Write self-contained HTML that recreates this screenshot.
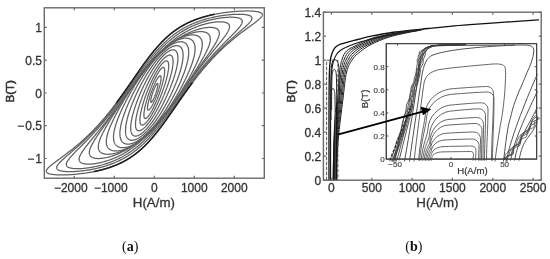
<!DOCTYPE html>
<html><head><meta charset="utf-8"><style>html,body{margin:0;padding:0;background:#fff;}svg{display:block;filter:blur(0.3px);}</style></head>
<body>
<svg width="550" height="259" viewBox="0 0 550 259">
<rect width="550" height="259" fill="#fff"/>
<g fill="none" stroke="#606060" stroke-width="1.25">
<path d="M246.92,10.98 246.06,10.98 245.17,10.99 244.27,11.00 243.35,11.03 242.42,11.06 241.47,11.09 240.51,11.13 239.53,11.18 238.54,11.24 237.54,11.30 236.53,11.37 235.51,11.45 234.47,11.53 233.43,11.62 232.38,11.71 231.32,11.82 230.26,11.93 229.18,12.04 228.10,12.17 227.02,12.30 225.93,12.44 224.83,12.58 223.73,12.74 222.63,12.90 221.52,13.07 220.41,13.25 219.30,13.43 218.19,13.62 217.07,13.83 215.96,14.04 214.85,14.25 213.73,14.48 212.62,14.72 211.51,14.96 210.39,15.21 209.29,15.48 208.18,15.75 207.08,16.03 205.97,16.32 204.88,16.62 203.78,16.93 202.69,17.25 201.60,17.58 200.52,17.92 199.44,18.28 198.37,18.64 197.30,19.01 196.23,19.40 195.17,19.79 194.12,20.20 193.07,20.62 192.03,21.06 190.99,21.50 189.96,21.96 188.93,22.43 187.91,22.91 186.90,23.41 185.89,23.92 184.88,24.44 183.88,24.98 182.89,25.53 181.90,26.09 180.92,26.67 179.95,27.26 178.98,27.87 178.01,28.50 177.05,29.14 176.10,29.79 175.15,30.46 174.20,31.15 173.26,31.85 172.33,32.57 171.39,33.30 170.47,34.05 169.54,34.82 168.63,35.60 167.71,36.41 166.80,37.22 165.89,38.06 164.98,38.91 164.08,39.78 163.18,40.67 162.28,41.57 161.39,42.50 160.49,43.43 159.60,44.39 158.71,45.37 157.82,46.36 156.93,47.37 156.05,48.39 155.16,49.44 154.27,50.50 153.39,51.58 152.50,52.67 151.61,53.78 150.72,54.91 149.83,56.05 148.94,57.21 148.05,58.39 147.16,59.58 146.26,60.79 145.36,62.01 144.46,63.24 143.56,64.49 142.65,65.75 141.75,67.03 140.83,68.31 139.92,69.61 139.00,70.92 138.08,72.24 137.15,73.58 136.22,74.92 135.28,76.27 134.34,77.63 133.39,79.00 132.44,80.37 131.49,81.75 130.53,83.14 129.56,84.53 128.59,85.93 127.62,87.33 126.64,88.73 125.65,90.14 124.65,91.54 123.66,92.95 122.65,94.36 121.64,95.76 120.63,97.17 119.61,98.57 118.58,99.97 117.55,101.37 116.51,102.76 115.46,104.15 114.41,105.53 113.36,106.90 112.30,108.27 111.24,109.63 110.17,110.98 109.09,112.32 108.01,113.66 106.93,114.98 105.84,116.29 104.75,117.59 103.66,118.87 102.56,120.15 101.46,121.41 100.35,122.66 99.25,123.89 98.14,125.11 97.03,126.32 95.91,127.51 94.80,128.69 93.69,129.85 92.57,130.99 91.46,132.12 90.34,133.23 89.23,134.32 88.12,135.40 87.01,136.46 85.91,137.51 84.80,138.53 83.70,139.54 82.61,140.53 81.52,141.51 80.43,142.47 79.35,143.40 78.28,144.33 77.21,145.23 76.15,146.12 75.10,146.99 74.06,147.84 73.03,148.68 72.01,149.49 71.00,150.30 70.00,151.08 69.01,151.85 68.03,152.60 67.07,153.33 66.13,154.05 65.19,154.75 64.28,155.44 63.38,156.11 62.49,156.76 61.62,157.40 60.77,158.03 59.94,158.64 59.13,159.23 58.34,159.81 57.57,160.37 56.82,160.92 56.09,161.46 55.38,161.98 54.70,162.49 54.04,162.99 53.40,163.47 52.79,163.94 52.21,164.40 51.64,164.84 51.11,165.28 50.60,165.70 50.12,166.11 49.66,166.50 49.23,166.89 48.83,167.26 48.46,167.62 48.12,167.98 47.80,168.32 47.52,168.65 47.26,168.97 47.04,169.28 46.84,169.58 46.68,169.87 46.54,170.15 46.43,170.42 46.36,170.69 46.31,170.94 46.30,171.18 46.32,171.42 46.36,171.65 46.44,171.86 46.55,172.07 46.69,172.28 46.85,172.47 47.05,172.65 47.28,172.83 47.54,173.00 47.82,173.16 48.14,173.32 48.48,173.46 48.86,173.60 49.26,173.73 49.69,173.86 50.15,173.97 50.63,174.08 51.14,174.19 51.68,174.28 52.24,174.37 52.83,174.45 53.44,174.53 54.08,174.60 54.74,174.66 55.43,174.72 56.14,174.77 56.87,174.81 57.62,174.84 58.39,174.87 59.18,174.90 59.99,174.91 60.83,174.92 61.68,174.93 62.54,174.92 63.43,174.91 64.33,174.90 65.25,174.87 66.18,174.84 67.13,174.81 68.09,174.77 69.07,174.72 70.06,174.66 71.06,174.60 72.07,174.53 73.09,174.45 74.13,174.37 75.17,174.28 76.22,174.19 77.28,174.08 78.34,173.97 79.42,173.86 80.50,173.73 81.58,173.60 82.67,173.46 83.77,173.32 84.87,173.16 85.97,173.00 87.08,172.83 88.19,172.65 89.30,172.47 90.41,172.28 91.53,172.07 92.64,171.86 93.75,171.65 94.87,171.42 95.98,171.18 97.09,170.94 98.21,170.69 99.31,170.42 100.42,170.15 101.52,169.87 102.63,169.58 103.72,169.28 104.82,168.97 105.91,168.65 107.00,168.32 108.08,167.98 109.16,167.62 110.23,167.26 111.30,166.89 112.37,166.50 113.43,166.11 114.48,165.70 115.53,165.28 116.57,164.84 117.61,164.40 118.64,163.94 119.67,163.47 120.69,162.99 121.70,162.49 122.71,161.98 123.72,161.46 124.72,160.92 125.71,160.37 126.70,159.81 127.68,159.23 128.65,158.64 129.62,158.03 130.59,157.40 131.55,156.76 132.50,156.11 133.45,155.44 134.40,154.75 135.34,154.05 136.27,153.33 137.21,152.60 138.13,151.85 139.06,151.08 139.97,150.30 140.89,149.49 141.80,148.68 142.71,147.84 143.62,146.99 144.52,146.12 145.42,145.23 146.32,144.33 147.21,143.40 148.11,142.47 149.00,141.51 149.89,140.53 150.78,139.54 151.67,138.53 152.55,137.51 153.44,136.46 154.33,135.40 155.21,134.32 156.10,133.23 156.99,132.12 157.88,130.99 158.77,129.85 159.66,128.69 160.55,127.51 161.44,126.32 162.34,125.11 163.24,123.89 164.14,122.66 165.04,121.41 165.95,120.15 166.85,118.87 167.77,117.59 168.68,116.29 169.60,114.98 170.52,113.66 171.45,112.32 172.38,110.98 173.32,109.63 174.26,108.27 175.21,106.90 176.16,105.53 177.11,104.15 178.07,102.76 179.04,101.37 180.01,99.97 180.98,98.57 181.96,97.17 182.95,95.76 183.95,94.36 184.94,92.95 185.95,91.54 186.96,90.14 187.97,88.73 188.99,87.33 190.02,85.93 191.05,84.53 192.09,83.14 193.14,81.75 194.19,80.37 195.24,79.00 196.30,77.63 197.36,76.27 198.43,74.92 199.51,73.58 200.59,72.24 201.67,70.92 202.76,69.61 203.85,68.31 204.94,67.03 206.04,65.75 207.14,64.49 208.25,63.24 209.35,62.01 210.46,60.79 211.57,59.58 212.69,58.39 213.80,57.21 214.91,56.05 216.03,54.91 217.14,53.78 218.26,52.67 219.37,51.58 220.48,50.50 221.59,49.44 222.69,48.39 223.80,47.37 224.90,46.36 225.99,45.37 227.08,44.39 228.17,43.43 229.25,42.50 230.32,41.57 231.39,40.67 232.45,39.78 233.50,38.91 234.54,38.06 235.57,37.22 236.59,36.41 237.60,35.60 238.60,34.82 239.59,34.05 240.57,33.30 241.53,32.57 242.47,31.85 243.41,31.15 244.32,30.46 245.22,29.79 246.11,29.14 246.98,28.50 247.83,27.87 248.66,27.26 249.47,26.67 250.26,26.09 251.03,25.53 251.78,24.98 252.51,24.44 253.22,23.92 253.90,23.41 254.56,22.91 255.20,22.43 255.81,21.96 256.39,21.50 256.96,21.06 257.49,20.62 258.00,20.20 258.48,19.79 258.94,19.40 259.37,19.01 259.77,18.64 260.14,18.28 260.48,17.92 260.80,17.58 261.08,17.25 261.34,16.93 261.56,16.62 261.76,16.32 261.92,16.03 262.06,15.75 262.17,15.48 262.24,15.21 262.29,14.96 262.30,14.72 262.28,14.48 262.24,14.25 262.16,14.04 262.05,13.83 261.91,13.62 261.75,13.43 261.55,13.25 261.32,13.07 261.06,12.90 260.78,12.74 260.46,12.58 260.12,12.44 259.74,12.30 259.34,12.17 258.91,12.04 258.45,11.93 257.97,11.82 257.46,11.71 256.92,11.62 256.36,11.53 255.77,11.45 255.16,11.37 254.52,11.30 253.86,11.24 253.17,11.18 252.46,11.13 251.73,11.09 250.98,11.06 250.21,11.03 249.42,11.00 248.61,10.99 247.77,10.98Z"/>
<path d="M238.86,14.25 238.12,14.26 237.36,14.27 236.59,14.29 235.81,14.31 235.01,14.34 234.19,14.38 233.37,14.43 232.53,14.48 231.68,14.54 230.81,14.60 229.94,14.68 229.06,14.76 228.16,14.85 227.26,14.94 226.35,15.05 225.43,15.16 224.50,15.28 223.57,15.40 222.62,15.53 221.68,15.67 220.72,15.82 219.76,15.98 218.80,16.14 217.83,16.32 216.85,16.50 215.87,16.68 214.89,16.88 213.91,17.09 212.92,17.30 211.93,17.52 210.94,17.75 209.95,17.99 208.96,18.24 207.96,18.50 206.97,18.76 205.98,19.04 204.98,19.33 203.99,19.62 202.99,19.92 202.00,20.24 201.01,20.56 200.02,20.90 199.03,21.24 198.05,21.60 197.07,21.96 196.08,22.34 195.11,22.72 194.13,23.12 193.16,23.53 192.19,23.95 191.22,24.38 190.25,24.83 189.29,25.28 188.33,25.75 187.38,26.23 186.43,26.72 185.48,27.22 184.54,27.74 183.60,28.27 182.66,28.81 181.73,29.37 180.80,29.94 179.87,30.52 178.95,31.11 178.03,31.72 177.12,32.34 176.21,32.98 175.30,33.63 174.39,34.30 173.49,34.98 172.59,35.67 171.70,36.38 170.80,37.10 169.91,37.84 169.03,38.59 168.14,39.36 167.26,40.14 166.38,40.93 165.50,41.75 164.63,42.57 163.76,43.42 162.88,44.27 162.01,45.14 161.15,46.03 160.28,46.93 159.41,47.85 158.55,48.78 157.68,49.73 156.82,50.69 155.96,51.67 155.10,52.66 154.23,53.66 153.37,54.68 152.51,55.72 151.65,56.76 150.78,57.82 149.92,58.90 149.05,59.98 148.19,61.09 147.32,62.20 146.45,63.32 145.58,64.46 144.71,65.61 143.84,66.77 142.96,67.94 142.08,69.12 141.20,70.31 140.32,71.52 139.44,72.73 138.55,73.95 137.66,75.18 136.77,76.41 135.87,77.65 134.97,78.90 134.07,80.16 133.16,81.42 132.25,82.69 131.34,83.96 130.43,85.24 129.51,86.52 128.58,87.80 127.66,89.09 126.73,90.37 125.79,91.66 124.86,92.95 123.92,94.24 122.97,95.53 122.02,96.81 121.07,98.10 120.12,99.38 119.16,100.66 118.20,101.94 117.23,103.21 116.27,104.48 115.29,105.74 114.32,107.00 113.34,108.25 112.37,109.49 111.38,110.72 110.40,111.95 109.41,113.17 108.43,114.38 107.44,115.59 106.45,116.78 105.45,117.96 104.46,119.13 103.47,120.29 102.47,121.44 101.48,122.58 100.48,123.70 99.49,124.81 98.50,125.92 97.50,127.00 96.51,128.08 95.53,129.14 94.54,130.18 93.56,131.22 92.58,132.24 91.60,133.24 90.63,134.23 89.66,135.21 88.69,136.17 87.73,137.12 86.78,138.05 85.83,138.97 84.89,139.87 83.96,140.76 83.03,141.63 82.11,142.48 81.20,143.33 80.30,144.15 79.41,144.97 78.53,145.76 77.65,146.54 76.79,147.31 75.94,148.06 75.11,148.80 74.28,149.52 73.47,150.23 72.67,150.92 71.89,151.60 71.12,152.27 70.36,152.92 69.63,153.56 68.90,154.18 68.20,154.79 67.51,155.38 66.83,155.96 66.18,156.53 65.54,157.09 64.93,157.63 64.33,158.16 63.75,158.68 63.20,159.18 62.66,159.67 62.14,160.15 61.65,160.62 61.18,161.07 60.72,161.52 60.30,161.95 59.89,162.37 59.51,162.78 59.15,163.18 58.81,163.56 58.50,163.94 58.21,164.30 57.95,164.66 57.71,165.00 57.50,165.34 57.31,165.66 57.15,165.98 57.01,166.28 56.90,166.57 56.81,166.86 56.75,167.14 56.71,167.40 56.70,167.66 56.71,167.91 56.76,168.15 56.82,168.38 56.91,168.60 57.03,168.81 57.17,169.02 57.34,169.22 57.53,169.40 57.75,169.58 57.99,169.76 58.26,169.92 58.55,170.08 58.86,170.23 59.20,170.37 59.57,170.50 59.95,170.62 60.36,170.74 60.79,170.85 61.25,170.96 61.72,171.05 62.22,171.14 62.74,171.22 63.28,171.30 63.84,171.36 64.42,171.42 65.02,171.47 65.64,171.52 66.28,171.56 66.94,171.59 67.61,171.61 68.30,171.63 69.01,171.64 69.74,171.65 70.48,171.64 71.24,171.63 72.01,171.61 72.79,171.59 73.59,171.56 74.41,171.52 75.23,171.47 76.07,171.42 76.92,171.36 77.79,171.30 78.66,171.22 79.54,171.14 80.44,171.05 81.34,170.96 82.25,170.85 83.17,170.74 84.10,170.62 85.03,170.50 85.98,170.37 86.92,170.23 87.88,170.08 88.84,169.92 89.80,169.76 90.77,169.58 91.75,169.40 92.73,169.22 93.71,169.02 94.69,168.81 95.68,168.60 96.67,168.38 97.66,168.15 98.65,167.91 99.64,167.66 100.64,167.40 101.63,167.14 102.62,166.86 103.62,166.57 104.61,166.28 105.61,165.98 106.60,165.66 107.59,165.34 108.58,165.00 109.57,164.66 110.55,164.30 111.53,163.94 112.52,163.56 113.49,163.18 114.47,162.78 115.44,162.37 116.41,161.95 117.38,161.52 118.35,161.07 119.31,160.62 120.27,160.15 121.22,159.67 122.17,159.18 123.12,158.68 124.06,158.16 125.00,157.63 125.94,157.09 126.87,156.53 127.80,155.96 128.73,155.38 129.65,154.79 130.57,154.18 131.48,153.56 132.39,152.92 133.30,152.27 134.21,151.60 135.11,150.92 136.01,150.23 136.90,149.52 137.80,148.80 138.69,148.06 139.57,147.31 140.46,146.54 141.34,145.76 142.22,144.97 143.10,144.15 143.97,143.33 144.84,142.48 145.72,141.63 146.59,140.76 147.45,139.87 148.32,138.97 149.19,138.05 150.05,137.12 150.92,136.17 151.78,135.21 152.64,134.23 153.50,133.24 154.37,132.24 155.23,131.22 156.09,130.18 156.95,129.14 157.82,128.08 158.68,127.00 159.55,125.92 160.41,124.81 161.28,123.70 162.15,122.58 163.02,121.44 163.89,120.29 164.76,119.13 165.64,117.96 166.52,116.78 167.40,115.59 168.28,114.38 169.16,113.17 170.05,111.95 170.94,110.72 171.83,109.49 172.73,108.25 173.63,107.00 174.53,105.74 175.44,104.48 176.35,103.21 177.26,101.94 178.17,100.66 179.09,99.38 180.02,98.10 180.94,96.81 181.87,95.53 182.81,94.24 183.74,92.95 184.68,91.66 185.63,90.37 186.58,89.09 187.53,87.80 188.48,86.52 189.44,85.24 190.40,83.96 191.37,82.69 192.33,81.42 193.31,80.16 194.28,78.90 195.26,77.65 196.23,76.41 197.22,75.18 198.20,73.95 199.19,72.73 200.17,71.52 201.16,70.31 202.15,69.12 203.15,67.94 204.14,66.77 205.13,65.61 206.13,64.46 207.12,63.32 208.12,62.20 209.11,61.09 210.10,59.98 211.10,58.90 212.09,57.82 213.07,56.76 214.06,55.72 215.04,54.68 216.02,53.66 217.00,52.66 217.97,51.67 218.94,50.69 219.91,49.73 220.87,48.78 221.82,47.85 222.77,46.93 223.71,46.03 224.64,45.14 225.57,44.27 226.49,43.42 227.40,42.57 228.30,41.75 229.19,40.93 230.07,40.14 230.95,39.36 231.81,38.59 232.66,37.84 233.49,37.10 234.32,36.38 235.13,35.67 235.93,34.98 236.71,34.30 237.48,33.63 238.24,32.98 238.97,32.34 239.70,31.72 240.40,31.11 241.09,30.52 241.77,29.94 242.42,29.37 243.06,28.81 243.67,28.27 244.27,27.74 244.85,27.22 245.40,26.72 245.94,26.23 246.46,25.75 246.95,25.28 247.42,24.83 247.88,24.38 248.30,23.95 248.71,23.53 249.09,23.12 249.45,22.72 249.79,22.34 250.10,21.96 250.39,21.60 250.65,21.24 250.89,20.90 251.10,20.56 251.29,20.24 251.45,19.92 251.59,19.62 251.70,19.33 251.79,19.04 251.85,18.76 251.89,18.50 251.90,18.24 251.89,17.99 251.84,17.75 251.78,17.52 251.69,17.30 251.57,17.09 251.43,16.88 251.26,16.68 251.07,16.50 250.85,16.32 250.61,16.14 250.34,15.98 250.05,15.82 249.74,15.67 249.40,15.53 249.03,15.40 248.65,15.28 248.24,15.16 247.81,15.05 247.35,14.94 246.88,14.85 246.38,14.76 245.86,14.68 245.32,14.60 244.76,14.54 244.18,14.48 243.58,14.43 242.96,14.38 242.32,14.34 241.66,14.31 240.99,14.29 240.30,14.27 239.59,14.26Z"/>
<path d="M231.11,17.21 230.47,17.21 229.82,17.22 229.16,17.24 228.48,17.26 227.80,17.30 227.09,17.34 226.38,17.39 225.66,17.44 224.92,17.51 224.18,17.58 223.42,17.66 222.65,17.74 221.88,17.84 221.10,17.94 220.30,18.05 219.50,18.16 218.69,18.29 217.88,18.42 217.05,18.56 216.23,18.71 215.39,18.87 214.55,19.03 213.70,19.20 212.85,19.39 211.99,19.58 211.13,19.77 210.26,19.98 209.39,20.19 208.52,20.42 207.64,20.65 206.76,20.89 205.88,21.14 205.00,21.40 204.11,21.67 203.22,21.95 202.33,22.23 201.44,22.53 200.55,22.84 199.66,23.15 198.76,23.48 197.87,23.81 196.97,24.16 196.08,24.51 195.19,24.88 194.29,25.25 193.40,25.64 192.51,26.04 191.62,26.44 190.73,26.86 189.84,27.29 188.95,27.73 188.07,28.18 187.18,28.64 186.30,29.12 185.42,29.60 184.54,30.10 183.66,30.61 182.79,31.13 181.91,31.66 181.04,32.20 180.17,32.76 179.30,33.33 178.44,33.91 177.57,34.50 176.71,35.11 175.85,35.73 174.99,36.36 174.14,37.00 173.28,37.66 172.43,38.33 171.58,39.01 170.73,39.71 169.89,40.42 169.04,41.14 168.20,41.87 167.36,42.62 166.52,43.38 165.68,44.16 164.85,44.95 164.01,45.75 163.18,46.56 162.34,47.39 161.51,48.23 160.68,49.08 159.85,49.95 159.02,50.83 158.19,51.72 157.36,52.63 156.53,53.54 155.71,54.47 154.88,55.42 154.05,56.37 153.22,57.34 152.40,58.31 151.57,59.30 150.74,60.31 149.91,61.32 149.08,62.34 148.25,63.38 147.42,64.42 146.59,65.48 145.76,66.54 144.92,67.62 144.09,68.70 143.25,69.79 142.41,70.89 141.57,72.00 140.73,73.12 139.89,74.25 139.05,75.38 138.20,76.52 137.35,77.67 136.51,78.82 135.65,79.98 134.80,81.14 133.95,82.31 133.09,83.48 132.23,84.65 131.37,85.83 130.51,87.01 129.64,88.20 128.77,89.39 127.91,90.57 127.03,91.76 126.16,92.95 125.29,94.14 124.41,95.33 123.53,96.51 122.65,97.70 121.77,98.89 120.88,100.07 120.00,101.25 119.11,102.42 118.22,103.59 117.33,104.76 116.44,105.92 115.55,107.08 114.66,108.23 113.77,109.38 112.87,110.52 111.98,111.65 111.09,112.78 110.19,113.90 109.30,115.01 108.41,116.11 107.51,117.20 106.62,118.28 105.73,119.36 104.84,120.42 103.96,121.48 103.07,122.52 102.19,123.56 101.31,124.58 100.43,125.59 99.55,126.60 98.68,127.59 97.81,128.56 96.95,129.53 96.09,130.48 95.24,131.43 94.39,132.36 93.54,133.27 92.71,134.18 91.87,135.07 91.05,135.95 90.23,136.82 89.42,137.67 88.61,138.51 87.82,139.34 87.03,140.15 86.25,140.95 85.48,141.74 84.72,142.52 83.97,143.28 83.23,144.03 82.50,144.76 81.79,145.48 81.08,146.19 80.39,146.89 79.71,147.57 79.04,148.24 78.38,148.90 77.74,149.54 77.11,150.17 76.50,150.79 75.90,151.40 75.32,151.99 74.75,152.57 74.19,153.14 73.66,153.70 73.14,154.24 72.63,154.77 72.15,155.29 71.68,155.80 71.23,156.30 70.80,156.78 70.38,157.26 69.99,157.72 69.61,158.17 69.25,158.61 68.91,159.04 68.60,159.46 68.30,159.86 68.02,160.26 67.76,160.65 67.52,161.02 67.31,161.39 67.11,161.74 66.94,162.09 66.78,162.42 66.65,162.75 66.54,163.06 66.45,163.37 66.38,163.67 66.33,163.95 66.31,164.23 66.30,164.50 66.32,164.76 66.36,165.01 66.42,165.25 66.50,165.48 66.60,165.71 66.73,165.92 66.87,166.13 67.04,166.32 67.23,166.51 67.44,166.70 67.66,166.87 67.91,167.03 68.18,167.19 68.48,167.34 68.79,167.48 69.12,167.61 69.47,167.74 69.83,167.85 70.22,167.96 70.63,168.06 71.05,168.16 71.50,168.24 71.96,168.32 72.44,168.39 72.94,168.46 73.45,168.51 73.98,168.56 74.53,168.60 75.09,168.64 75.67,168.66 76.26,168.68 76.87,168.69 77.49,168.69 78.13,168.69 78.78,168.68 79.44,168.66 80.12,168.64 80.80,168.60 81.51,168.56 82.22,168.51 82.94,168.46 83.68,168.39 84.42,168.32 85.18,168.24 85.95,168.16 86.72,168.06 87.50,167.96 88.30,167.85 89.10,167.74 89.91,167.61 90.72,167.48 91.55,167.34 92.37,167.19 93.21,167.03 94.05,166.87 94.90,166.70 95.75,166.51 96.61,166.32 97.47,166.13 98.34,165.92 99.21,165.71 100.08,165.48 100.96,165.25 101.84,165.01 102.72,164.76 103.60,164.50 104.49,164.23 105.38,163.95 106.27,163.67 107.16,163.37 108.05,163.06 108.94,162.75 109.84,162.42 110.73,162.09 111.63,161.74 112.52,161.39 113.41,161.02 114.31,160.65 115.20,160.26 116.09,159.86 116.98,159.46 117.87,159.04 118.76,158.61 119.65,158.17 120.53,157.72 121.42,157.26 122.30,156.78 123.18,156.30 124.06,155.80 124.94,155.29 125.81,154.77 126.69,154.24 127.56,153.70 128.43,153.14 129.30,152.57 130.16,151.99 131.03,151.40 131.89,150.79 132.75,150.17 133.61,149.54 134.46,148.90 135.32,148.24 136.17,147.57 137.02,146.89 137.87,146.19 138.71,145.48 139.56,144.76 140.40,144.03 141.24,143.28 142.08,142.52 142.92,141.74 143.75,140.95 144.59,140.15 145.42,139.34 146.26,138.51 147.09,137.67 147.92,136.82 148.75,135.95 149.58,135.07 150.41,134.18 151.24,133.27 152.07,132.36 152.89,131.43 153.72,130.48 154.55,129.53 155.38,128.56 156.20,127.59 157.03,126.60 157.86,125.59 158.69,124.58 159.52,123.56 160.35,122.52 161.18,121.48 162.01,120.42 162.84,119.36 163.68,118.28 164.51,117.20 165.35,116.11 166.19,115.01 167.03,113.90 167.87,112.78 168.71,111.65 169.55,110.52 170.40,109.38 171.25,108.23 172.09,107.08 172.95,105.92 173.80,104.76 174.65,103.59 175.51,102.42 176.37,101.25 177.23,100.07 178.09,98.89 178.96,97.70 179.83,96.51 180.69,95.33 181.57,94.14 182.44,92.95 183.31,91.76 184.19,90.57 185.07,89.39 185.95,88.20 186.83,87.01 187.72,85.83 188.60,84.65 189.49,83.48 190.38,82.31 191.27,81.14 192.16,79.98 193.05,78.82 193.94,77.67 194.83,76.52 195.73,75.38 196.62,74.25 197.51,73.12 198.41,72.00 199.30,70.89 200.19,69.79 201.09,68.70 201.98,67.62 202.87,66.54 203.76,65.48 204.64,64.42 205.53,63.38 206.41,62.34 207.29,61.32 208.17,60.31 209.05,59.30 209.92,58.31 210.79,57.34 211.65,56.37 212.51,55.42 213.36,54.47 214.21,53.54 215.06,52.63 215.89,51.72 216.73,50.83 217.55,49.95 218.37,49.08 219.18,48.23 219.99,47.39 220.78,46.56 221.57,45.75 222.35,44.95 223.12,44.16 223.88,43.38 224.63,42.62 225.37,41.87 226.10,41.14 226.81,40.42 227.52,39.71 228.21,39.01 228.89,38.33 229.56,37.66 230.22,37.00 230.86,36.36 231.49,35.73 232.10,35.11 232.70,34.50 233.28,33.91 233.85,33.33 234.41,32.76 234.94,32.20 235.46,31.66 235.97,31.13 236.45,30.61 236.92,30.10 237.37,29.60 237.80,29.12 238.22,28.64 238.61,28.18 238.99,27.73 239.35,27.29 239.69,26.86 240.00,26.44 240.30,26.04 240.58,25.64 240.84,25.25 241.08,24.88 241.29,24.51 241.49,24.16 241.66,23.81 241.82,23.48 241.95,23.15 242.06,22.84 242.15,22.53 242.22,22.23 242.27,21.95 242.29,21.67 242.30,21.40 242.28,21.14 242.24,20.89 242.18,20.65 242.10,20.42 242.00,20.19 241.87,19.98 241.73,19.77 241.56,19.58 241.37,19.39 241.16,19.20 240.94,19.03 240.69,18.87 240.42,18.71 240.12,18.56 239.81,18.42 239.48,18.29 239.13,18.16 238.77,18.05 238.38,17.94 237.97,17.84 237.55,17.74 237.10,17.66 236.64,17.58 236.16,17.51 235.66,17.44 235.15,17.39 234.62,17.34 234.07,17.30 233.51,17.26 232.93,17.24 232.34,17.22 231.73,17.21Z"/>
<path d="M219.98,21.80 219.46,21.80 218.93,21.81 218.38,21.83 217.83,21.86 217.26,21.89 216.69,21.94 216.10,21.99 215.50,22.05 214.90,22.11 214.29,22.19 213.66,22.27 213.03,22.36 212.40,22.46 211.75,22.57 211.09,22.69 210.43,22.81 209.76,22.94 209.09,23.08 208.41,23.23 207.72,23.38 207.02,23.55 206.32,23.72 205.62,23.90 204.91,24.09 204.19,24.29 203.47,24.50 202.75,24.71 202.02,24.94 201.28,25.17 200.55,25.41 199.81,25.66 199.06,25.92 198.31,26.19 197.56,26.47 196.81,26.75 196.06,27.05 195.30,27.36 194.54,27.67 193.77,27.99 193.01,28.33 192.24,28.67 191.48,29.02 190.71,29.38 189.94,29.76 189.17,30.14 188.39,30.53 187.62,30.93 186.85,31.34 186.07,31.76 185.30,32.20 184.52,32.64 183.75,33.09 182.97,33.55 182.20,34.02 181.42,34.51 180.65,35.00 179.87,35.51 179.10,36.02 178.32,36.55 177.55,37.08 176.77,37.63 176.00,38.19 175.22,38.76 174.45,39.34 173.68,39.93 172.91,40.53 172.14,41.15 171.36,41.77 170.59,42.41 169.82,43.05 169.06,43.71 168.29,44.38 167.52,45.06 166.75,45.75 165.98,46.45 165.22,47.16 164.45,47.89 163.69,48.62 162.92,49.37 162.16,50.12 161.39,50.89 160.63,51.67 159.86,52.45 159.10,53.25 158.34,54.06 157.58,54.88 156.81,55.71 156.05,56.55 155.29,57.40 154.53,58.26 153.76,59.13 153.00,60.01 152.24,60.90 151.48,61.80 150.71,62.71 149.95,63.62 149.19,64.55 148.42,65.48 147.66,66.42 146.90,67.37 146.13,68.33 145.37,69.30 144.60,70.27 143.84,71.25 143.07,72.24 142.30,73.23 141.54,74.23 140.77,75.24 140.00,76.25 139.23,77.26 138.46,78.29 137.69,79.31 136.92,80.34 136.15,81.38 135.38,82.42 134.61,83.46 133.83,84.51 133.06,85.56 132.29,86.61 131.51,87.66 130.74,88.72 129.96,89.77 129.19,90.83 128.41,91.89 127.64,92.95 126.86,94.01 126.09,95.07 125.31,96.13 124.53,97.18 123.76,98.24 122.98,99.29 122.21,100.34 121.44,101.39 120.66,102.44 119.89,103.48 119.12,104.52 118.35,105.56 117.58,106.59 116.81,107.61 116.04,108.64 115.28,109.65 114.51,110.66 113.75,111.67 112.99,112.67 112.24,113.66 111.48,114.65 110.73,115.63 109.98,116.60 109.23,117.57 108.49,118.53 107.75,119.48 107.02,120.42 106.28,121.35 105.56,122.28 104.83,123.19 104.11,124.10 103.40,125.00 102.69,125.89 101.99,126.77 101.29,127.64 100.60,128.50 99.91,129.35 99.23,130.19 98.56,131.02 97.90,131.84 97.24,132.65 96.59,133.45 95.94,134.23 95.31,135.01 94.68,135.78 94.06,136.53 93.45,137.28 92.85,138.01 92.26,138.74 91.68,139.45 91.11,140.15 90.55,140.84 89.99,141.52 89.45,142.19 88.93,142.85 88.41,143.49 87.90,144.13 87.41,144.75 86.92,145.37 86.45,145.97 86.00,146.56 85.55,147.14 85.12,147.71 84.70,148.27 84.30,148.82 83.91,149.35 83.53,149.88 83.17,150.39 82.82,150.90 82.48,151.39 82.16,151.88 81.86,152.35 81.57,152.81 81.30,153.26 81.04,153.70 80.80,154.14 80.57,154.56 80.36,154.97 80.16,155.37 79.98,155.76 79.82,156.14 79.68,156.52 79.55,156.88 79.43,157.23 79.33,157.57 79.25,157.91 79.19,158.23 79.14,158.54 79.11,158.85 79.10,159.15 79.10,159.43 79.12,159.71 79.16,159.98 79.22,160.24 79.29,160.49 79.37,160.73 79.48,160.96 79.60,161.19 79.73,161.40 79.89,161.61 80.06,161.81 80.24,162.00 80.44,162.18 80.66,162.35 80.89,162.52 81.14,162.67 81.41,162.82 81.69,162.96 81.98,163.09 82.29,163.21 82.62,163.33 82.96,163.44 83.31,163.54 83.68,163.63 84.06,163.71 84.46,163.79 84.87,163.85 85.30,163.91 85.73,163.96 86.18,164.01 86.64,164.04 87.12,164.07 87.61,164.09 88.11,164.10 88.62,164.10 89.14,164.10 89.67,164.09 90.22,164.07 90.77,164.04 91.34,164.01 91.91,163.96 92.50,163.91 93.10,163.85 93.70,163.79 94.31,163.71 94.94,163.63 95.57,163.54 96.20,163.44 96.85,163.33 97.51,163.21 98.17,163.09 98.84,162.96 99.51,162.82 100.19,162.67 100.88,162.52 101.58,162.35 102.28,162.18 102.98,162.00 103.69,161.81 104.41,161.61 105.13,161.40 105.85,161.19 106.58,160.96 107.32,160.73 108.05,160.49 108.79,160.24 109.54,159.98 110.29,159.71 111.04,159.43 111.79,159.15 112.54,158.85 113.30,158.54 114.06,158.23 114.83,157.91 115.59,157.57 116.36,157.23 117.12,156.88 117.89,156.52 118.66,156.14 119.43,155.76 120.21,155.37 120.98,154.97 121.75,154.56 122.53,154.14 123.30,153.70 124.08,153.26 124.85,152.81 125.63,152.35 126.40,151.88 127.18,151.39 127.95,150.90 128.73,150.39 129.50,149.88 130.28,149.35 131.05,148.82 131.83,148.27 132.60,147.71 133.38,147.14 134.15,146.56 134.92,145.97 135.69,145.37 136.46,144.75 137.24,144.13 138.01,143.49 138.78,142.85 139.54,142.19 140.31,141.52 141.08,140.84 141.85,140.15 142.62,139.45 143.38,138.74 144.15,138.01 144.91,137.28 145.68,136.53 146.44,135.78 147.21,135.01 147.97,134.23 148.74,133.45 149.50,132.65 150.26,131.84 151.02,131.02 151.79,130.19 152.55,129.35 153.31,128.50 154.07,127.64 154.84,126.77 155.60,125.89 156.36,125.00 157.12,124.10 157.89,123.19 158.65,122.28 159.41,121.35 160.18,120.42 160.94,119.48 161.70,118.53 162.47,117.57 163.23,116.60 164.00,115.63 164.76,114.65 165.53,113.66 166.30,112.67 167.06,111.67 167.83,110.66 168.60,109.65 169.37,108.64 170.14,107.61 170.91,106.59 171.68,105.56 172.45,104.52 173.22,103.48 173.99,102.44 174.77,101.39 175.54,100.34 176.31,99.29 177.09,98.24 177.86,97.18 178.64,96.13 179.41,95.07 180.19,94.01 180.96,92.95 181.74,91.89 182.51,90.83 183.29,89.77 184.07,88.72 184.84,87.66 185.62,86.61 186.39,85.56 187.16,84.51 187.94,83.46 188.71,82.42 189.48,81.38 190.25,80.34 191.02,79.31 191.79,78.29 192.56,77.26 193.32,76.25 194.09,75.24 194.85,74.23 195.61,73.23 196.36,72.24 197.12,71.25 197.87,70.27 198.62,69.30 199.37,68.33 200.11,67.37 200.85,66.42 201.58,65.48 202.32,64.55 203.04,63.62 203.77,62.71 204.49,61.80 205.20,60.90 205.91,60.01 206.61,59.13 207.31,58.26 208.00,57.40 208.69,56.55 209.37,55.71 210.04,54.88 210.70,54.06 211.36,53.25 212.01,52.45 212.66,51.67 213.29,50.89 213.92,50.12 214.54,49.37 215.15,48.62 215.75,47.89 216.34,47.16 216.92,46.45 217.49,45.75 218.05,45.06 218.61,44.38 219.15,43.71 219.67,43.05 220.19,42.41 220.70,41.77 221.19,41.15 221.68,40.53 222.15,39.93 222.60,39.34 223.05,38.76 223.48,38.19 223.90,37.63 224.30,37.08 224.69,36.55 225.07,36.02 225.43,35.51 225.78,35.00 226.12,34.51 226.44,34.02 226.74,33.55 227.03,33.09 227.30,32.64 227.56,32.20 227.80,31.76 228.03,31.34 228.24,30.93 228.44,30.53 228.62,30.14 228.78,29.76 228.92,29.38 229.05,29.02 229.17,28.67 229.27,28.33 229.35,27.99 229.41,27.67 229.46,27.36 229.49,27.05 229.50,26.75 229.50,26.47 229.48,26.19 229.44,25.92 229.38,25.66 229.31,25.41 229.23,25.17 229.12,24.94 229.00,24.71 228.87,24.50 228.71,24.29 228.54,24.09 228.36,23.90 228.16,23.72 227.94,23.55 227.71,23.38 227.46,23.23 227.19,23.08 226.91,22.94 226.62,22.81 226.31,22.69 225.98,22.57 225.64,22.46 225.29,22.36 224.92,22.27 224.54,22.19 224.14,22.11 223.73,22.05 223.30,21.99 222.87,21.94 222.42,21.89 221.96,21.86 221.48,21.83 220.99,21.81 220.49,21.80Z"/>
<path d="M210.12,27.37 209.67,27.37 209.20,27.39 208.72,27.41 208.24,27.43 207.74,27.47 207.24,27.51 206.73,27.56 206.21,27.62 205.69,27.69 205.16,27.77 204.62,27.85 204.07,27.94 203.52,28.04 202.96,28.15 202.39,28.26 201.82,28.39 201.24,28.52 200.65,28.66 200.06,28.80 199.47,28.96 198.87,29.12 198.26,29.30 197.65,29.48 197.04,29.67 196.42,29.86 195.79,30.07 195.16,30.28 194.53,30.50 193.90,30.74 193.26,30.97 192.61,31.22 191.97,31.48 191.32,31.74 190.66,32.02 190.01,32.30 189.35,32.59 188.69,32.89 188.03,33.20 187.36,33.52 186.69,33.84 186.02,34.18 185.35,34.52 184.67,34.88 184.00,35.24 183.32,35.61 182.64,35.99 181.96,36.38 181.28,36.78 180.60,37.19 179.91,37.60 179.23,38.03 178.54,38.47 177.86,38.91 177.17,39.36 176.48,39.83 175.79,40.30 175.10,40.78 174.41,41.28 173.72,41.78 173.03,42.29 172.33,42.81 171.64,43.34 170.95,43.88 170.26,44.43 169.56,44.99 168.87,45.56 168.18,46.13 167.48,46.72 166.79,47.32 166.09,47.92 165.40,48.54 164.71,49.16 164.01,49.80 163.32,50.44 162.62,51.09 161.93,51.75 161.23,52.42 160.54,53.10 159.84,53.79 159.15,54.49 158.46,55.20 157.76,55.91 157.07,56.64 156.37,57.37 155.68,58.11 154.98,58.86 154.29,59.62 153.59,60.39 152.90,61.16 152.20,61.95 151.51,62.74 150.81,63.53 150.12,64.34 149.43,65.15 148.73,65.97 148.04,66.80 147.34,67.63 146.65,68.48 145.95,69.32 145.26,70.18 144.56,71.04 143.87,71.90 143.18,72.78 142.48,73.65 141.79,74.54 141.09,75.42 140.40,76.32 139.71,77.21 139.01,78.12 138.32,79.02 137.63,79.93 136.93,80.85 136.24,81.76 135.55,82.69 134.86,83.61 134.17,84.54 133.48,85.46 132.79,86.40 132.10,87.33 131.41,88.26 130.72,89.20 130.03,90.14 129.35,91.07 128.66,92.01 127.98,92.95 127.29,93.89 126.61,94.83 125.93,95.76 125.25,96.70 124.58,97.64 123.90,98.57 123.23,99.50 122.56,100.44 121.89,101.36 121.22,102.29 120.55,103.21 119.89,104.14 119.23,105.05 118.57,105.97 117.91,106.88 117.26,107.78 116.61,108.69 115.96,109.58 115.32,110.48 114.68,111.36 114.05,112.25 113.41,113.12 112.79,114.00 112.16,114.86 111.54,115.72 110.93,116.58 110.32,117.42 109.71,118.27 109.11,119.10 108.51,119.93 107.93,120.75 107.34,121.56 106.76,122.37 106.19,123.16 105.62,123.95 105.06,124.74 104.51,125.51 103.96,126.28 103.43,127.04 102.89,127.79 102.37,128.53 101.85,129.26 101.34,129.99 100.84,130.70 100.35,131.41 99.86,132.11 99.39,132.80 98.92,133.48 98.46,134.15 98.01,134.81 97.57,135.46 97.14,136.10 96.72,136.74 96.31,137.36 95.91,137.98 95.52,138.58 95.14,139.18 94.77,139.77 94.41,140.34 94.06,140.91 93.72,141.47 93.40,142.02 93.09,142.56 92.78,143.09 92.49,143.61 92.21,144.12 91.95,144.62 91.69,145.12 91.45,145.60 91.22,146.07 91.00,146.54 90.80,146.99 90.61,147.43 90.43,147.87 90.26,148.30 90.11,148.71 89.97,149.12 89.84,149.52 89.73,149.91 89.63,150.29 89.54,150.66 89.47,151.02 89.41,151.38 89.36,151.72 89.33,152.06 89.31,152.38 89.30,152.70 89.31,153.01 89.33,153.31 89.36,153.60 89.41,153.88 89.47,154.16 89.54,154.42 89.63,154.68 89.73,154.93 89.85,155.16 89.97,155.40 90.11,155.62 90.27,155.83 90.43,156.04 90.61,156.23 90.81,156.42 91.01,156.60 91.23,156.78 91.46,156.94 91.70,157.10 91.96,157.24 92.22,157.38 92.50,157.51 92.79,157.64 93.10,157.75 93.41,157.86 93.74,157.96 94.07,158.05 94.42,158.13 94.78,158.21 95.15,158.28 95.53,158.34 95.92,158.39 96.32,158.43 96.73,158.47 97.15,158.49 97.59,158.51 98.03,158.53 98.48,158.53 98.93,158.53 99.40,158.51 99.88,158.49 100.36,158.47 100.86,158.43 101.36,158.39 101.87,158.34 102.39,158.28 102.91,158.21 103.44,158.13 103.98,158.05 104.53,157.96 105.08,157.86 105.64,157.75 106.21,157.64 106.78,157.51 107.36,157.38 107.95,157.24 108.54,157.10 109.13,156.94 109.73,156.78 110.34,156.60 110.95,156.42 111.56,156.23 112.18,156.04 112.81,155.83 113.44,155.62 114.07,155.40 114.70,155.16 115.34,154.93 115.99,154.68 116.63,154.42 117.28,154.16 117.94,153.88 118.59,153.60 119.25,153.31 119.91,153.01 120.57,152.70 121.24,152.38 121.91,152.06 122.58,151.72 123.25,151.38 123.93,151.02 124.60,150.66 125.28,150.29 125.96,149.91 126.64,149.52 127.32,149.12 128.00,148.71 128.69,148.30 129.37,147.87 130.06,147.43 130.74,146.99 131.43,146.54 132.12,146.07 132.81,145.60 133.50,145.12 134.19,144.62 134.88,144.12 135.57,143.61 136.27,143.09 136.96,142.56 137.65,142.02 138.34,141.47 139.04,140.91 139.73,140.34 140.42,139.77 141.12,139.18 141.81,138.58 142.51,137.98 143.20,137.36 143.89,136.74 144.59,136.10 145.28,135.46 145.98,134.81 146.67,134.15 147.37,133.48 148.06,132.80 148.76,132.11 149.45,131.41 150.14,130.70 150.84,129.99 151.53,129.26 152.23,128.53 152.92,127.79 153.62,127.04 154.31,126.28 155.01,125.51 155.70,124.74 156.40,123.95 157.09,123.16 157.79,122.37 158.48,121.56 159.17,120.75 159.87,119.93 160.56,119.10 161.26,118.27 161.95,117.42 162.65,116.58 163.34,115.72 164.04,114.86 164.73,114.00 165.42,113.12 166.12,112.25 166.81,111.36 167.51,110.48 168.20,109.58 168.89,108.69 169.59,107.78 170.28,106.88 170.97,105.97 171.67,105.05 172.36,104.14 173.05,103.21 173.74,102.29 174.43,101.36 175.12,100.44 175.81,99.50 176.50,98.57 177.19,97.64 177.88,96.70 178.57,95.76 179.25,94.83 179.94,93.89 180.62,92.95 181.31,92.01 181.99,91.07 182.67,90.14 183.35,89.20 184.02,88.26 184.70,87.33 185.37,86.40 186.04,85.46 186.71,84.54 187.38,83.61 188.05,82.69 188.71,81.76 189.37,80.85 190.03,79.93 190.69,79.02 191.34,78.12 191.99,77.21 192.64,76.32 193.28,75.42 193.92,74.54 194.55,73.65 195.19,72.78 195.81,71.90 196.44,71.04 197.06,70.18 197.67,69.32 198.28,68.48 198.89,67.63 199.49,66.80 200.09,65.97 200.67,65.15 201.26,64.34 201.84,63.53 202.41,62.74 202.98,61.95 203.54,61.16 204.09,60.39 204.64,59.62 205.17,58.86 205.71,58.11 206.23,57.37 206.75,56.64 207.26,55.91 207.76,55.20 208.25,54.49 208.74,53.79 209.21,53.10 209.68,52.42 210.14,51.75 210.59,51.09 211.03,50.44 211.46,49.80 211.88,49.16 212.29,48.54 212.69,47.92 213.08,47.32 213.46,46.72 213.83,46.13 214.19,45.56 214.54,44.99 214.88,44.43 215.20,43.88 215.51,43.34 215.82,42.81 216.11,42.29 216.39,41.78 216.65,41.28 216.91,40.78 217.15,40.30 217.38,39.83 217.60,39.36 217.80,38.91 217.99,38.47 218.17,38.03 218.34,37.60 218.49,37.19 218.63,36.78 218.76,36.38 218.87,35.99 218.97,35.61 219.06,35.24 219.13,34.88 219.19,34.52 219.24,34.18 219.27,33.84 219.29,33.52 219.30,33.20 219.29,32.89 219.27,32.59 219.24,32.30 219.19,32.02 219.13,31.74 219.06,31.48 218.97,31.22 218.87,30.97 218.75,30.74 218.63,30.50 218.49,30.28 218.33,30.07 218.17,29.86 217.99,29.67 217.79,29.48 217.59,29.30 217.37,29.12 217.14,28.96 216.90,28.80 216.64,28.66 216.38,28.52 216.10,28.39 215.81,28.26 215.50,28.15 215.19,28.04 214.86,27.94 214.53,27.85 214.18,27.77 213.82,27.69 213.45,27.62 213.07,27.56 212.68,27.51 212.28,27.47 211.87,27.43 211.45,27.41 211.01,27.39 210.57,27.37Z"/>
<path d="M200.77,31.63 200.36,31.64 199.93,31.65 199.50,31.67 199.06,31.70 198.62,31.73 198.17,31.77 197.71,31.83 197.25,31.89 196.78,31.95 196.30,32.03 195.82,32.11 195.34,32.20 194.84,32.30 194.35,32.41 193.84,32.52 193.34,32.65 192.82,32.78 192.31,32.92 191.79,33.06 191.26,33.22 190.73,33.38 190.19,33.55 189.66,33.73 189.11,33.92 188.57,34.11 188.02,34.32 187.46,34.53 186.91,34.75 186.35,34.98 185.78,35.22 185.22,35.46 184.65,35.71 184.07,35.97 183.50,36.24 182.92,36.52 182.34,36.81 181.76,37.10 181.17,37.41 180.59,37.72 180.00,38.04 179.40,38.36 178.81,38.70 178.22,39.05 177.62,39.40 177.02,39.76 176.42,40.13 175.82,40.51 175.21,40.90 174.61,41.29 174.00,41.70 173.40,42.11 172.79,42.53 172.18,42.96 171.57,43.40 170.95,43.85 170.34,44.31 169.73,44.77 169.11,45.24 168.50,45.72 167.88,46.21 167.26,46.71 166.65,47.22 166.03,47.73 165.41,48.26 164.79,48.79 164.17,49.33 163.55,49.88 162.93,50.43 162.31,51.00 161.69,51.57 161.07,52.15 160.44,52.74 159.82,53.34 159.20,53.95 158.58,54.56 157.95,55.18 157.33,55.81 156.71,56.45 156.09,57.09 155.46,57.75 154.84,58.41 154.22,59.07 153.59,59.75 152.97,60.43 152.35,61.12 151.72,61.82 151.10,62.52 150.48,63.23 149.85,63.95 149.23,64.67 148.61,65.40 147.99,66.14 147.36,66.88 146.74,67.63 146.12,68.38 145.50,69.15 144.88,69.91 144.26,70.68 143.64,71.46 143.02,72.24 142.40,73.03 141.78,73.82 141.17,74.62 140.55,75.42 139.93,76.23 139.32,77.04 138.71,77.85 138.09,78.67 137.48,79.49 136.87,80.31 136.26,81.14 135.65,81.97 135.04,82.81 134.43,83.64 133.83,84.48 133.22,85.32 132.62,86.16 132.02,87.01 131.42,87.85 130.82,88.70 130.22,89.55 129.63,90.40 129.03,91.25 128.44,92.10 127.85,92.95 127.27,93.80 126.68,94.65 126.10,95.50 125.52,96.35 124.94,97.20 124.37,98.05 123.80,98.89 123.23,99.74 122.66,100.58 122.10,101.42 121.54,102.26 120.99,103.09 120.43,103.93 119.88,104.76 119.34,105.59 118.80,106.41 118.26,107.23 117.73,108.05 117.20,108.86 116.67,109.67 116.15,110.48 115.64,111.28 115.12,112.08 114.62,112.87 114.12,113.66 113.62,114.44 113.13,115.22 112.65,115.99 112.17,116.75 111.69,117.52 111.23,118.27 110.76,119.02 110.31,119.76 109.86,120.50 109.42,121.23 108.98,121.95 108.55,122.67 108.13,123.38 107.71,124.08 107.31,124.78 106.90,125.47 106.51,126.15 106.13,126.83 105.75,127.49 105.38,128.15 105.02,128.81 104.66,129.45 104.32,130.09 103.98,130.72 103.65,131.34 103.33,131.95 103.02,132.56 102.72,133.16 102.43,133.75 102.14,134.33 101.87,134.90 101.61,135.47 101.35,136.02 101.10,136.57 100.87,137.11 100.64,137.64 100.43,138.17 100.22,138.68 100.02,139.19 99.84,139.69 99.66,140.18 99.50,140.66 99.34,141.13 99.20,141.59 99.07,142.05 98.94,142.50 98.83,142.94 98.73,143.37 98.64,143.79 98.56,144.20 98.49,144.61 98.43,145.00 98.38,145.39 98.34,145.77 98.32,146.14 98.30,146.50 98.30,146.85 98.31,147.20 98.32,147.54 98.35,147.86 98.39,148.18 98.44,148.49 98.51,148.80 98.58,149.09 98.66,149.38 98.76,149.66 98.86,149.93 98.98,150.19 99.10,150.44 99.24,150.68 99.38,150.92 99.54,151.15 99.71,151.37 99.89,151.58 100.08,151.79 100.28,151.98 100.48,152.17 100.70,152.35 100.93,152.52 101.17,152.68 101.42,152.84 101.68,152.98 101.94,153.12 102.22,153.25 102.51,153.38 102.80,153.49 103.11,153.60 103.42,153.70 103.74,153.79 104.07,153.87 104.41,153.95 104.76,154.01 105.11,154.07 105.48,154.13 105.85,154.17 106.23,154.20 106.62,154.23 107.01,154.25 107.42,154.26 107.83,154.27 108.24,154.26 108.67,154.25 109.10,154.23 109.54,154.20 109.98,154.17 110.43,154.13 110.89,154.07 111.35,154.01 111.82,153.95 112.30,153.87 112.78,153.79 113.26,153.70 113.76,153.60 114.25,153.49 114.76,153.38 115.26,153.25 115.78,153.12 116.29,152.98 116.81,152.84 117.34,152.68 117.87,152.52 118.41,152.35 118.94,152.17 119.49,151.98 120.03,151.79 120.58,151.58 121.14,151.37 121.69,151.15 122.25,150.92 122.82,150.68 123.38,150.44 123.95,150.19 124.53,149.93 125.10,149.66 125.68,149.38 126.26,149.09 126.84,148.80 127.43,148.49 128.01,148.18 128.60,147.86 129.20,147.54 129.79,147.20 130.38,146.85 130.98,146.50 131.58,146.14 132.18,145.77 132.78,145.39 133.39,145.00 133.99,144.61 134.60,144.20 135.20,143.79 135.81,143.37 136.42,142.94 137.03,142.50 137.65,142.05 138.26,141.59 138.87,141.13 139.49,140.66 140.10,140.18 140.72,139.69 141.34,139.19 141.95,138.68 142.57,138.17 143.19,137.64 143.81,137.11 144.43,136.57 145.05,136.02 145.67,135.47 146.29,134.90 146.91,134.33 147.53,133.75 148.16,133.16 148.78,132.56 149.40,131.95 150.02,131.34 150.65,130.72 151.27,130.09 151.89,129.45 152.51,128.81 153.14,128.15 153.76,127.49 154.38,126.83 155.01,126.15 155.63,125.47 156.25,124.78 156.88,124.08 157.50,123.38 158.12,122.67 158.75,121.95 159.37,121.23 159.99,120.50 160.61,119.76 161.24,119.02 161.86,118.27 162.48,117.52 163.10,116.75 163.72,115.99 164.34,115.22 164.96,114.44 165.58,113.66 166.20,112.87 166.82,112.08 167.43,111.28 168.05,110.48 168.67,109.67 169.28,108.86 169.89,108.05 170.51,107.23 171.12,106.41 171.73,105.59 172.34,104.76 172.95,103.93 173.56,103.09 174.17,102.26 174.77,101.42 175.38,100.58 175.98,99.74 176.58,98.89 177.18,98.05 177.78,97.20 178.38,96.35 178.97,95.50 179.57,94.65 180.16,93.80 180.75,92.95 181.33,92.10 181.92,91.25 182.50,90.40 183.08,89.55 183.66,88.70 184.23,87.85 184.80,87.01 185.37,86.16 185.94,85.32 186.50,84.48 187.06,83.64 187.61,82.81 188.17,81.97 188.72,81.14 189.26,80.31 189.80,79.49 190.34,78.67 190.87,77.85 191.40,77.04 191.93,76.23 192.45,75.42 192.96,74.62 193.48,73.82 193.98,73.03 194.48,72.24 194.98,71.46 195.47,70.68 195.95,69.91 196.43,69.15 196.91,68.38 197.37,67.63 197.84,66.88 198.29,66.14 198.74,65.40 199.18,64.67 199.62,63.95 200.05,63.23 200.47,62.52 200.89,61.82 201.29,61.12 201.70,60.43 202.09,59.75 202.47,59.07 202.85,58.41 203.22,57.75 203.58,57.09 203.94,56.45 204.28,55.81 204.62,55.18 204.95,54.56 205.27,53.95 205.58,53.34 205.88,52.74 206.17,52.15 206.46,51.57 206.73,51.00 206.99,50.43 207.25,49.88 207.50,49.33 207.73,48.79 207.96,48.26 208.17,47.73 208.38,47.22 208.58,46.71 208.76,46.21 208.94,45.72 209.10,45.24 209.26,44.77 209.40,44.31 209.53,43.85 209.66,43.40 209.77,42.96 209.87,42.53 209.96,42.11 210.04,41.70 210.11,41.29 210.17,40.90 210.22,40.51 210.26,40.13 210.28,39.76 210.30,39.40 210.30,39.05 210.29,38.70 210.28,38.36 210.25,38.04 210.21,37.72 210.16,37.41 210.09,37.10 210.02,36.81 209.94,36.52 209.84,36.24 209.74,35.97 209.62,35.71 209.50,35.46 209.36,35.22 209.22,34.98 209.06,34.75 208.89,34.53 208.71,34.32 208.52,34.11 208.32,33.92 208.12,33.73 207.90,33.55 207.67,33.38 207.43,33.22 207.18,33.06 206.92,32.92 206.66,32.78 206.38,32.65 206.09,32.52 205.80,32.41 205.49,32.30 205.18,32.20 204.86,32.11 204.53,32.03 204.19,31.95 203.84,31.89 203.49,31.83 203.12,31.77 202.75,31.73 202.37,31.70 201.98,31.67 201.59,31.65 201.18,31.64Z"/>
<path d="M192.53,34.91 192.15,34.92 191.77,34.93 191.38,34.95 190.98,34.97 190.58,35.01 190.18,35.05 189.77,35.10 189.35,35.16 188.93,35.23 188.51,35.31 188.08,35.39 187.64,35.48 187.21,35.58 186.76,35.68 186.32,35.80 185.87,35.92 185.41,36.05 184.95,36.19 184.49,36.34 184.02,36.49 183.55,36.65 183.08,36.82 182.60,37.00 182.12,37.19 181.64,37.38 181.16,37.58 180.67,37.79 180.17,38.01 179.68,38.23 179.18,38.47 178.68,38.71 178.18,38.96 177.67,39.22 177.17,39.48 176.66,39.76 176.14,40.04 175.63,40.33 175.11,40.63 174.60,40.93 174.08,41.25 173.55,41.57 173.03,41.90 172.50,42.23 171.98,42.58 171.45,42.93 170.92,43.30 170.39,43.67 169.85,44.04 169.32,44.43 168.78,44.82 168.24,45.22 167.71,45.63 167.17,46.05 166.63,46.48 166.09,46.91 165.54,47.35 165.00,47.80 164.46,48.26 163.91,48.72 163.37,49.19 162.82,49.67 162.27,50.16 161.72,50.65 161.18,51.16 160.63,51.67 160.08,52.19 159.53,52.71 158.98,53.24 158.43,53.78 157.88,54.33 157.33,54.89 156.78,55.45 156.23,56.02 155.67,56.59 155.12,57.18 154.57,57.77 154.02,58.36 153.47,58.97 152.92,59.58 152.37,60.19 151.82,60.82 151.26,61.45 150.71,62.08 150.16,62.73 149.61,63.38 149.06,64.03 148.51,64.69 147.96,65.36 147.42,66.03 146.87,66.71 146.32,67.40 145.77,68.09 145.23,68.78 144.68,69.48 144.14,70.18 143.59,70.89 143.05,71.61 142.51,72.33 141.97,73.05 141.43,73.78 140.89,74.51 140.35,75.25 139.81,75.99 139.27,76.74 138.74,77.48 138.21,78.23 137.68,78.99 137.14,79.75 136.62,80.51 136.09,81.27 135.56,82.04 135.04,82.81 134.52,83.58 134.00,84.35 133.48,85.13 132.96,85.90 132.45,86.68 131.94,87.46 131.43,88.24 130.92,89.03 130.41,89.81 129.91,90.59 129.41,91.38 128.91,92.16 128.42,92.95 127.93,93.74 127.44,94.52 126.95,95.31 126.47,96.09 125.99,96.87 125.51,97.66 125.04,98.44 124.57,99.22 124.10,100.00 123.64,100.77 123.18,101.55 122.73,102.32 122.28,103.09 121.83,103.86 121.39,104.63 120.95,105.39 120.52,106.15 120.09,106.91 119.66,107.67 119.24,108.42 118.83,109.16 118.42,109.91 118.01,110.65 117.61,111.39 117.22,112.12 116.83,112.85 116.44,113.57 116.07,114.29 115.69,115.01 115.33,115.72 114.97,116.42 114.61,117.12 114.26,117.81 113.92,118.50 113.58,119.19 113.25,119.87 112.93,120.54 112.61,121.21 112.30,121.87 112.00,122.52 111.70,123.17 111.41,123.82 111.13,124.45 110.86,125.08 110.59,125.71 110.33,126.32 110.07,126.93 109.83,127.54 109.59,128.13 109.36,128.72 109.14,129.31 108.92,129.88 108.72,130.45 108.52,131.01 108.33,131.57 108.15,132.12 107.97,132.66 107.81,133.19 107.65,133.71 107.50,134.23 107.36,134.74 107.23,135.25 107.11,135.74 106.99,136.23 106.89,136.71 106.79,137.18 106.70,137.64 106.62,138.10 106.55,138.55 106.49,138.99 106.43,139.42 106.39,139.85 106.35,140.27 106.33,140.68 106.31,141.08 106.30,141.47 106.30,141.86 106.31,142.23 106.33,142.60 106.35,142.97 106.39,143.32 106.44,143.67 106.49,144.00 106.55,144.33 106.62,144.65 106.70,144.97 106.79,145.27 106.89,145.57 106.99,145.86 107.11,146.14 107.23,146.42 107.36,146.68 107.50,146.94 107.65,147.19 107.81,147.43 107.98,147.67 108.15,147.89 108.33,148.11 108.52,148.32 108.72,148.52 108.93,148.71 109.14,148.90 109.36,149.08 109.59,149.25 109.83,149.41 110.08,149.56 110.33,149.71 110.59,149.85 110.86,149.98 111.13,150.10 111.42,150.22 111.71,150.32 112.00,150.42 112.31,150.51 112.62,150.59 112.93,150.67 113.26,150.74 113.59,150.80 113.92,150.85 114.27,150.89 114.62,150.93 114.97,150.95 115.33,150.97 115.70,150.98 116.07,150.99 116.45,150.98 116.83,150.97 117.22,150.95 117.62,150.93 118.02,150.89 118.42,150.85 118.83,150.80 119.25,150.74 119.67,150.67 120.09,150.59 120.52,150.51 120.96,150.42 121.39,150.32 121.84,150.22 122.28,150.10 122.73,149.98 123.19,149.85 123.65,149.71 124.11,149.56 124.58,149.41 125.05,149.25 125.52,149.08 126.00,148.90 126.48,148.71 126.96,148.52 127.44,148.32 127.93,148.11 128.43,147.89 128.92,147.67 129.42,147.43 129.92,147.19 130.42,146.94 130.93,146.68 131.43,146.42 131.94,146.14 132.46,145.86 132.97,145.57 133.49,145.27 134.00,144.97 134.52,144.65 135.05,144.33 135.57,144.00 136.10,143.67 136.62,143.32 137.15,142.97 137.68,142.60 138.21,142.23 138.75,141.86 139.28,141.47 139.82,141.08 140.36,140.68 140.89,140.27 141.43,139.85 141.97,139.42 142.51,138.99 143.06,138.55 143.60,138.10 144.14,137.64 144.69,137.18 145.23,136.71 145.78,136.23 146.33,135.74 146.88,135.25 147.42,134.74 147.97,134.23 148.52,133.71 149.07,133.19 149.62,132.66 150.17,132.12 150.72,131.57 151.27,131.01 151.82,130.45 152.37,129.88 152.93,129.31 153.48,128.72 154.03,128.13 154.58,127.54 155.13,126.93 155.68,126.32 156.23,125.71 156.78,125.08 157.34,124.45 157.89,123.82 158.44,123.17 158.99,122.52 159.54,121.87 160.09,121.21 160.64,120.54 161.18,119.87 161.73,119.19 162.28,118.50 162.83,117.81 163.37,117.12 163.92,116.42 164.46,115.72 165.01,115.01 165.55,114.29 166.09,113.57 166.63,112.85 167.17,112.12 167.71,111.39 168.25,110.65 168.79,109.91 169.33,109.16 169.86,108.42 170.39,107.67 170.92,106.91 171.46,106.15 171.98,105.39 172.51,104.63 173.04,103.86 173.56,103.09 174.08,102.32 174.60,101.55 175.12,100.77 175.64,100.00 176.15,99.22 176.66,98.44 177.17,97.66 177.68,96.87 178.19,96.09 178.69,95.31 179.19,94.52 179.69,93.74 180.18,92.95 180.67,92.16 181.16,91.38 181.65,90.59 182.13,89.81 182.61,89.03 183.09,88.24 183.56,87.46 184.03,86.68 184.50,85.90 184.96,85.13 185.42,84.35 185.87,83.58 186.32,82.81 186.77,82.04 187.21,81.27 187.65,80.51 188.08,79.75 188.51,78.99 188.94,78.23 189.36,77.48 189.77,76.74 190.18,75.99 190.59,75.25 190.99,74.51 191.38,73.78 191.77,73.05 192.16,72.33 192.53,71.61 192.91,70.89 193.27,70.18 193.63,69.48 193.99,68.78 194.34,68.09 194.68,67.40 195.02,66.71 195.35,66.03 195.67,65.36 195.99,64.69 196.30,64.03 196.60,63.38 196.90,62.73 197.19,62.08 197.47,61.45 197.74,60.82 198.01,60.19 198.27,59.58 198.53,58.97 198.77,58.36 199.01,57.77 199.24,57.18 199.46,56.59 199.68,56.02 199.88,55.45 200.08,54.89 200.27,54.33 200.45,53.78 200.63,53.24 200.79,52.71 200.95,52.19 201.10,51.67 201.24,51.16 201.37,50.65 201.49,50.16 201.61,49.67 201.71,49.19 201.81,48.72 201.90,48.26 201.98,47.80 202.05,47.35 202.11,46.91 202.17,46.48 202.21,46.05 202.25,45.63 202.27,45.22 202.29,44.82 202.30,44.43 202.30,44.04 202.29,43.67 202.27,43.30 202.25,42.93 202.21,42.58 202.16,42.23 202.11,41.90 202.05,41.57 201.98,41.25 201.90,40.93 201.81,40.63 201.71,40.33 201.61,40.04 201.49,39.76 201.37,39.48 201.24,39.22 201.10,38.96 200.95,38.71 200.79,38.47 200.62,38.23 200.45,38.01 200.27,37.79 200.08,37.58 199.88,37.38 199.67,37.19 199.46,37.00 199.24,36.82 199.01,36.65 198.77,36.49 198.52,36.34 198.27,36.19 198.01,36.05 197.74,35.92 197.47,35.80 197.18,35.68 196.89,35.58 196.60,35.48 196.29,35.39 195.98,35.31 195.67,35.23 195.34,35.16 195.01,35.10 194.68,35.05 194.33,35.01 193.98,34.97 193.63,34.95 193.27,34.93 192.90,34.92Z"/>
<path d="M185.82,38.16 185.48,38.16 185.15,38.17 184.80,38.19 184.46,38.22 184.11,38.25 183.75,38.30 183.39,38.35 183.03,38.41 182.66,38.47 182.29,38.55 181.91,38.63 181.54,38.72 181.15,38.81 180.77,38.92 180.38,39.03 179.98,39.15 179.59,39.28 179.19,39.41 178.78,39.56 178.38,39.71 177.97,39.87 177.56,40.03 177.14,40.21 176.72,40.39 176.30,40.58 175.88,40.78 175.45,40.98 175.03,41.19 174.59,41.41 174.16,41.64 173.73,41.88 173.29,42.12 172.85,42.37 172.40,42.63 171.96,42.90 171.51,43.17 171.07,43.45 170.62,43.74 170.16,44.04 169.71,44.35 169.26,44.66 168.80,44.98 168.34,45.30 167.88,45.64 167.42,45.98 166.96,46.33 166.49,46.69 166.03,47.05 165.56,47.43 165.09,47.81 164.62,48.19 164.15,48.59 163.68,48.99 163.21,49.40 162.74,49.81 162.26,50.24 161.79,50.67 161.32,51.11 160.84,51.55 160.36,52.00 159.89,52.46 159.41,52.93 158.93,53.40 158.45,53.88 157.97,54.37 157.49,54.86 157.01,55.36 156.53,55.87 156.05,56.38 155.57,56.90 155.09,57.43 154.61,57.96 154.13,58.50 153.65,59.04 153.17,59.60 152.69,60.15 152.21,60.72 151.73,61.29 151.25,61.87 150.77,62.45 150.29,63.04 149.82,63.63 149.34,64.23 148.86,64.83 148.38,65.44 147.91,66.06 147.43,66.68 146.96,67.30 146.48,67.93 146.01,68.57 145.53,69.21 145.06,69.86 144.59,70.50 144.12,71.16 143.65,71.82 143.18,72.48 142.72,73.15 142.25,73.82 141.79,74.49 141.32,75.17 140.86,75.85 140.40,76.54 139.94,77.23 139.48,77.92 139.03,78.61 138.57,79.31 138.12,80.01 137.67,80.72 137.22,81.42 136.78,82.13 136.33,82.84 135.89,83.56 135.45,84.27 135.01,84.99 134.57,85.71 134.14,86.43 133.71,87.15 133.28,87.87 132.85,88.59 132.43,89.32 132.00,90.04 131.59,90.77 131.17,91.50 130.76,92.22 130.35,92.95 129.94,93.68 129.54,94.40 129.14,95.13 128.74,95.86 128.34,96.58 127.95,97.31 127.57,98.03 127.18,98.75 126.80,99.47 126.43,100.19 126.05,100.91 125.68,101.63 125.32,102.34 124.96,103.06 124.60,103.77 124.25,104.48 123.90,105.18 123.56,105.89 123.22,106.59 122.89,107.29 122.56,107.98 122.23,108.67 121.91,109.36 121.59,110.05 121.28,110.73 120.98,111.41 120.68,112.08 120.38,112.75 120.09,113.42 119.81,114.08 119.53,114.74 119.25,115.40 118.99,116.04 118.72,116.69 118.47,117.33 118.21,117.97 117.97,118.60 117.73,119.22 117.50,119.84 117.27,120.46 117.05,121.07 116.83,121.67 116.62,122.27 116.42,122.86 116.22,123.45 116.03,124.03 115.85,124.61 115.67,125.18 115.50,125.75 115.34,126.30 115.18,126.86 115.03,127.40 114.89,127.94 114.75,128.47 114.62,129.00 114.50,129.52 114.38,130.03 114.28,130.54 114.17,131.04 114.08,131.53 113.99,132.02 113.91,132.50 113.84,132.97 113.77,133.44 113.71,133.90 113.66,134.35 113.62,134.79 113.58,135.23 113.55,135.66 113.53,136.09 113.51,136.50 113.50,136.91 113.50,137.31 113.51,137.71 113.52,138.09 113.54,138.47 113.57,138.85 113.60,139.21 113.65,139.57 113.70,139.92 113.75,140.26 113.82,140.60 113.89,140.92 113.97,141.24 114.05,141.55 114.14,141.86 114.24,142.16 114.35,142.45 114.46,142.73 114.59,143.00 114.71,143.27 114.85,143.53 114.99,143.78 115.14,144.02 115.29,144.26 115.45,144.49 115.62,144.71 115.80,144.92 115.98,145.12 116.17,145.32 116.36,145.51 116.56,145.69 116.77,145.87 116.98,146.03 117.20,146.19 117.43,146.34 117.66,146.49 117.89,146.62 118.14,146.75 118.39,146.87 118.64,146.98 118.90,147.09 119.17,147.18 119.44,147.27 119.72,147.35 120.00,147.43 120.29,147.49 120.59,147.55 120.88,147.60 121.19,147.65 121.50,147.68 121.81,147.71 122.13,147.73 122.46,147.74 122.78,147.74 123.12,147.74 123.45,147.73 123.80,147.71 124.14,147.68 124.49,147.65 124.85,147.60 125.21,147.55 125.57,147.49 125.94,147.43 126.31,147.35 126.69,147.27 127.06,147.18 127.45,147.09 127.83,146.98 128.22,146.87 128.62,146.75 129.01,146.62 129.41,146.49 129.82,146.34 130.22,146.19 130.63,146.03 131.04,145.87 131.46,145.69 131.88,145.51 132.30,145.32 132.72,145.12 133.15,144.92 133.57,144.71 134.01,144.49 134.44,144.26 134.87,144.02 135.31,143.78 135.75,143.53 136.20,143.27 136.64,143.00 137.09,142.73 137.53,142.45 137.98,142.16 138.44,141.86 138.89,141.55 139.34,141.24 139.80,140.92 140.26,140.60 140.72,140.26 141.18,139.92 141.64,139.57 142.11,139.21 142.57,138.85 143.04,138.47 143.51,138.09 143.98,137.71 144.45,137.31 144.92,136.91 145.39,136.50 145.86,136.09 146.34,135.66 146.81,135.23 147.28,134.79 147.76,134.35 148.24,133.90 148.71,133.44 149.19,132.97 149.67,132.50 150.15,132.02 150.63,131.53 151.11,131.04 151.59,130.54 152.07,130.03 152.55,129.52 153.03,129.00 153.51,128.47 153.99,127.94 154.47,127.40 154.95,126.86 155.43,126.30 155.91,125.75 156.39,125.18 156.87,124.61 157.35,124.03 157.83,123.45 158.31,122.86 158.78,122.27 159.26,121.67 159.74,121.07 160.22,120.46 160.69,119.84 161.17,119.22 161.64,118.60 162.12,117.97 162.59,117.33 163.07,116.69 163.54,116.04 164.01,115.40 164.48,114.74 164.95,114.08 165.42,113.42 165.88,112.75 166.35,112.08 166.81,111.41 167.28,110.73 167.74,110.05 168.20,109.36 168.66,108.67 169.12,107.98 169.57,107.29 170.03,106.59 170.48,105.89 170.93,105.18 171.38,104.48 171.82,103.77 172.27,103.06 172.71,102.34 173.15,101.63 173.59,100.91 174.03,100.19 174.46,99.47 174.89,98.75 175.32,98.03 175.75,97.31 176.17,96.58 176.60,95.86 177.01,95.13 177.43,94.40 177.84,93.68 178.25,92.95 178.66,92.22 179.06,91.50 179.46,90.77 179.86,90.04 180.26,89.32 180.65,88.59 181.03,87.87 181.42,87.15 181.80,86.43 182.17,85.71 182.55,84.99 182.92,84.27 183.28,83.56 183.64,82.84 184.00,82.13 184.35,81.42 184.70,80.72 185.04,80.01 185.38,79.31 185.71,78.61 186.04,77.92 186.37,77.23 186.69,76.54 187.01,75.85 187.32,75.17 187.62,74.49 187.92,73.82 188.22,73.15 188.51,72.48 188.79,71.82 189.07,71.16 189.35,70.50 189.61,69.86 189.88,69.21 190.13,68.57 190.39,67.93 190.63,67.30 190.87,66.68 191.10,66.06 191.33,65.44 191.55,64.83 191.77,64.23 191.98,63.63 192.18,63.04 192.38,62.45 192.57,61.87 192.75,61.29 192.93,60.72 193.10,60.15 193.26,59.60 193.42,59.04 193.57,58.50 193.71,57.96 193.85,57.43 193.98,56.90 194.10,56.38 194.22,55.87 194.32,55.36 194.43,54.86 194.52,54.37 194.61,53.88 194.69,53.40 194.76,52.93 194.83,52.46 194.89,52.00 194.94,51.55 194.98,51.11 195.02,50.67 195.05,50.24 195.07,49.81 195.09,49.40 195.10,48.99 195.10,48.59 195.09,48.19 195.08,47.81 195.06,47.43 195.03,47.05 195.00,46.69 194.95,46.33 194.90,45.98 194.85,45.64 194.78,45.30 194.71,44.98 194.63,44.66 194.55,44.35 194.46,44.04 194.36,43.74 194.25,43.45 194.14,43.17 194.01,42.90 193.89,42.63 193.75,42.37 193.61,42.12 193.46,41.88 193.31,41.64 193.15,41.41 192.98,41.19 192.80,40.98 192.62,40.78 192.43,40.58 192.24,40.39 192.04,40.21 191.83,40.03 191.62,39.87 191.40,39.71 191.17,39.56 190.94,39.41 190.71,39.28 190.46,39.15 190.21,39.03 189.96,38.92 189.70,38.81 189.43,38.72 189.16,38.63 188.88,38.55 188.60,38.47 188.31,38.41 188.01,38.35 187.72,38.30 187.41,38.25 187.10,38.22 186.79,38.19 186.47,38.17 186.14,38.16Z"/>
<path d="M180.68,41.73 180.40,41.74 180.11,41.75 179.82,41.77 179.53,41.79 179.23,41.83 178.93,41.87 178.62,41.92 178.31,41.97 178.00,42.03 177.69,42.11 177.37,42.18 177.05,42.27 176.72,42.36 176.40,42.46 176.06,42.57 175.73,42.69 175.39,42.81 175.05,42.94 174.71,43.08 174.37,43.22 174.02,43.38 173.67,43.54 173.31,43.70 172.96,43.88 172.60,44.06 172.24,44.25 171.88,44.45 171.51,44.65 171.14,44.86 170.77,45.08 170.40,45.31 170.03,45.54 169.65,45.78 169.27,46.03 168.89,46.29 168.51,46.55 168.13,46.82 167.74,47.09 167.36,47.38 166.97,47.67 166.58,47.97 166.19,48.27 165.80,48.58 165.40,48.90 165.01,49.23 164.61,49.56 164.21,49.90 163.81,50.25 163.41,50.60 163.01,50.96 162.61,51.33 162.20,51.70 161.80,52.08 161.39,52.47 160.99,52.87 160.58,53.27 160.17,53.67 159.77,54.09 159.36,54.51 158.95,54.94 158.54,55.37 158.13,55.81 157.72,56.25 157.31,56.71 156.89,57.17 156.48,57.63 156.07,58.10 155.66,58.58 155.24,59.06 154.83,59.55 154.42,60.04 154.01,60.54 153.59,61.05 153.18,61.56 152.77,62.08 152.36,62.60 151.95,63.12 151.53,63.66 151.12,64.20 150.71,64.74 150.30,65.29 149.89,65.84 149.48,66.40 149.07,66.96 148.66,67.53 148.25,68.10 147.85,68.68 147.44,69.26 147.04,69.85 146.63,70.44 146.23,71.03 145.82,71.63 145.42,72.24 145.02,72.84 144.62,73.45 144.22,74.07 143.82,74.68 143.43,75.30 143.03,75.93 142.64,76.56 142.25,77.19 141.86,77.82 141.47,78.46 141.08,79.10 140.69,79.74 140.31,80.38 139.93,81.03 139.55,81.68 139.17,82.33 138.79,82.99 138.42,83.64 138.04,84.30 137.67,84.96 137.30,85.62 136.94,86.28 136.57,86.94 136.21,87.61 135.85,88.27 135.49,88.94 135.14,89.61 134.79,90.27 134.44,90.94 134.09,91.61 133.74,92.28 133.40,92.95 133.06,93.62 132.73,94.29 132.40,94.96 132.07,95.63 131.74,96.29 131.42,96.96 131.10,97.63 130.78,98.29 130.47,98.96 130.16,99.62 129.85,100.28 129.55,100.94 129.25,101.60 128.95,102.26 128.66,102.91 128.37,103.57 128.09,104.22 127.80,104.87 127.53,105.52 127.26,106.16 126.99,106.80 126.72,107.44 126.46,108.08 126.21,108.71 125.96,109.34 125.71,109.97 125.47,110.60 125.23,111.22 124.99,111.83 124.76,112.45 124.54,113.06 124.32,113.66 124.11,114.27 123.90,114.87 123.69,115.46 123.49,116.05 123.29,116.64 123.10,117.22 122.92,117.80 122.74,118.37 122.56,118.94 122.39,119.50 122.23,120.06 122.07,120.61 121.92,121.16 121.77,121.70 121.63,122.24 121.49,122.78 121.36,123.30 121.23,123.82 121.11,124.34 120.99,124.85 120.88,125.36 120.78,125.86 120.68,126.35 120.59,126.84 120.50,127.32 120.42,127.80 120.35,128.27 120.28,128.73 120.21,129.19 120.16,129.65 120.10,130.09 120.06,130.53 120.02,130.96 119.98,131.39 119.95,131.81 119.93,132.23 119.92,132.63 119.90,133.03 119.90,133.43 119.90,133.82 119.91,134.20 119.92,134.57 119.94,134.94 119.97,135.30 120.00,135.65 120.03,136.00 120.08,136.34 120.12,136.67 120.18,137.00 120.24,137.32 120.31,137.63 120.38,137.93 120.46,138.23 120.54,138.52 120.63,138.81 120.72,139.08 120.82,139.35 120.93,139.61 121.04,139.87 121.16,140.12 121.28,140.36 121.41,140.59 121.55,140.82 121.69,141.04 121.83,141.25 121.98,141.45 122.14,141.65 122.30,141.84 122.47,142.02 122.64,142.20 122.81,142.36 123.00,142.52 123.18,142.68 123.38,142.82 123.57,142.96 123.78,143.09 123.98,143.21 124.20,143.33 124.41,143.44 124.63,143.54 124.86,143.63 125.09,143.72 125.33,143.79 125.57,143.87 125.81,143.93 126.06,143.98 126.31,144.03 126.57,144.07 126.83,144.11 127.10,144.13 127.37,144.15 127.64,144.16 127.92,144.17 128.20,144.16 128.49,144.15 128.78,144.13 129.07,144.11 129.37,144.07 129.67,144.03 129.98,143.98 130.29,143.93 130.60,143.87 130.91,143.79 131.23,143.72 131.55,143.63 131.88,143.54 132.20,143.44 132.54,143.33 132.87,143.21 133.21,143.09 133.55,142.96 133.89,142.82 134.23,142.68 134.58,142.52 134.93,142.36 135.29,142.20 135.64,142.02 136.00,141.84 136.36,141.65 136.72,141.45 137.09,141.25 137.46,141.04 137.83,140.82 138.20,140.59 138.57,140.36 138.95,140.12 139.33,139.87 139.71,139.61 140.09,139.35 140.47,139.08 140.86,138.81 141.24,138.52 141.63,138.23 142.02,137.93 142.41,137.63 142.80,137.32 143.20,137.00 143.59,136.67 143.99,136.34 144.39,136.00 144.79,135.65 145.19,135.30 145.59,134.94 145.99,134.57 146.40,134.20 146.80,133.82 147.21,133.43 147.61,133.03 148.02,132.63 148.43,132.23 148.83,131.81 149.24,131.39 149.65,130.96 150.06,130.53 150.47,130.09 150.88,129.65 151.29,129.19 151.71,128.73 152.12,128.27 152.53,127.80 152.94,127.32 153.36,126.84 153.77,126.35 154.18,125.86 154.59,125.36 155.01,124.85 155.42,124.34 155.83,123.82 156.24,123.30 156.65,122.78 157.07,122.24 157.48,121.70 157.89,121.16 158.30,120.61 158.71,120.06 159.12,119.50 159.53,118.94 159.94,118.37 160.35,117.80 160.75,117.22 161.16,116.64 161.56,116.05 161.97,115.46 162.37,114.87 162.78,114.27 163.18,113.66 163.58,113.06 163.98,112.45 164.38,111.83 164.78,111.22 165.17,110.60 165.57,109.97 165.96,109.34 166.35,108.71 166.74,108.08 167.13,107.44 167.52,106.80 167.91,106.16 168.29,105.52 168.67,104.87 169.05,104.22 169.43,103.57 169.81,102.91 170.18,102.26 170.56,101.60 170.93,100.94 171.30,100.28 171.66,99.62 172.03,98.96 172.39,98.29 172.75,97.63 173.11,96.96 173.46,96.29 173.81,95.63 174.16,94.96 174.51,94.29 174.86,93.62 175.20,92.95 175.54,92.28 175.87,91.61 176.20,90.94 176.53,90.27 176.86,89.61 177.18,88.94 177.50,88.27 177.82,87.61 178.13,86.94 178.44,86.28 178.75,85.62 179.05,84.96 179.35,84.30 179.65,83.64 179.94,82.99 180.23,82.33 180.51,81.68 180.80,81.03 181.07,80.38 181.34,79.74 181.61,79.10 181.88,78.46 182.14,77.82 182.39,77.19 182.64,76.56 182.89,75.93 183.13,75.30 183.37,74.68 183.61,74.07 183.84,73.45 184.06,72.84 184.28,72.24 184.49,71.63 184.70,71.03 184.91,70.44 185.11,69.85 185.31,69.26 185.50,68.68 185.68,68.10 185.86,67.53 186.04,66.96 186.21,66.40 186.37,65.84 186.53,65.29 186.68,64.74 186.83,64.20 186.97,63.66 187.11,63.12 187.24,62.60 187.37,62.08 187.49,61.56 187.61,61.05 187.72,60.54 187.82,60.04 187.92,59.55 188.01,59.06 188.10,58.58 188.18,58.10 188.25,57.63 188.32,57.17 188.39,56.71 188.44,56.25 188.50,55.81 188.54,55.37 188.58,54.94 188.62,54.51 188.65,54.09 188.67,53.67 188.68,53.27 188.70,52.87 188.70,52.47 188.70,52.08 188.69,51.70 188.68,51.33 188.66,50.96 188.63,50.60 188.60,50.25 188.57,49.90 188.52,49.56 188.48,49.23 188.42,48.90 188.36,48.58 188.29,48.27 188.22,47.97 188.14,47.67 188.06,47.38 187.97,47.09 187.88,46.82 187.78,46.55 187.67,46.29 187.56,46.03 187.44,45.78 187.32,45.54 187.19,45.31 187.05,45.08 186.91,44.86 186.77,44.65 186.62,44.45 186.46,44.25 186.30,44.06 186.13,43.88 185.96,43.70 185.79,43.54 185.60,43.38 185.42,43.22 185.22,43.08 185.03,42.94 184.82,42.81 184.62,42.69 184.40,42.57 184.19,42.46 183.97,42.36 183.74,42.27 183.51,42.18 183.27,42.11 183.03,42.03 182.79,41.97 182.54,41.92 182.29,41.87 182.03,41.83 181.77,41.79 181.50,41.77 181.23,41.75 180.96,41.74Z"/>
<path d="M176.69,45.60 176.46,45.60 176.22,45.62 175.98,45.63 175.74,45.66 175.50,45.69 175.25,45.73 175.00,45.77 174.75,45.83 174.49,45.89 174.23,45.95 173.97,46.03 173.70,46.11 173.43,46.20 173.16,46.29 172.89,46.40 172.61,46.51 172.33,46.62 172.05,46.74 171.77,46.87 171.48,47.01 171.19,47.16 170.90,47.31 170.61,47.47 170.31,47.63 170.01,47.80 169.71,47.98 169.41,48.17 169.10,48.36 168.79,48.56 168.49,48.76 168.17,48.98 167.86,49.20 167.55,49.42 167.23,49.66 166.91,49.90 166.59,50.14 166.27,50.40 165.95,50.66 165.62,50.92 165.30,51.20 164.97,51.48 164.64,51.76 164.31,52.05 163.98,52.35 163.64,52.66 163.31,52.97 162.97,53.29 162.64,53.61 162.30,53.95 161.96,54.28 161.62,54.63 161.28,54.98 160.94,55.33 160.59,55.69 160.25,56.06 159.91,56.44 159.56,56.82 159.22,57.20 158.87,57.59 158.52,57.99 158.18,58.39 157.83,58.80 157.48,59.22 157.13,59.64 156.78,60.06 156.43,60.50 156.08,60.93 155.73,61.38 155.38,61.82 155.03,62.28 154.68,62.73 154.33,63.20 153.98,63.67 153.63,64.14 153.28,64.62 152.93,65.10 152.58,65.59 152.23,66.08 151.88,66.58 151.54,67.08 151.19,67.59 150.84,68.10 150.49,68.61 150.14,69.13 149.80,69.65 149.45,70.18 149.10,70.71 148.76,71.25 148.41,71.79 148.07,72.33 147.73,72.88 147.39,73.43 147.05,73.98 146.71,74.54 146.37,75.10 146.03,75.67 145.69,76.23 145.36,76.80 145.02,77.37 144.69,77.95 144.36,78.53 144.02,79.11 143.70,79.69 143.37,80.28 143.04,80.87 142.72,81.46 142.39,82.05 142.07,82.64 141.75,83.24 141.43,83.84 141.11,84.44 140.80,85.04 140.49,85.64 140.17,86.25 139.86,86.85 139.56,87.46 139.25,88.07 138.95,88.68 138.65,89.28 138.35,89.89 138.05,90.50 137.76,91.12 137.46,91.73 137.18,92.34 136.89,92.95 136.60,93.56 136.32,94.17 136.04,94.78 135.76,95.40 135.49,96.01 135.22,96.62 134.95,97.22 134.68,97.83 134.42,98.44 134.16,99.05 133.90,99.65 133.65,100.26 133.40,100.86 133.15,101.46 132.90,102.06 132.66,102.66 132.42,103.26 132.19,103.85 131.96,104.44 131.73,105.03 131.50,105.62 131.28,106.21 131.06,106.79 130.85,107.37 130.64,107.95 130.43,108.53 130.23,109.10 130.03,109.67 129.83,110.23 129.64,110.80 129.45,111.36 129.27,111.92 129.09,112.47 128.91,113.02 128.74,113.57 128.57,114.11 128.41,114.65 128.25,115.19 128.09,115.72 127.94,116.25 127.80,116.77 127.65,117.29 127.52,117.80 127.38,118.31 127.25,118.82 127.13,119.32 127.01,119.82 126.89,120.31 126.78,120.80 126.67,121.28 126.57,121.76 126.47,122.23 126.38,122.70 126.29,123.17 126.20,123.62 126.12,124.08 126.05,124.52 125.98,124.97 125.91,125.40 125.85,125.84 125.80,126.26 125.75,126.68 125.70,127.10 125.66,127.51 125.62,127.91 125.59,128.31 125.56,128.70 125.54,129.08 125.52,129.46 125.51,129.84 125.50,130.21 125.50,130.57 125.50,130.92 125.51,131.27 125.52,131.62 125.54,131.95 125.56,132.29 125.58,132.61 125.62,132.93 125.65,133.24 125.69,133.55 125.74,133.85 125.79,134.14 125.84,134.42 125.90,134.70 125.97,134.98 126.04,135.24 126.11,135.50 126.19,135.76 126.27,136.00 126.36,136.24 126.45,136.48 126.55,136.70 126.65,136.92 126.76,137.14 126.87,137.34 126.98,137.54 127.10,137.73 127.23,137.92 127.36,138.10 127.49,138.27 127.63,138.43 127.77,138.59 127.91,138.74 128.06,138.89 128.22,139.03 128.38,139.16 128.54,139.28 128.71,139.39 128.88,139.50 129.06,139.61 129.23,139.70 129.42,139.79 129.60,139.87 129.80,139.95 129.99,140.01 130.19,140.07 130.39,140.13 130.60,140.17 130.81,140.21 131.02,140.24 131.24,140.27 131.46,140.28 131.68,140.30 131.91,140.30 132.14,140.30 132.38,140.28 132.62,140.27 132.86,140.24 133.10,140.21 133.35,140.17 133.60,140.13 133.85,140.07 134.11,140.01 134.37,139.95 134.63,139.87 134.90,139.79 135.17,139.70 135.44,139.61 135.71,139.50 135.99,139.39 136.27,139.28 136.55,139.16 136.83,139.03 137.12,138.89 137.41,138.74 137.70,138.59 137.99,138.43 138.29,138.27 138.59,138.10 138.89,137.92 139.19,137.73 139.50,137.54 139.81,137.34 140.11,137.14 140.43,136.92 140.74,136.70 141.05,136.48 141.37,136.24 141.69,136.00 142.01,135.76 142.33,135.50 142.65,135.24 142.98,134.98 143.30,134.70 143.63,134.42 143.96,134.14 144.29,133.85 144.62,133.55 144.96,133.24 145.29,132.93 145.63,132.61 145.96,132.29 146.30,131.95 146.64,131.62 146.98,131.27 147.32,130.92 147.66,130.57 148.01,130.21 148.35,129.84 148.69,129.46 149.04,129.08 149.38,128.70 149.73,128.31 150.08,127.91 150.42,127.51 150.77,127.10 151.12,126.68 151.47,126.26 151.82,125.84 152.17,125.40 152.52,124.97 152.87,124.52 153.22,124.08 153.57,123.62 153.92,123.17 154.27,122.70 154.62,122.23 154.97,121.76 155.32,121.28 155.67,120.80 156.02,120.31 156.37,119.82 156.72,119.32 157.06,118.82 157.41,118.31 157.76,117.80 158.11,117.29 158.46,116.77 158.80,116.25 159.15,115.72 159.50,115.19 159.84,114.65 160.19,114.11 160.53,113.57 160.87,113.02 161.21,112.47 161.55,111.92 161.89,111.36 162.23,110.80 162.57,110.23 162.91,109.67 163.24,109.10 163.58,108.53 163.91,107.95 164.24,107.37 164.58,106.79 164.90,106.21 165.23,105.62 165.56,105.03 165.88,104.44 166.21,103.85 166.53,103.26 166.85,102.66 167.17,102.06 167.49,101.46 167.80,100.86 168.11,100.26 168.43,99.65 168.74,99.05 169.04,98.44 169.35,97.83 169.65,97.22 169.95,96.62 170.25,96.01 170.55,95.40 170.84,94.78 171.14,94.17 171.42,93.56 171.71,92.95 172.00,92.34 172.28,91.73 172.56,91.12 172.84,90.50 173.11,89.89 173.38,89.28 173.65,88.68 173.92,88.07 174.18,87.46 174.44,86.85 174.70,86.25 174.95,85.64 175.20,85.04 175.45,84.44 175.70,83.84 175.94,83.24 176.18,82.64 176.41,82.05 176.64,81.46 176.87,80.87 177.10,80.28 177.32,79.69 177.54,79.11 177.75,78.53 177.96,77.95 178.17,77.37 178.37,76.80 178.57,76.23 178.77,75.67 178.96,75.10 179.15,74.54 179.33,73.98 179.51,73.43 179.69,72.88 179.86,72.33 180.03,71.79 180.19,71.25 180.35,70.71 180.51,70.18 180.66,69.65 180.80,69.13 180.95,68.61 181.08,68.10 181.22,67.59 181.35,67.08 181.47,66.58 181.59,66.08 181.71,65.59 181.82,65.10 181.93,64.62 182.03,64.14 182.13,63.67 182.22,63.20 182.31,62.73 182.40,62.28 182.48,61.82 182.55,61.38 182.62,60.93 182.69,60.50 182.75,60.06 182.80,59.64 182.85,59.22 182.90,58.80 182.94,58.39 182.98,57.99 183.01,57.59 183.04,57.20 183.06,56.82 183.08,56.44 183.09,56.06 183.10,55.69 183.10,55.33 183.10,54.98 183.09,54.63 183.08,54.28 183.06,53.95 183.04,53.61 183.02,53.29 182.98,52.97 182.95,52.66 182.91,52.35 182.86,52.05 182.81,51.76 182.76,51.48 182.70,51.20 182.63,50.92 182.56,50.66 182.49,50.40 182.41,50.14 182.33,49.90 182.24,49.66 182.15,49.42 182.05,49.20 181.95,48.98 181.84,48.76 181.73,48.56 181.62,48.36 181.50,48.17 181.37,47.98 181.24,47.80 181.11,47.63 180.97,47.47 180.83,47.31 180.69,47.16 180.54,47.01 180.38,46.87 180.22,46.74 180.06,46.62 179.89,46.51 179.72,46.40 179.54,46.29 179.37,46.20 179.18,46.11 179.00,46.03 178.80,45.95 178.61,45.89 178.41,45.83 178.21,45.77 178.00,45.73 177.79,45.69 177.58,45.66 177.36,45.63 177.14,45.62 176.92,45.60Z"/>
<path d="M173.13,49.78 172.95,49.79 172.77,49.80 172.58,49.81 172.39,49.83 172.20,49.86 172.00,49.90 171.80,49.94 171.60,49.99 171.40,50.05 171.19,50.11 170.98,50.18 170.77,50.25 170.56,50.34 170.34,50.42 170.12,50.52 169.90,50.62 169.68,50.73 169.46,50.84 169.23,50.96 169.00,51.09 168.77,51.22 168.53,51.36 168.29,51.51 168.06,51.66 167.82,51.82 167.57,51.99 167.33,52.16 167.08,52.34 166.84,52.52 166.59,52.71 166.33,52.91 166.08,53.11 165.82,53.32 165.57,53.54 165.31,53.76 165.05,53.99 164.79,54.22 164.53,54.46 164.26,54.71 163.99,54.96 163.73,55.22 163.46,55.48 163.19,55.75 162.92,56.03 162.65,56.31 162.37,56.60 162.10,56.89 161.82,57.19 161.54,57.49 161.27,57.80 160.99,58.12 160.71,58.44 160.43,58.77 160.15,59.10 159.86,59.44 159.58,59.78 159.30,60.13 159.01,60.48 158.73,60.84 158.44,61.21 158.16,61.58 157.87,61.95 157.58,62.33 157.29,62.72 157.01,63.11 156.72,63.50 156.43,63.90 156.14,64.31 155.85,64.72 155.56,65.13 155.27,65.55 154.98,65.97 154.69,66.40 154.40,66.83 154.11,67.27 153.82,67.71 153.53,68.15 153.24,68.60 152.95,69.05 152.66,69.51 152.37,69.97 152.08,70.44 151.79,70.91 151.50,71.38 151.22,71.86 150.93,72.34 150.64,72.82 150.36,73.31 150.07,73.80 149.78,74.29 149.50,74.79 149.21,75.28 148.93,75.79 148.65,76.29 148.37,76.80 148.08,77.31 147.80,77.83 147.52,78.34 147.25,78.86 146.97,79.38 146.69,79.91 146.42,80.43 146.14,80.96 145.87,81.49 145.60,82.03 145.33,82.56 145.06,83.10 144.79,83.63 144.52,84.17 144.26,84.71 143.99,85.26 143.73,85.80 143.47,86.35 143.21,86.89 142.95,87.44 142.70,87.99 142.44,88.54 142.19,89.09 141.94,89.64 141.69,90.19 141.44,90.74 141.19,91.29 140.95,91.84 140.71,92.40 140.47,92.95 140.23,93.50 140.00,94.06 139.76,94.61 139.53,95.16 139.30,95.71 139.07,96.26 138.85,96.81 138.63,97.36 138.41,97.91 138.19,98.46 137.97,99.01 137.76,99.55 137.55,100.10 137.34,100.64 137.14,101.19 136.94,101.73 136.74,102.27 136.54,102.80 136.34,103.34 136.15,103.87 135.96,104.41 135.78,104.94 135.59,105.47 135.41,105.99 135.24,106.52 135.06,107.04 134.89,107.56 134.72,108.07 134.56,108.59 134.39,109.10 134.23,109.61 134.08,110.11 133.92,110.62 133.77,111.11 133.63,111.61 133.49,112.10 133.35,112.59 133.21,113.08 133.08,113.56 132.95,114.04 132.82,114.52 132.70,114.99 132.58,115.46 132.46,115.93 132.35,116.39 132.24,116.85 132.13,117.30 132.03,117.75 131.93,118.19 131.84,118.63 131.75,119.07 131.66,119.50 131.58,119.93 131.50,120.35 131.42,120.77 131.35,121.18 131.28,121.59 131.22,122.00 131.16,122.40 131.10,122.79 131.05,123.18 131.00,123.57 130.95,123.95 130.91,124.32 130.87,124.69 130.84,125.06 130.80,125.42 130.78,125.77 130.76,126.12 130.74,126.46 130.72,126.80 130.71,127.13 130.70,127.46 130.70,127.78 130.70,128.10 130.71,128.41 130.71,128.71 130.73,129.01 130.74,129.30 130.76,129.59 130.79,129.87 130.81,130.15 130.85,130.42 130.88,130.68 130.92,130.94 130.96,131.19 131.01,131.44 131.06,131.68 131.12,131.91 131.17,132.14 131.24,132.36 131.30,132.58 131.37,132.79 131.45,132.99 131.52,133.19 131.60,133.38 131.69,133.56 131.78,133.74 131.87,133.91 131.97,134.08 132.06,134.24 132.17,134.39 132.27,134.54 132.38,134.68 132.50,134.81 132.61,134.94 132.73,135.06 132.86,135.17 132.99,135.28 133.12,135.38 133.25,135.48 133.39,135.56 133.53,135.65 133.67,135.72 133.82,135.79 133.97,135.85 134.13,135.91 134.28,135.96 134.44,136.00 134.61,136.04 134.77,136.07 134.94,136.09 135.11,136.10 135.29,136.11 135.47,136.12 135.65,136.11 135.83,136.10 136.02,136.09 136.21,136.07 136.40,136.04 136.60,136.00 136.80,135.96 137.00,135.91 137.20,135.85 137.41,135.79 137.62,135.72 137.83,135.65 138.04,135.56 138.26,135.48 138.48,135.38 138.70,135.28 138.92,135.17 139.14,135.06 139.37,134.94 139.60,134.81 139.83,134.68 140.07,134.54 140.31,134.39 140.54,134.24 140.78,134.08 141.03,133.91 141.27,133.74 141.52,133.56 141.76,133.38 142.01,133.19 142.27,132.99 142.52,132.79 142.78,132.58 143.03,132.36 143.29,132.14 143.55,131.91 143.81,131.68 144.07,131.44 144.34,131.19 144.61,130.94 144.87,130.68 145.14,130.42 145.41,130.15 145.68,129.87 145.95,129.59 146.23,129.30 146.50,129.01 146.78,128.71 147.06,128.41 147.33,128.10 147.61,127.78 147.89,127.46 148.17,127.13 148.45,126.80 148.74,126.46 149.02,126.12 149.30,125.77 149.59,125.42 149.87,125.06 150.16,124.69 150.44,124.32 150.73,123.95 151.02,123.57 151.31,123.18 151.59,122.79 151.88,122.40 152.17,122.00 152.46,121.59 152.75,121.18 153.04,120.77 153.33,120.35 153.62,119.93 153.91,119.50 154.20,119.07 154.49,118.63 154.78,118.19 155.07,117.75 155.36,117.30 155.65,116.85 155.94,116.39 156.23,115.93 156.52,115.46 156.81,114.99 157.10,114.52 157.38,114.04 157.67,113.56 157.96,113.08 158.24,112.59 158.53,112.10 158.82,111.61 159.10,111.11 159.39,110.62 159.67,110.11 159.95,109.61 160.23,109.10 160.52,108.59 160.80,108.07 161.08,107.56 161.35,107.04 161.63,106.52 161.91,105.99 162.18,105.47 162.46,104.94 162.73,104.41 163.00,103.87 163.27,103.34 163.54,102.80 163.81,102.27 164.08,101.73 164.34,101.19 164.61,100.64 164.87,100.10 165.13,99.55 165.39,99.01 165.65,98.46 165.90,97.91 166.16,97.36 166.41,96.81 166.66,96.26 166.91,95.71 167.16,95.16 167.41,94.61 167.65,94.06 167.89,93.50 168.13,92.95 168.37,92.40 168.60,91.84 168.84,91.29 169.07,90.74 169.30,90.19 169.53,89.64 169.75,89.09 169.97,88.54 170.19,87.99 170.41,87.44 170.63,86.89 170.84,86.35 171.05,85.80 171.26,85.26 171.46,84.71 171.66,84.17 171.86,83.63 172.06,83.10 172.26,82.56 172.45,82.03 172.64,81.49 172.82,80.96 173.01,80.43 173.19,79.91 173.36,79.38 173.54,78.86 173.71,78.34 173.88,77.83 174.04,77.31 174.21,76.80 174.37,76.29 174.52,75.79 174.68,75.28 174.83,74.79 174.97,74.29 175.11,73.80 175.25,73.31 175.39,72.82 175.52,72.34 175.65,71.86 175.78,71.38 175.90,70.91 176.02,70.44 176.14,69.97 176.25,69.51 176.36,69.05 176.47,68.60 176.57,68.15 176.67,67.71 176.76,67.27 176.85,66.83 176.94,66.40 177.02,65.97 177.10,65.55 177.18,65.13 177.25,64.72 177.32,64.31 177.38,63.90 177.44,63.50 177.50,63.11 177.55,62.72 177.60,62.33 177.65,61.95 177.69,61.58 177.73,61.21 177.76,60.84 177.80,60.48 177.82,60.13 177.84,59.78 177.86,59.44 177.88,59.10 177.89,58.77 177.90,58.44 177.90,58.12 177.90,57.80 177.89,57.49 177.89,57.19 177.87,56.89 177.86,56.60 177.84,56.31 177.81,56.03 177.79,55.75 177.75,55.48 177.72,55.22 177.68,54.96 177.64,54.71 177.59,54.46 177.54,54.22 177.48,53.99 177.43,53.76 177.36,53.54 177.30,53.32 177.23,53.11 177.15,52.91 177.08,52.71 177.00,52.52 176.91,52.34 176.82,52.16 176.73,51.99 176.63,51.82 176.54,51.66 176.43,51.51 176.33,51.36 176.22,51.22 176.10,51.09 175.99,50.96 175.87,50.84 175.74,50.73 175.61,50.62 175.48,50.52 175.35,50.42 175.21,50.34 175.07,50.25 174.93,50.18 174.78,50.11 174.63,50.05 174.47,49.99 174.32,49.94 174.16,49.90 173.99,49.86 173.83,49.83 173.66,49.81 173.49,49.80 173.31,49.79Z"/>
<path d="M169.75,55.09 169.61,55.10 169.48,55.11 169.33,55.12 169.19,55.14 169.04,55.17 168.90,55.20 168.75,55.24 168.59,55.28 168.44,55.33 168.28,55.39 168.12,55.45 167.96,55.51 167.80,55.59 167.63,55.66 167.46,55.75 167.29,55.84 167.12,55.93 166.95,56.04 166.77,56.14 166.60,56.26 166.42,56.38 166.23,56.50 166.05,56.63 165.87,56.77 165.68,56.91 165.49,57.05 165.30,57.21 165.11,57.36 164.92,57.53 164.72,57.70 164.53,57.87 164.33,58.05 164.13,58.24 163.93,58.43 163.73,58.62 163.52,58.83 163.32,59.03 163.11,59.24 162.90,59.46 162.69,59.69 162.48,59.91 162.27,60.15 162.06,60.39 161.85,60.63 161.63,60.88 161.41,61.13 161.20,61.39 160.98,61.66 160.76,61.92 160.54,62.20 160.32,62.48 160.10,62.76 159.88,63.05 159.65,63.34 159.43,63.64 159.20,63.94 158.98,64.25 158.75,64.56 158.52,64.88 158.30,65.20 158.07,65.53 157.84,65.86 157.61,66.19 157.38,66.53 157.15,66.87 156.92,67.22 156.69,67.57 156.46,67.93 156.22,68.29 155.99,68.65 155.76,69.02 155.53,69.39 155.30,69.76 155.06,70.14 154.83,70.53 154.60,70.91 154.36,71.30 154.13,71.70 153.90,72.09 153.67,72.49 153.43,72.90 153.20,73.31 152.97,73.72 152.73,74.13 152.50,74.55 152.27,74.97 152.04,75.39 151.81,75.81 151.58,76.24 151.35,76.67 151.12,77.11 150.89,77.55 150.66,77.98 150.43,78.43 150.20,78.87 149.97,79.32 149.75,79.77 149.52,80.22 149.30,80.67 149.07,81.13 148.85,81.58 148.62,82.04 148.40,82.50 148.18,82.97 147.96,83.43 147.74,83.90 147.52,84.36 147.30,84.83 147.09,85.30 146.87,85.77 146.66,86.25 146.44,86.72 146.23,87.20 146.02,87.67 145.81,88.15 145.60,88.63 145.40,89.11 145.19,89.58 144.99,90.06 144.78,90.54 144.58,91.03 144.38,91.51 144.18,91.99 143.98,92.47 143.79,92.95 143.60,93.43 143.40,93.91 143.21,94.39 143.02,94.87 142.84,95.36 142.65,95.84 142.47,96.32 142.28,96.79 142.10,97.27 141.92,97.75 141.75,98.23 141.57,98.70 141.40,99.18 141.23,99.65 141.06,100.13 140.89,100.60 140.73,101.07 140.57,101.54 140.41,102.00 140.25,102.47 140.09,102.93 139.94,103.40 139.79,103.86 139.64,104.32 139.49,104.77 139.34,105.23 139.20,105.68 139.06,106.13 138.92,106.58 138.79,107.03 138.66,107.47 138.53,107.92 138.40,108.35 138.27,108.79 138.15,109.23 138.03,109.66 137.91,110.09 137.80,110.51 137.68,110.93 137.57,111.35 137.47,111.77 137.36,112.18 137.26,112.59 137.16,113.00 137.06,113.41 136.97,113.81 136.88,114.20 136.79,114.60 136.70,114.99 136.62,115.37 136.54,115.76 136.46,116.14 136.39,116.51 136.32,116.88 136.25,117.25 136.19,117.61 136.12,117.97 136.06,118.33 136.01,118.68 135.95,119.03 135.90,119.37 135.85,119.71 135.81,120.04 135.77,120.37 135.73,120.70 135.69,121.02 135.66,121.34 135.63,121.65 135.60,121.96 135.58,122.26 135.56,122.56 135.54,122.85 135.53,123.14 135.52,123.42 135.51,123.70 135.50,123.98 135.50,124.24 135.50,124.51 135.50,124.77 135.51,125.02 135.52,125.27 135.53,125.51 135.55,125.75 135.57,125.99 135.59,126.21 135.62,126.44 135.64,126.66 135.68,126.87 135.71,127.07 135.75,127.28 135.79,127.47 135.83,127.66 135.88,127.85 135.92,128.03 135.98,128.20 136.03,128.37 136.09,128.54 136.15,128.69 136.21,128.85 136.28,128.99 136.35,129.13 136.42,129.27 136.50,129.40 136.58,129.52 136.66,129.64 136.74,129.76 136.83,129.86 136.92,129.97 137.01,130.06 137.11,130.15 137.20,130.24 137.30,130.31 137.41,130.39 137.51,130.45 137.62,130.51 137.73,130.57 137.85,130.62 137.96,130.66 138.08,130.70 138.20,130.73 138.33,130.76 138.45,130.78 138.58,130.79 138.72,130.80 138.85,130.81 138.99,130.80 139.12,130.79 139.27,130.78 139.41,130.76 139.56,130.73 139.70,130.70 139.85,130.66 140.01,130.62 140.16,130.57 140.32,130.51 140.48,130.45 140.64,130.39 140.80,130.31 140.97,130.24 141.14,130.15 141.31,130.06 141.48,129.97 141.65,129.86 141.83,129.76 142.00,129.64 142.18,129.52 142.37,129.40 142.55,129.27 142.73,129.13 142.92,128.99 143.11,128.85 143.30,128.69 143.49,128.54 143.68,128.37 143.88,128.20 144.07,128.03 144.27,127.85 144.47,127.66 144.67,127.47 144.87,127.28 145.08,127.07 145.28,126.87 145.49,126.66 145.70,126.44 145.91,126.21 146.12,125.99 146.33,125.75 146.54,125.51 146.75,125.27 146.97,125.02 147.19,124.77 147.40,124.51 147.62,124.24 147.84,123.98 148.06,123.70 148.28,123.42 148.50,123.14 148.72,122.85 148.95,122.56 149.17,122.26 149.40,121.96 149.62,121.65 149.85,121.34 150.08,121.02 150.30,120.70 150.53,120.37 150.76,120.04 150.99,119.71 151.22,119.37 151.45,119.03 151.68,118.68 151.91,118.33 152.14,117.97 152.38,117.61 152.61,117.25 152.84,116.88 153.07,116.51 153.30,116.14 153.54,115.76 153.77,115.37 154.00,114.99 154.24,114.60 154.47,114.20 154.70,113.81 154.93,113.41 155.17,113.00 155.40,112.59 155.63,112.18 155.87,111.77 156.10,111.35 156.33,110.93 156.56,110.51 156.79,110.09 157.02,109.66 157.25,109.23 157.48,108.79 157.71,108.35 157.94,107.92 158.17,107.47 158.40,107.03 158.63,106.58 158.85,106.13 159.08,105.68 159.30,105.23 159.53,104.77 159.75,104.32 159.98,103.86 160.20,103.40 160.42,102.93 160.64,102.47 160.86,102.00 161.08,101.54 161.30,101.07 161.51,100.60 161.73,100.13 161.94,99.65 162.16,99.18 162.37,98.70 162.58,98.23 162.79,97.75 163.00,97.27 163.20,96.79 163.41,96.32 163.61,95.84 163.82,95.36 164.02,94.87 164.22,94.39 164.42,93.91 164.62,93.43 164.81,92.95 165.00,92.47 165.20,91.99 165.39,91.51 165.58,91.03 165.76,90.54 165.95,90.06 166.13,89.58 166.32,89.11 166.50,88.63 166.68,88.15 166.85,87.67 167.03,87.20 167.20,86.72 167.37,86.25 167.54,85.77 167.71,85.30 167.87,84.83 168.03,84.36 168.19,83.90 168.35,83.43 168.51,82.97 168.66,82.50 168.81,82.04 168.96,81.58 169.11,81.13 169.26,80.67 169.40,80.22 169.54,79.77 169.68,79.32 169.81,78.87 169.94,78.43 170.07,77.98 170.20,77.55 170.33,77.11 170.45,76.67 170.57,76.24 170.69,75.81 170.80,75.39 170.92,74.97 171.03,74.55 171.13,74.13 171.24,73.72 171.34,73.31 171.44,72.90 171.54,72.49 171.63,72.09 171.72,71.70 171.81,71.30 171.90,70.91 171.98,70.53 172.06,70.14 172.14,69.76 172.21,69.39 172.28,69.02 172.35,68.65 172.41,68.29 172.48,67.93 172.54,67.57 172.59,67.22 172.65,66.87 172.70,66.53 172.75,66.19 172.79,65.86 172.83,65.53 172.87,65.20 172.91,64.88 172.94,64.56 172.97,64.25 173.00,63.94 173.02,63.64 173.04,63.34 173.06,63.05 173.07,62.76 173.08,62.48 173.09,62.20 173.10,61.92 173.10,61.66 173.10,61.39 173.10,61.13 173.09,60.88 173.08,60.63 173.07,60.39 173.05,60.15 173.03,59.91 173.01,59.69 172.98,59.46 172.96,59.24 172.92,59.03 172.89,58.83 172.85,58.62 172.81,58.43 172.77,58.24 172.72,58.05 172.68,57.87 172.62,57.70 172.57,57.53 172.51,57.36 172.45,57.21 172.39,57.05 172.32,56.91 172.25,56.77 172.18,56.63 172.10,56.50 172.02,56.38 171.94,56.26 171.86,56.14 171.77,56.04 171.68,55.93 171.59,55.84 171.49,55.75 171.40,55.66 171.30,55.59 171.19,55.51 171.09,55.45 170.98,55.39 170.87,55.33 170.75,55.28 170.64,55.24 170.52,55.20 170.40,55.17 170.27,55.14 170.15,55.12 170.02,55.11 169.88,55.10Z"/>
<path d="M166.45,60.82 166.36,60.82 166.26,60.83 166.15,60.84 166.05,60.86 165.94,60.88 165.84,60.91 165.73,60.94 165.62,60.98 165.50,61.02 165.39,61.07 165.27,61.12 165.15,61.18 165.03,61.24 164.91,61.31 164.79,61.38 164.66,61.45 164.54,61.54 164.41,61.62 164.28,61.72 164.15,61.81 164.02,61.91 163.88,62.02 163.75,62.13 163.61,62.25 163.47,62.37 163.33,62.49 163.19,62.62 163.05,62.76 162.90,62.90 162.76,63.04 162.61,63.19 162.46,63.35 162.31,63.51 162.16,63.67 162.01,63.84 161.86,64.01 161.70,64.19 161.55,64.37 161.39,64.55 161.23,64.75 161.08,64.94 160.92,65.14 160.76,65.34 160.59,65.55 160.43,65.76 160.27,65.98 160.10,66.20 159.94,66.43 159.77,66.66 159.61,66.89 159.44,67.13 159.27,67.37 159.10,67.62 158.93,67.87 158.76,68.12 158.59,68.38 158.42,68.64 158.24,68.91 158.07,69.18 157.90,69.45 157.72,69.73 157.55,70.01 157.37,70.29 157.20,70.58 157.02,70.87 156.85,71.17 156.67,71.47 156.49,71.77 156.31,72.07 156.14,72.38 155.96,72.69 155.78,73.01 155.60,73.33 155.42,73.65 155.24,73.98 155.06,74.30 154.88,74.63 154.70,74.97 154.53,75.31 154.35,75.65 154.17,75.99 153.99,76.33 153.81,76.68 153.63,77.03 153.45,77.39 153.27,77.74 153.09,78.10 152.91,78.46 152.73,78.82 152.56,79.19 152.38,79.56 152.20,79.93 152.02,80.30 151.84,80.67 151.67,81.05 151.49,81.43 151.32,81.81 151.14,82.19 150.97,82.57 150.79,82.96 150.62,83.34 150.44,83.73 150.27,84.12 150.10,84.51 149.93,84.91 149.76,85.30 149.59,85.70 149.42,86.09 149.25,86.49 149.08,86.89 148.91,87.29 148.75,87.69 148.58,88.09 148.42,88.49 148.25,88.89 148.09,89.30 147.93,89.70 147.77,90.11 147.61,90.51 147.45,90.92 147.29,91.32 147.13,91.73 146.98,92.14 146.82,92.54 146.67,92.95 146.52,93.36 146.36,93.76 146.21,94.17 146.07,94.58 145.92,94.98 145.77,95.39 145.63,95.79 145.48,96.20 145.34,96.60 145.20,97.01 145.06,97.41 144.92,97.81 144.79,98.21 144.65,98.61 144.52,99.01 144.39,99.41 144.26,99.81 144.13,100.20 144.00,100.60 143.87,100.99 143.75,101.39 143.63,101.78 143.51,102.17 143.39,102.56 143.27,102.94 143.16,103.33 143.04,103.71 142.93,104.09 142.82,104.47 142.71,104.85 142.60,105.23 142.50,105.60 142.40,105.97 142.29,106.34 142.20,106.71 142.10,107.08 142.00,107.44 141.91,107.80 141.82,108.16 141.73,108.51 141.64,108.87 141.55,109.22 141.47,109.57 141.39,109.91 141.31,110.25 141.23,110.59 141.16,110.93 141.08,111.27 141.01,111.60 140.94,111.92 140.88,112.25 140.81,112.57 140.75,112.89 140.69,113.21 140.63,113.52 140.57,113.83 140.52,114.13 140.47,114.43 140.42,114.73 140.37,115.03 140.33,115.32 140.28,115.61 140.24,115.89 140.20,116.17 140.17,116.45 140.13,116.72 140.10,116.99 140.07,117.26 140.05,117.52 140.02,117.78 140.00,118.03 139.98,118.28 139.96,118.53 139.95,118.77 139.93,119.01 139.92,119.24 139.91,119.47 139.91,119.70 139.90,119.92 139.90,120.14 139.90,120.35 139.90,120.56 139.91,120.76 139.92,120.96 139.93,121.15 139.94,121.35 139.95,121.53 139.97,121.71 139.99,121.89 140.01,122.06 140.03,122.23 140.06,122.39 140.09,122.55 140.12,122.71 140.15,122.86 140.19,123.00 140.22,123.14 140.26,123.28 140.30,123.41 140.35,123.53 140.39,123.65 140.44,123.77 140.49,123.88 140.55,123.99 140.60,124.09 140.66,124.18 140.72,124.28 140.78,124.36 140.84,124.45 140.91,124.52 140.98,124.59 141.05,124.66 141.12,124.72 141.19,124.78 141.27,124.83 141.35,124.88 141.43,124.92 141.51,124.96 141.60,124.99 141.68,125.02 141.77,125.04 141.86,125.06 141.95,125.07 142.05,125.08 142.15,125.08 142.24,125.08 142.34,125.07 142.45,125.06 142.55,125.04 142.66,125.02 142.76,124.99 142.87,124.96 142.98,124.92 143.10,124.88 143.21,124.83 143.33,124.78 143.45,124.72 143.57,124.66 143.69,124.59 143.81,124.52 143.94,124.45 144.06,124.36 144.19,124.28 144.32,124.18 144.45,124.09 144.58,123.99 144.72,123.88 144.85,123.77 144.99,123.65 145.13,123.53 145.27,123.41 145.41,123.28 145.55,123.14 145.70,123.00 145.84,122.86 145.99,122.71 146.14,122.55 146.29,122.39 146.44,122.23 146.59,122.06 146.74,121.89 146.90,121.71 147.05,121.53 147.21,121.35 147.37,121.15 147.52,120.96 147.68,120.76 147.84,120.56 148.01,120.35 148.17,120.14 148.33,119.92 148.50,119.70 148.66,119.47 148.83,119.24 148.99,119.01 149.16,118.77 149.33,118.53 149.50,118.28 149.67,118.03 149.84,117.78 150.01,117.52 150.18,117.26 150.36,116.99 150.53,116.72 150.70,116.45 150.88,116.17 151.05,115.89 151.23,115.61 151.40,115.32 151.58,115.03 151.75,114.73 151.93,114.43 152.11,114.13 152.29,113.83 152.46,113.52 152.64,113.21 152.82,112.89 153.00,112.57 153.18,112.25 153.36,111.92 153.54,111.60 153.72,111.27 153.90,110.93 154.07,110.59 154.25,110.25 154.43,109.91 154.61,109.57 154.79,109.22 154.97,108.87 155.15,108.51 155.33,108.16 155.51,107.80 155.69,107.44 155.87,107.08 156.04,106.71 156.22,106.34 156.40,105.97 156.58,105.60 156.76,105.23 156.93,104.85 157.11,104.47 157.28,104.09 157.46,103.71 157.63,103.33 157.81,102.94 157.98,102.56 158.16,102.17 158.33,101.78 158.50,101.39 158.67,100.99 158.84,100.60 159.01,100.20 159.18,99.81 159.35,99.41 159.52,99.01 159.69,98.61 159.85,98.21 160.02,97.81 160.18,97.41 160.35,97.01 160.51,96.60 160.67,96.20 160.83,95.79 160.99,95.39 161.15,94.98 161.31,94.58 161.47,94.17 161.62,93.76 161.78,93.36 161.93,92.95 162.08,92.54 162.24,92.14 162.39,91.73 162.53,91.32 162.68,90.92 162.83,90.51 162.97,90.11 163.12,89.70 163.26,89.30 163.40,88.89 163.54,88.49 163.68,88.09 163.81,87.69 163.95,87.29 164.08,86.89 164.21,86.49 164.34,86.09 164.47,85.70 164.60,85.30 164.73,84.91 164.85,84.51 164.97,84.12 165.09,83.73 165.21,83.34 165.33,82.96 165.44,82.57 165.56,82.19 165.67,81.81 165.78,81.43 165.89,81.05 166.00,80.67 166.10,80.30 166.20,79.93 166.31,79.56 166.40,79.19 166.50,78.82 166.60,78.46 166.69,78.10 166.78,77.74 166.87,77.39 166.96,77.03 167.05,76.68 167.13,76.33 167.21,75.99 167.29,75.65 167.37,75.31 167.44,74.97 167.52,74.63 167.59,74.30 167.66,73.98 167.72,73.65 167.79,73.33 167.85,73.01 167.91,72.69 167.97,72.38 168.03,72.07 168.08,71.77 168.13,71.47 168.18,71.17 168.23,70.87 168.27,70.58 168.32,70.29 168.36,70.01 168.40,69.73 168.43,69.45 168.47,69.18 168.50,68.91 168.53,68.64 168.55,68.38 168.58,68.12 168.60,67.87 168.62,67.62 168.64,67.37 168.65,67.13 168.67,66.89 168.68,66.66 168.69,66.43 168.69,66.20 168.70,65.98 168.70,65.76 168.70,65.55 168.70,65.34 168.69,65.14 168.68,64.94 168.67,64.75 168.66,64.55 168.65,64.37 168.63,64.19 168.61,64.01 168.59,63.84 168.57,63.67 168.54,63.51 168.51,63.35 168.48,63.19 168.45,63.04 168.41,62.90 168.38,62.76 168.34,62.62 168.30,62.49 168.25,62.37 168.21,62.25 168.16,62.13 168.11,62.02 168.05,61.91 168.00,61.81 167.94,61.72 167.88,61.62 167.82,61.54 167.76,61.45 167.69,61.38 167.62,61.31 167.55,61.24 167.48,61.18 167.41,61.12 167.33,61.07 167.25,61.02 167.17,60.98 167.09,60.94 167.00,60.91 166.92,60.88 166.83,60.86 166.74,60.84 166.65,60.83 166.55,60.82Z"/>
<path d="M163.27,67.37 163.20,67.38 163.13,67.38 163.06,67.39 162.99,67.41 162.92,67.42 162.85,67.45 162.77,67.47 162.69,67.50 162.62,67.54 162.54,67.57 162.46,67.62 162.37,67.66 162.29,67.71 162.21,67.77 162.12,67.82 162.03,67.89 161.95,67.95 161.86,68.02 161.77,68.09 161.67,68.17 161.58,68.25 161.49,68.34 161.39,68.43 161.30,68.52 161.20,68.62 161.10,68.72 161.00,68.82 160.90,68.93 160.80,69.04 160.70,69.16 160.59,69.28 160.49,69.40 160.39,69.53 160.28,69.66 160.17,69.79 160.06,69.93 159.95,70.07 159.84,70.22 159.73,70.37 159.62,70.52 159.51,70.67 159.40,70.83 159.28,71.00 159.17,71.16 159.05,71.33 158.94,71.51 158.82,71.68 158.70,71.86 158.58,72.05 158.46,72.23 158.34,72.42 158.22,72.62 158.10,72.81 157.98,73.01 157.86,73.21 157.74,73.42 157.61,73.63 157.49,73.84 157.36,74.06 157.24,74.27 157.11,74.49 156.99,74.72 156.86,74.95 156.74,75.18 156.61,75.41 156.48,75.64 156.36,75.88 156.23,76.12 156.10,76.37 155.97,76.61 155.84,76.86 155.71,77.11 155.58,77.37 155.46,77.62 155.33,77.88 155.20,78.14 155.07,78.41 154.94,78.67 154.81,78.94 154.68,79.21 154.55,79.48 154.42,79.76 154.29,80.03 154.16,80.31 154.03,80.59 153.90,80.88 153.77,81.16 153.64,81.45 153.51,81.74 153.38,82.03 153.25,82.32 153.12,82.61 152.99,82.91 152.86,83.21 152.73,83.51 152.60,83.81 152.47,84.11 152.35,84.41 152.22,84.71 152.09,85.02 151.96,85.33 151.84,85.64 151.71,85.95 151.59,86.26 151.46,86.57 151.33,86.88 151.21,87.19 151.09,87.51 150.96,87.82 150.84,88.14 150.72,88.46 150.59,88.78 150.47,89.09 150.35,89.41 150.23,89.73 150.11,90.05 149.99,90.37 149.88,90.69 149.76,91.02 149.64,91.34 149.52,91.66 149.41,91.98 149.29,92.30 149.18,92.63 149.07,92.95 148.96,93.27 148.84,93.60 148.73,93.92 148.62,94.24 148.51,94.56 148.41,94.88 148.30,95.21 148.19,95.53 148.09,95.85 147.98,96.17 147.88,96.49 147.78,96.81 147.68,97.12 147.58,97.44 147.48,97.76 147.38,98.08 147.28,98.39 147.19,98.71 147.09,99.02 147.00,99.33 146.91,99.64 146.81,99.95 146.72,100.26 146.64,100.57 146.55,100.88 146.46,101.19 146.38,101.49 146.29,101.79 146.21,102.09 146.13,102.39 146.05,102.69 145.97,102.99 145.89,103.29 145.81,103.58 145.74,103.87 145.67,104.16 145.59,104.45 145.52,104.74 145.45,105.02 145.38,105.31 145.32,105.59 145.25,105.87 145.19,106.14 145.13,106.42 145.07,106.69 145.01,106.96 144.95,107.23 144.89,107.49 144.84,107.76 144.78,108.02 144.73,108.28 144.68,108.53 144.63,108.79 144.58,109.04 144.54,109.29 144.49,109.53 144.45,109.78 144.41,110.02 144.37,110.26 144.33,110.49 144.29,110.72 144.26,110.95 144.23,111.18 144.19,111.41 144.16,111.63 144.14,111.84 144.11,112.06 144.08,112.27 144.06,112.48 144.04,112.69 144.02,112.89 144.00,113.09 143.98,113.28 143.97,113.48 143.95,113.67 143.94,113.85 143.93,114.04 143.92,114.22 143.91,114.39 143.91,114.57 143.90,114.74 143.90,114.90 143.90,115.07 143.90,115.23 143.90,115.38 143.91,115.53 143.91,115.68 143.92,115.83 143.93,115.97 143.94,116.11 143.95,116.24 143.97,116.37 143.98,116.50 144.00,116.62 144.02,116.74 144.04,116.86 144.06,116.97 144.09,117.08 144.11,117.18 144.14,117.28 144.17,117.38 144.20,117.47 144.23,117.56 144.27,117.65 144.30,117.73 144.34,117.81 144.38,117.88 144.42,117.95 144.46,118.01 144.50,118.08 144.55,118.13 144.59,118.19 144.64,118.24 144.69,118.28 144.74,118.33 144.79,118.36 144.85,118.40 144.90,118.43 144.96,118.45 145.02,118.48 145.08,118.49 145.14,118.51 145.20,118.52 145.27,118.52 145.33,118.53 145.40,118.52 145.47,118.52 145.54,118.51 145.61,118.49 145.68,118.48 145.75,118.45 145.83,118.43 145.91,118.40 145.98,118.36 146.06,118.33 146.14,118.28 146.23,118.24 146.31,118.19 146.39,118.13 146.48,118.08 146.57,118.01 146.65,117.95 146.74,117.88 146.83,117.81 146.93,117.73 147.02,117.65 147.11,117.56 147.21,117.47 147.30,117.38 147.40,117.28 147.50,117.18 147.60,117.08 147.70,116.97 147.80,116.86 147.90,116.74 148.01,116.62 148.11,116.50 148.21,116.37 148.32,116.24 148.43,116.11 148.54,115.97 148.65,115.83 148.76,115.68 148.87,115.53 148.98,115.38 149.09,115.23 149.20,115.07 149.32,114.90 149.43,114.74 149.55,114.57 149.66,114.39 149.78,114.22 149.90,114.04 150.02,113.85 150.14,113.67 150.26,113.48 150.38,113.28 150.50,113.09 150.62,112.89 150.74,112.69 150.86,112.48 150.99,112.27 151.11,112.06 151.24,111.84 151.36,111.63 151.49,111.41 151.61,111.18 151.74,110.95 151.86,110.72 151.99,110.49 152.12,110.26 152.24,110.02 152.37,109.78 152.50,109.53 152.63,109.29 152.76,109.04 152.89,108.79 153.02,108.53 153.14,108.28 153.27,108.02 153.40,107.76 153.53,107.49 153.66,107.23 153.79,106.96 153.92,106.69 154.05,106.42 154.18,106.14 154.31,105.87 154.44,105.59 154.57,105.31 154.70,105.02 154.83,104.74 154.96,104.45 155.09,104.16 155.22,103.87 155.35,103.58 155.48,103.29 155.61,102.99 155.74,102.69 155.87,102.39 156.00,102.09 156.13,101.79 156.25,101.49 156.38,101.19 156.51,100.88 156.64,100.57 156.76,100.26 156.89,99.95 157.01,99.64 157.14,99.33 157.27,99.02 157.39,98.71 157.51,98.39 157.64,98.08 157.76,97.76 157.88,97.44 158.01,97.12 158.13,96.81 158.25,96.49 158.37,96.17 158.49,95.85 158.61,95.53 158.72,95.21 158.84,94.88 158.96,94.56 159.08,94.24 159.19,93.92 159.31,93.60 159.42,93.27 159.53,92.95 159.64,92.63 159.76,92.30 159.87,91.98 159.98,91.66 160.09,91.34 160.19,91.02 160.30,90.69 160.41,90.37 160.51,90.05 160.62,89.73 160.72,89.41 160.82,89.09 160.92,88.78 161.02,88.46 161.12,88.14 161.22,87.82 161.32,87.51 161.41,87.19 161.51,86.88 161.60,86.57 161.69,86.26 161.79,85.95 161.88,85.64 161.96,85.33 162.05,85.02 162.14,84.71 162.22,84.41 162.31,84.11 162.39,83.81 162.47,83.51 162.55,83.21 162.63,82.91 162.71,82.61 162.79,82.32 162.86,82.03 162.93,81.74 163.01,81.45 163.08,81.16 163.15,80.88 163.22,80.59 163.28,80.31 163.35,80.03 163.41,79.76 163.47,79.48 163.53,79.21 163.59,78.94 163.65,78.67 163.71,78.41 163.76,78.14 163.82,77.88 163.87,77.62 163.92,77.37 163.97,77.11 164.02,76.86 164.06,76.61 164.11,76.37 164.15,76.12 164.19,75.88 164.23,75.64 164.27,75.41 164.31,75.18 164.34,74.95 164.37,74.72 164.41,74.49 164.44,74.27 164.46,74.06 164.49,73.84 164.52,73.63 164.54,73.42 164.56,73.21 164.58,73.01 164.60,72.81 164.62,72.62 164.63,72.42 164.65,72.23 164.66,72.05 164.67,71.86 164.68,71.68 164.69,71.51 164.69,71.33 164.70,71.16 164.70,71.00 164.70,70.83 164.70,70.67 164.70,70.52 164.69,70.37 164.69,70.22 164.68,70.07 164.67,69.93 164.66,69.79 164.65,69.66 164.63,69.53 164.62,69.40 164.60,69.28 164.58,69.16 164.56,69.04 164.54,68.93 164.51,68.82 164.49,68.72 164.46,68.62 164.43,68.52 164.40,68.43 164.37,68.34 164.33,68.25 164.30,68.17 164.26,68.09 164.22,68.02 164.18,67.95 164.14,67.89 164.10,67.82 164.05,67.77 164.01,67.71 163.96,67.66 163.91,67.62 163.86,67.57 163.81,67.54 163.75,67.50 163.70,67.47 163.64,67.45 163.58,67.42 163.52,67.41 163.46,67.39 163.40,67.38 163.33,67.38Z"/>
<path d="M160.26,75.72 160.22,75.73 160.17,75.73 160.13,75.74 160.09,75.75 160.04,75.76 159.99,75.77 159.95,75.79 159.90,75.81 159.85,75.83 159.80,75.86 159.75,75.89 159.70,75.92 159.65,75.95 159.59,75.99 159.54,76.03 159.48,76.07 159.43,76.11 159.37,76.16 159.31,76.21 159.26,76.26 159.20,76.32 159.14,76.38 159.08,76.44 159.02,76.50 158.95,76.56 158.89,76.63 158.83,76.70 158.76,76.78 158.70,76.85 158.63,76.93 158.57,77.01 158.50,77.09 158.43,77.18 158.36,77.27 158.30,77.36 158.23,77.45 158.16,77.55 158.09,77.65 158.01,77.75 157.94,77.85 157.87,77.95 157.80,78.06 157.72,78.17 157.65,78.28 157.58,78.40 157.50,78.52 157.42,78.64 157.35,78.76 157.27,78.88 157.19,79.01 157.12,79.13 157.04,79.27 156.96,79.40 156.88,79.53 156.80,79.67 156.72,79.81 156.64,79.95 156.56,80.09 156.48,80.24 156.40,80.38 156.32,80.53 156.24,80.68 156.16,80.84 156.07,80.99 155.99,81.15 155.91,81.31 155.83,81.47 155.74,81.63 155.66,81.79 155.58,81.96 155.49,82.13 155.41,82.30 155.32,82.47 155.24,82.64 155.15,82.81 155.07,82.99 154.99,83.17 154.90,83.35 154.82,83.53 154.73,83.71 154.65,83.89 154.56,84.08 154.47,84.26 154.39,84.45 154.30,84.64 154.22,84.83 154.13,85.02 154.05,85.22 153.96,85.41 153.88,85.61 153.79,85.80 153.71,86.00 153.62,86.20 153.54,86.40 153.45,86.60 153.37,86.80 153.28,87.01 153.20,87.21 153.12,87.41 153.03,87.62 152.95,87.83 152.87,88.03 152.78,88.24 152.70,88.45 152.62,88.66 152.53,88.87 152.45,89.08 152.37,89.29 152.29,89.50 152.21,89.72 152.13,89.93 152.04,90.14 151.96,90.36 151.88,90.57 151.80,90.79 151.73,91.00 151.65,91.22 151.57,91.43 151.49,91.65 151.41,91.87 151.34,92.08 151.26,92.30 151.18,92.52 151.11,92.73 151.03,92.95 150.96,93.17 150.88,93.38 150.81,93.60 150.74,93.82 150.66,94.03 150.59,94.25 150.52,94.47 150.45,94.68 150.38,94.90 150.31,95.11 150.24,95.33 150.17,95.54 150.11,95.76 150.04,95.97 149.97,96.18 149.91,96.40 149.84,96.61 149.78,96.82 149.72,97.03 149.65,97.24 149.59,97.45 149.53,97.66 149.47,97.87 149.41,98.07 149.35,98.28 149.29,98.49 149.23,98.69 149.18,98.89 149.12,99.10 149.07,99.30 149.01,99.50 148.96,99.70 148.91,99.90 148.86,100.10 148.80,100.29 148.75,100.49 148.71,100.68 148.66,100.88 148.61,101.07 148.56,101.26 148.52,101.45 148.47,101.64 148.43,101.82 148.39,102.01 148.35,102.19 148.30,102.37 148.26,102.55 148.23,102.73 148.19,102.91 148.15,103.09 148.11,103.26 148.08,103.43 148.05,103.60 148.01,103.77 147.98,103.94 147.95,104.11 147.92,104.27 147.89,104.43 147.86,104.59 147.84,104.75 147.81,104.91 147.78,105.06 147.76,105.22 147.74,105.37 147.72,105.52 147.69,105.66 147.67,105.81 147.66,105.95 147.64,106.09 147.62,106.23 147.61,106.37 147.59,106.50 147.58,106.63 147.57,106.77 147.55,106.89 147.54,107.02 147.53,107.14 147.53,107.26 147.52,107.38 147.51,107.50 147.51,107.62 147.51,107.73 147.50,107.84 147.50,107.95 147.50,108.05 147.50,108.15 147.50,108.25 147.50,108.35 147.51,108.45 147.51,108.54 147.52,108.63 147.53,108.72 147.53,108.81 147.54,108.89 147.55,108.97 147.56,109.05 147.58,109.12 147.59,109.20 147.60,109.27 147.62,109.34 147.64,109.40 147.65,109.46 147.67,109.52 147.69,109.58 147.71,109.64 147.74,109.69 147.76,109.74 147.78,109.79 147.81,109.83 147.83,109.87 147.86,109.91 147.89,109.95 147.92,109.98 147.95,110.01 147.98,110.04 148.01,110.07 148.04,110.09 148.08,110.11 148.11,110.13 148.15,110.14 148.18,110.15 148.22,110.16 148.26,110.17 148.30,110.17 148.34,110.18 148.38,110.17 148.43,110.17 148.47,110.16 148.51,110.15 148.56,110.14 148.61,110.13 148.65,110.11 148.70,110.09 148.75,110.07 148.80,110.04 148.85,110.01 148.90,109.98 148.95,109.95 149.01,109.91 149.06,109.87 149.12,109.83 149.17,109.79 149.23,109.74 149.29,109.69 149.34,109.64 149.40,109.58 149.46,109.52 149.52,109.46 149.58,109.40 149.65,109.34 149.71,109.27 149.77,109.20 149.84,109.12 149.90,109.05 149.97,108.97 150.03,108.89 150.10,108.81 150.17,108.72 150.24,108.63 150.30,108.54 150.37,108.45 150.44,108.35 150.51,108.25 150.59,108.15 150.66,108.05 150.73,107.95 150.80,107.84 150.88,107.73 150.95,107.62 151.02,107.50 151.10,107.38 151.18,107.26 151.25,107.14 151.33,107.02 151.41,106.89 151.48,106.77 151.56,106.63 151.64,106.50 151.72,106.37 151.80,106.23 151.88,106.09 151.96,105.95 152.04,105.81 152.12,105.66 152.20,105.52 152.28,105.37 152.36,105.22 152.44,105.06 152.53,104.91 152.61,104.75 152.69,104.59 152.77,104.43 152.86,104.27 152.94,104.11 153.02,103.94 153.11,103.77 153.19,103.60 153.28,103.43 153.36,103.26 153.45,103.09 153.53,102.91 153.61,102.73 153.70,102.55 153.78,102.37 153.87,102.19 153.95,102.01 154.04,101.82 154.13,101.64 154.21,101.45 154.30,101.26 154.38,101.07 154.47,100.88 154.55,100.68 154.64,100.49 154.72,100.29 154.81,100.10 154.89,99.90 154.98,99.70 155.06,99.50 155.15,99.30 155.23,99.10 155.32,98.89 155.40,98.69 155.48,98.49 155.57,98.28 155.65,98.07 155.73,97.87 155.82,97.66 155.90,97.45 155.98,97.24 156.07,97.03 156.15,96.82 156.23,96.61 156.31,96.40 156.39,96.18 156.47,95.97 156.56,95.76 156.64,95.54 156.72,95.33 156.80,95.11 156.87,94.90 156.95,94.68 157.03,94.47 157.11,94.25 157.19,94.03 157.26,93.82 157.34,93.60 157.42,93.38 157.49,93.17 157.57,92.95 157.64,92.73 157.72,92.52 157.79,92.30 157.86,92.08 157.94,91.87 158.01,91.65 158.08,91.43 158.15,91.22 158.22,91.00 158.29,90.79 158.36,90.57 158.43,90.36 158.49,90.14 158.56,89.93 158.63,89.72 158.69,89.50 158.76,89.29 158.82,89.08 158.88,88.87 158.95,88.66 159.01,88.45 159.07,88.24 159.13,88.03 159.19,87.83 159.25,87.62 159.31,87.41 159.37,87.21 159.42,87.01 159.48,86.80 159.53,86.60 159.59,86.40 159.64,86.20 159.69,86.00 159.74,85.80 159.80,85.61 159.85,85.41 159.89,85.22 159.94,85.02 159.99,84.83 160.04,84.64 160.08,84.45 160.13,84.26 160.17,84.08 160.21,83.89 160.25,83.71 160.30,83.53 160.34,83.35 160.37,83.17 160.41,82.99 160.45,82.81 160.49,82.64 160.52,82.47 160.55,82.30 160.59,82.13 160.62,81.96 160.65,81.79 160.68,81.63 160.71,81.47 160.74,81.31 160.76,81.15 160.79,80.99 160.82,80.84 160.84,80.68 160.86,80.53 160.88,80.38 160.91,80.24 160.93,80.09 160.94,79.95 160.96,79.81 160.98,79.67 160.99,79.53 161.01,79.40 161.02,79.27 161.03,79.13 161.05,79.01 161.06,78.88 161.07,78.76 161.07,78.64 161.08,78.52 161.09,78.40 161.09,78.28 161.09,78.17 161.10,78.06 161.10,77.95 161.10,77.85 161.10,77.75 161.10,77.65 161.10,77.55 161.09,77.45 161.09,77.36 161.08,77.27 161.07,77.18 161.07,77.09 161.06,77.01 161.05,76.93 161.04,76.85 161.02,76.78 161.01,76.70 161.00,76.63 160.98,76.56 160.96,76.50 160.95,76.44 160.93,76.38 160.91,76.32 160.89,76.26 160.86,76.21 160.84,76.16 160.82,76.11 160.79,76.07 160.77,76.03 160.74,75.99 160.71,75.95 160.68,75.92 160.65,75.89 160.62,75.86 160.59,75.83 160.56,75.81 160.52,75.79 160.49,75.77 160.45,75.76 160.42,75.75 160.38,75.74 160.34,75.73 160.30,75.73Z"/>
<path d="M157.49,83.51 157.47,83.51 157.45,83.51 157.43,83.51 157.40,83.52 157.38,83.53 157.36,83.53 157.33,83.54 157.31,83.55 157.28,83.57 157.26,83.58 157.23,83.60 157.20,83.61 157.18,83.63 157.15,83.65 157.12,83.67 157.09,83.70 157.06,83.72 157.04,83.75 157.01,83.77 156.98,83.80 156.95,83.83 156.91,83.86 156.88,83.90 156.85,83.93 156.82,83.97 156.79,84.01 156.75,84.04 156.72,84.08 156.69,84.13 156.65,84.17 156.62,84.21 156.58,84.26 156.55,84.31 156.51,84.35 156.48,84.40 156.44,84.46 156.40,84.51 156.37,84.56 156.33,84.62 156.29,84.67 156.26,84.73 156.22,84.79 156.18,84.85 156.14,84.91 156.10,84.98 156.06,85.04 156.02,85.11 155.98,85.17 155.94,85.24 155.90,85.31 155.86,85.38 155.82,85.45 155.78,85.52 155.74,85.60 155.70,85.67 155.65,85.75 155.61,85.83 155.57,85.90 155.53,85.98 155.48,86.06 155.44,86.15 155.40,86.23 155.36,86.31 155.31,86.40 155.27,86.48 155.23,86.57 155.18,86.66 155.14,86.75 155.09,86.84 155.05,86.93 155.01,87.02 154.96,87.11 154.92,87.21 154.87,87.30 154.83,87.40 154.78,87.49 154.74,87.59 154.69,87.69 154.65,87.79 154.60,87.89 154.56,87.99 154.51,88.09 154.47,88.19 154.42,88.30 154.38,88.40 154.33,88.50 154.29,88.61 154.24,88.71 154.20,88.82 154.15,88.93 154.11,89.04 154.06,89.14 154.02,89.25 153.97,89.36 153.93,89.47 153.88,89.58 153.84,89.69 153.79,89.81 153.75,89.92 153.70,90.03 153.66,90.14 153.61,90.26 153.57,90.37 153.52,90.49 153.48,90.60 153.44,90.72 153.39,90.83 153.35,90.95 153.30,91.06 153.26,91.18 153.22,91.30 153.18,91.41 153.13,91.53 153.09,91.65 153.05,91.77 153.00,91.88 152.96,92.00 152.92,92.12 152.88,92.24 152.84,92.36 152.80,92.48 152.76,92.59 152.71,92.71 152.67,92.83 152.63,92.95 152.59,93.07 152.55,93.19 152.52,93.31 152.48,93.42 152.44,93.54 152.40,93.66 152.36,93.78 152.32,93.90 152.28,94.02 152.25,94.13 152.21,94.25 152.17,94.37 152.14,94.49 152.10,94.60 152.07,94.72 152.03,94.84 152.00,94.95 151.96,95.07 151.93,95.18 151.89,95.30 151.86,95.41 151.83,95.53 151.79,95.64 151.76,95.76 151.73,95.87 151.70,95.98 151.67,96.09 151.64,96.21 151.61,96.32 151.58,96.43 151.55,96.54 151.52,96.65 151.49,96.76 151.46,96.86 151.43,96.97 151.41,97.08 151.38,97.19 151.35,97.29 151.33,97.40 151.30,97.50 151.28,97.60 151.25,97.71 151.23,97.81 151.21,97.91 151.18,98.01 151.16,98.11 151.14,98.21 151.12,98.31 151.10,98.41 151.08,98.50 151.06,98.60 151.04,98.69 151.02,98.79 151.00,98.88 150.98,98.97 150.96,99.06 150.95,99.15 150.93,99.24 150.92,99.33 150.90,99.42 150.89,99.50 150.87,99.59 150.86,99.67 150.85,99.75 150.83,99.84 150.82,99.92 150.81,100.00 150.80,100.07 150.79,100.15 150.78,100.23 150.77,100.30 150.76,100.38 150.75,100.45 150.75,100.52 150.74,100.59 150.73,100.66 150.73,100.73 150.72,100.79 150.72,100.86 150.71,100.92 150.71,100.99 150.71,101.05 150.70,101.11 150.70,101.17 150.70,101.23 150.70,101.28 150.70,101.34 150.70,101.39 150.70,101.44 150.70,101.50 150.71,101.55 150.71,101.59 150.71,101.64 150.72,101.69 150.72,101.73 150.72,101.77 150.73,101.82 150.74,101.86 150.74,101.89 150.75,101.93 150.76,101.97 150.77,102.00 150.78,102.04 150.78,102.07 150.79,102.10 150.81,102.13 150.82,102.15 150.83,102.18 150.84,102.20 150.85,102.23 150.87,102.25 150.88,102.27 150.89,102.29 150.91,102.30 150.93,102.32 150.94,102.33 150.96,102.35 150.98,102.36 150.99,102.37 151.01,102.37 151.03,102.38 151.05,102.39 151.07,102.39 151.09,102.39 151.11,102.39 151.13,102.39 151.15,102.39 151.17,102.39 151.20,102.38 151.22,102.37 151.24,102.37 151.27,102.36 151.29,102.35 151.32,102.33 151.34,102.32 151.37,102.30 151.40,102.29 151.42,102.27 151.45,102.25 151.48,102.23 151.51,102.20 151.54,102.18 151.56,102.15 151.59,102.13 151.62,102.10 151.65,102.07 151.69,102.04 151.72,102.00 151.75,101.97 151.78,101.93 151.81,101.89 151.85,101.86 151.88,101.82 151.91,101.77 151.95,101.73 151.98,101.69 152.02,101.64 152.05,101.59 152.09,101.55 152.12,101.50 152.16,101.44 152.20,101.39 152.23,101.34 152.27,101.28 152.31,101.23 152.34,101.17 152.38,101.11 152.42,101.05 152.46,100.99 152.50,100.92 152.54,100.86 152.58,100.79 152.62,100.73 152.66,100.66 152.70,100.59 152.74,100.52 152.78,100.45 152.82,100.38 152.86,100.30 152.90,100.23 152.95,100.15 152.99,100.07 153.03,100.00 153.07,99.92 153.12,99.84 153.16,99.75 153.20,99.67 153.24,99.59 153.29,99.50 153.33,99.42 153.37,99.33 153.42,99.24 153.46,99.15 153.51,99.06 153.55,98.97 153.59,98.88 153.64,98.79 153.68,98.69 153.73,98.60 153.77,98.50 153.82,98.41 153.86,98.31 153.91,98.21 153.95,98.11 154.00,98.01 154.04,97.91 154.09,97.81 154.13,97.71 154.18,97.60 154.22,97.50 154.27,97.40 154.31,97.29 154.36,97.19 154.40,97.08 154.45,96.97 154.49,96.86 154.54,96.76 154.58,96.65 154.63,96.54 154.67,96.43 154.72,96.32 154.76,96.21 154.81,96.09 154.85,95.98 154.90,95.87 154.94,95.76 154.99,95.64 155.03,95.53 155.08,95.41 155.12,95.30 155.16,95.18 155.21,95.07 155.25,94.95 155.30,94.84 155.34,94.72 155.38,94.60 155.42,94.49 155.47,94.37 155.51,94.25 155.55,94.13 155.60,94.02 155.64,93.90 155.68,93.78 155.72,93.66 155.76,93.54 155.80,93.42 155.84,93.31 155.89,93.19 155.93,93.07 155.97,92.95 156.01,92.83 156.05,92.71 156.08,92.59 156.12,92.48 156.16,92.36 156.20,92.24 156.24,92.12 156.28,92.00 156.32,91.88 156.35,91.77 156.39,91.65 156.43,91.53 156.46,91.41 156.50,91.30 156.53,91.18 156.57,91.06 156.60,90.95 156.64,90.83 156.67,90.72 156.71,90.60 156.74,90.49 156.77,90.37 156.81,90.26 156.84,90.14 156.87,90.03 156.90,89.92 156.93,89.81 156.96,89.69 156.99,89.58 157.02,89.47 157.05,89.36 157.08,89.25 157.11,89.14 157.14,89.04 157.17,88.93 157.19,88.82 157.22,88.71 157.25,88.61 157.27,88.50 157.30,88.40 157.32,88.30 157.35,88.19 157.37,88.09 157.39,87.99 157.42,87.89 157.44,87.79 157.46,87.69 157.48,87.59 157.50,87.49 157.52,87.40 157.54,87.30 157.56,87.21 157.58,87.11 157.60,87.02 157.62,86.93 157.64,86.84 157.65,86.75 157.67,86.66 157.68,86.57 157.70,86.48 157.71,86.40 157.73,86.31 157.74,86.23 157.75,86.15 157.77,86.06 157.78,85.98 157.79,85.90 157.80,85.83 157.81,85.75 157.82,85.67 157.83,85.60 157.84,85.52 157.85,85.45 157.85,85.38 157.86,85.31 157.87,85.24 157.87,85.17 157.88,85.11 157.88,85.04 157.89,84.98 157.89,84.91 157.89,84.85 157.90,84.79 157.90,84.73 157.90,84.67 157.90,84.62 157.90,84.56 157.90,84.51 157.90,84.46 157.90,84.40 157.89,84.35 157.89,84.31 157.89,84.26 157.88,84.21 157.88,84.17 157.88,84.13 157.87,84.08 157.86,84.04 157.86,84.01 157.85,83.97 157.84,83.93 157.83,83.90 157.82,83.86 157.82,83.83 157.81,83.80 157.79,83.77 157.78,83.75 157.77,83.72 157.76,83.70 157.75,83.67 157.73,83.65 157.72,83.63 157.71,83.61 157.69,83.60 157.67,83.58 157.66,83.57 157.64,83.55 157.62,83.54 157.61,83.53 157.59,83.53 157.57,83.52 157.55,83.51 157.53,83.51 157.51,83.51Z"/>
</g>
<g fill="none" stroke="#1e1e1e" stroke-width="1.5" stroke-linecap="round">
<path d="M214.29,14.37 213.73,14.48 213.17,14.60 212.62,14.72 212.06,14.84 211.50,14.96 210.95,15.09 210.39,15.21 209.84,15.34 209.28,15.48 208.73,15.61 208.17,15.75 207.62,15.89 207.07,16.03 206.52,16.17 205.97,16.32 205.42,16.47 204.87,16.62 204.32,16.78 203.77,16.93 203.23,17.09 202.68,17.25 202.14,17.42 201.59,17.58 201.05,17.75 200.51,17.93 199.97,18.10 199.43,18.28 198.89,18.46 198.36,18.64 197.82,18.83 197.29,19.02 196.75,19.21 196.22,19.40 195.69,19.60 195.16,19.80 194.64,20.00 194.11,20.21 193.58,20.42 193.06,20.63 192.54,20.84 192.02,21.06 191.50,21.28 190.98,21.51 190.46,21.73 189.94,21.96 189.43,22.20 188.92,22.43 188.41,22.67 187.90,22.92 187.39,23.16 186.88,23.41 186.38,23.67 185.87,23.92 185.37,24.18 184.87,24.45 184.37,24.71 183.87,24.98 183.37,25.26 182.88,25.54 182.38,25.82 181.89,26.10 181.40,26.39 180.91,26.68 180.42,26.98 179.93,27.28 179.44,27.58 178.96,27.88 178.48,28.19 177.99,28.51 177.51,28.83 177.03,29.15 176.56,29.47 176.08,29.80 175.60,30.14 175.13,30.47 174.65,30.82 174.18,31.16 173.71,31.51 173.24,31.86 172.77,32.22 172.31,32.58 171.84,32.95 171.37,33.32 170.91,33.69 170.45,34.07 169.98,34.45 169.52,34.84 169.06,35.23 168.60,35.62 168.15,36.02 167.69,36.42 167.23,36.83 166.78,37.24 166.32,37.66 165.87,38.08 165.41,38.50 164.96,38.93 164.51,39.37 164.06,39.80 163.61,40.25 163.16,40.69 162.71,41.14 162.26,41.60 161.81,42.06 161.36,42.52 160.92,42.99 160.47,43.46 160.02,43.94 159.58,44.42 159.13,44.91 158.69,45.40 158.24,45.89 157.80,46.39 157.35,46.89 156.91,47.40 156.46,47.91 156.02,48.43 155.58,48.95 155.13,49.47 154.69,50.00 154.24,50.53 153.80,51.07 153.36,51.61 152.91,52.16 152.47,52.71 152.03,53.26 151.58,53.82 151.14,54.38 150.69,54.95 150.25,55.52 149.80,56.09 149.36,56.67 148.91,57.25 148.47,57.84 148.02,58.43 147.57,59.03 147.13,59.62 146.68,60.22 146.23,60.83 145.78,61.44 145.33,62.05 144.88,62.67 144.43,63.29 143.98,63.91 143.53,64.54 143.07,65.17 142.62,65.80 142.17,66.44 141.71,67.08 141.25,67.72 140.80,68.36 140.34,69.01 139.88,69.66 139.42,70.32 138.96,70.98 138.50,71.64 138.04,72.30 137.57,72.96 137.11,73.63 136.64,74.30 136.18,74.97 135.71,75.65 135.24,76.33 134.77,77.01 134.30,77.69 133.83,78.37 133.35,79.05 132.88,79.74 132.40,80.43 131.93,81.12 131.45,81.81 130.97,82.51 130.49,83.20 130.00,83.90 129.52,84.59 129.03,85.29 128.55,85.99 128.06,86.69 127.57,87.39 127.08,88.09 126.59,88.80 126.10,89.50 125.60,90.20 125.11,90.91 124.61,91.61 124.11,92.31 123.61,93.02 123.11,93.72 122.60,94.43 122.10,95.13 121.59,95.83 121.09,96.54 120.58,97.24 120.07,97.94 119.55,98.64 119.04,99.34 118.53,100.04 118.01,100.74 117.49,101.44 116.97,102.14 116.45,102.83"/>
<path d="M94.31,171.53 94.87,171.42 95.43,171.30 95.98,171.18 96.54,171.06 97.10,170.94 97.65,170.81 98.21,170.69 98.76,170.56 99.32,170.42 99.87,170.29 100.43,170.15 100.98,170.01 101.53,169.87 102.08,169.73 102.63,169.58 103.18,169.43 103.73,169.28 104.28,169.12 104.83,168.97 105.37,168.81 105.92,168.65 106.46,168.48 107.01,168.32 107.55,168.15 108.09,167.97 108.63,167.80 109.17,167.62 109.71,167.44 110.24,167.26 110.78,167.07 111.31,166.88 111.85,166.69 112.38,166.50 112.91,166.30 113.44,166.10 113.96,165.90 114.49,165.69 115.02,165.48 115.54,165.27 116.06,165.06 116.58,164.84 117.10,164.62 117.62,164.39 118.14,164.17 118.66,163.94 119.17,163.70 119.68,163.47 120.19,163.23 120.70,162.98 121.21,162.74 121.72,162.49 122.22,162.23 122.73,161.98 123.23,161.72 123.73,161.45 124.23,161.19 124.73,160.92 125.23,160.64 125.72,160.36 126.22,160.08 126.71,159.80 127.20,159.51 127.69,159.22 128.18,158.92 128.67,158.62 129.16,158.32 129.64,158.02 130.12,157.71 130.61,157.39 131.09,157.07 131.57,156.75 132.04,156.43 132.52,156.10 133.00,155.76 133.47,155.43 133.95,155.08 134.42,154.74 134.89,154.39 135.36,154.04 135.83,153.68 136.29,153.32 136.76,152.95 137.23,152.58 137.69,152.21 138.15,151.83 138.62,151.45 139.08,151.06 139.54,150.67 140.00,150.28 140.45,149.88 140.91,149.48 141.37,149.07 141.82,148.66 142.28,148.24 142.73,147.82 143.19,147.40 143.64,146.97 144.09,146.53 144.54,146.10 144.99,145.65 145.44,145.21 145.89,144.76 146.34,144.30 146.79,143.84 147.24,143.38 147.68,142.91 148.13,142.44 148.58,141.96 149.02,141.48 149.47,140.99 149.91,140.50 150.36,140.01 150.80,139.51 151.25,139.01 151.69,138.50 152.14,137.99 152.58,137.47 153.02,136.95 153.47,136.43 153.91,135.90 154.36,135.37 154.80,134.83 155.24,134.29 155.69,133.74 156.13,133.19 156.57,132.64 157.02,132.08 157.46,131.52 157.91,130.95 158.35,130.38 158.80,129.81 159.24,129.23 159.69,128.65 160.13,128.06 160.58,127.47 161.03,126.87 161.47,126.28 161.92,125.68 162.37,125.07 162.82,124.46 163.27,123.85 163.72,123.23 164.17,122.61 164.62,121.99 165.07,121.36 165.53,120.73 165.98,120.10 166.43,119.46 166.89,118.82 167.35,118.18 167.80,117.54 168.26,116.89 168.72,116.24 169.18,115.58 169.64,114.92 170.10,114.26 170.56,113.60 171.03,112.94 171.49,112.27 171.96,111.60 172.42,110.93 172.89,110.25 173.36,109.57 173.83,108.89 174.30,108.21 174.77,107.53 175.25,106.85 175.72,106.16 176.20,105.47 176.67,104.78 177.15,104.09 177.63,103.39 178.11,102.70 178.60,102.00 179.08,101.31 179.57,100.61 180.05,99.91 180.54,99.21 181.03,98.51 181.52,97.81 182.01,97.10 182.50,96.40 183.00,95.70 183.49,94.99 183.99,94.29 184.49,93.59 184.99,92.88 185.49,92.18 186.00,91.47 186.50,90.77 187.01,90.07 187.51,89.36 188.02,88.66 188.53,87.96 189.05,87.26 189.56,86.56 190.07,85.86 190.59,85.16 191.11,84.46 191.63,83.76 192.15,83.07"/>
</g>
<rect x="44.3" y="7.8" width="220.0" height="170.4" fill="none" stroke="#6a6a6a" stroke-width="1.4"/>
<path d="M74.3,178.2v-2.5M74.3,7.8v2.5M114.3,178.2v-2.5M114.3,7.8v2.5M154.3,178.2v-2.5M154.3,7.8v2.5M194.3,178.2v-2.5M194.3,7.8v2.5M234.3,178.2v-2.5M234.3,7.8v2.5M44.3,158.5h2.5M264.3,158.5h-2.5M44.3,125.7h2.5M264.3,125.7h-2.5M44.3,93.0h2.5M264.3,93.0h-2.5M44.3,60.2h2.5M264.3,60.2h-2.5M44.3,27.4h2.5M264.3,27.4h-2.5" stroke="#6a6a6a" stroke-width="1.2" fill="none"/>
<g font-family="Liberation Sans, Arial, sans-serif" font-size="12.0" fill="#333" stroke="#333" stroke-width="0.3">
<text x="74.3" y="191.7" text-anchor="middle">2000</text>
<text x="61.0" y="191.7" text-anchor="end">&#8722;</text>
<text x="114.3" y="191.7" text-anchor="middle">1000</text>
<text x="101.0" y="191.7" text-anchor="end">&#8722;</text>
<text x="154.3" y="191.7" text-anchor="middle">0</text>
<text x="194.3" y="191.7" text-anchor="middle">1000</text>
<text x="234.3" y="191.7" text-anchor="middle">2000</text>
<text x="42.0" y="163.2" text-anchor="end">1</text>
<text x="34.3" y="163.2" text-anchor="end">&#8722;</text>
<text x="42.0" y="130.4" text-anchor="end">0.5</text>
<text x="24.3" y="130.4" text-anchor="end">&#8722;</text>
<text x="42.0" y="97.7" text-anchor="end">0</text>
<text x="42.0" y="64.9" text-anchor="end">0.5</text>
<text x="42.0" y="32.1" text-anchor="end">1</text>
</g>
<g font-family="Liberation Sans, Arial, sans-serif" font-size="13.3" fill="#333" stroke="#333" stroke-width="0.3">
<text x="153.9" y="206.6" text-anchor="middle">H(A/m)</text>
<text transform="translate(13.9,91.3) rotate(-90)" text-anchor="middle" font-size="11.6" stroke-width="0.55">B(T)</text>
</g>
<g fill="none" stroke="#111" stroke-linecap="round">
<path d="M329.00,180.20 C329.00,170.17 328.98,135.03 329.00,120.00 C329.02,104.97 329.02,98.33 329.10,90.00 C329.18,81.67 329.28,75.00 329.50,70.00 C329.72,65.00 330.02,62.67 330.40,60.00 C330.78,57.33 331.10,55.97 331.80,54.00 C332.50,52.03 333.48,49.70 334.60,48.20 C335.72,46.70 337.03,45.82 338.50,45.00 C339.97,44.18 341.57,43.85 343.40,43.30 C345.23,42.75 347.57,42.22 349.50,41.70 C351.43,41.18 352.25,40.93 355.00,40.20 C357.75,39.47 362.90,38.05 366.00,37.30 C369.10,36.55 368.68,36.58 373.60,35.70 C378.52,34.82 386.40,33.20 395.50,32.00 C404.60,30.80 419.12,29.45 428.20,28.50 C437.28,27.55 443.03,26.93 450.00,26.30 C456.97,25.67 460.83,25.38 470.00,24.70 C479.17,24.02 493.60,23.02 505.00,22.20 C516.40,21.38 532.83,20.20 538.40,19.80" stroke-width="1.35"/>
<path d="M330.60,180.20 C330.60,168.50 330.55,125.87 330.60,110.00 C330.65,94.13 330.70,91.67 330.90,85.00 C331.10,78.33 331.37,74.00 331.80,70.00 C332.23,66.00 332.72,63.58 333.50,61.00 C334.28,58.42 335.25,56.33 336.50,54.50 C337.75,52.67 338.92,51.42 341.00,50.00 C343.08,48.58 345.83,47.33 349.00,46.00 C352.17,44.67 355.67,43.28 360.00,42.00 C364.33,40.72 369.17,39.70 375.00,38.30 C380.83,36.90 387.50,34.93 395.00,33.60 C402.50,32.27 415.83,30.85 420.00,30.30" stroke-width="1.1"/>
</g>
<g fill="none" stroke="#222" stroke-width="1.0">
<path d="M333.00,180.50 C333.20,173.75 333.43,153.42 334.20,140.00 C334.97,126.58 336.70,111.33 337.60,100.00 C338.50,88.67 338.83,78.83 339.60,72.00 C340.37,65.17 341.05,62.50 342.20,59.00 C343.35,55.50 344.37,53.17 346.50,51.00 C348.63,48.83 351.08,48.02 355.00,46.00 C358.92,43.98 364.83,40.71 370.00,38.86 C375.17,37.01 380.33,36.12 386.00,34.91 C391.67,33.69 401.00,32.14 404.00,31.59"/>
<path d="M333.60,180.50 C333.83,173.75 334.16,153.42 335.00,140.00 C335.84,126.58 337.65,111.33 338.65,100.00 C339.65,88.67 340.06,78.83 341.00,72.00 C341.94,65.17 342.92,62.48 344.30,59.00 C345.68,55.52 346.98,53.32 349.30,51.10 C351.62,48.88 354.15,47.81 358.20,45.70 C362.25,43.59 368.37,40.32 373.60,38.45 C378.83,36.58 383.87,35.71 389.60,34.50 C395.33,33.28 404.93,31.72 408.00,31.16"/>
<path d="M334.20,180.50 C334.47,173.75 334.88,153.42 335.80,140.00 C336.72,126.58 338.60,111.33 339.70,100.00 C340.80,88.67 341.28,78.83 342.40,72.00 C343.52,65.17 344.78,62.47 346.40,59.00 C348.02,55.53 349.60,53.47 352.10,51.20 C354.60,48.93 357.22,47.57 361.40,45.40 C365.58,43.23 371.90,40.08 377.20,38.19 C382.50,36.31 387.40,35.33 393.20,34.09 C399.00,32.85 408.87,31.29 412.00,30.73"/>
<path d="M334.80,180.50 C335.10,173.75 335.61,153.42 336.60,140.00 C337.59,126.58 339.55,111.33 340.75,100.00 C341.95,88.67 342.51,78.83 343.80,72.00 C345.09,65.17 346.65,62.45 348.50,59.00 C350.35,55.55 352.22,53.62 354.90,51.30 C357.58,48.98 360.28,47.33 364.60,45.10 C368.92,42.87 375.43,39.82 380.80,37.93 C386.17,36.04 390.93,35.03 396.80,33.76 C402.67,32.49 412.80,30.88 416.00,30.31"/>
<path d="M335.40,180.50 C335.73,173.75 336.33,153.42 337.40,140.00 C338.47,126.58 340.50,111.33 341.80,100.00 C343.10,88.67 343.73,78.83 345.20,72.00 C346.67,65.17 348.52,62.43 350.60,59.00 C352.68,55.57 354.83,53.77 357.70,51.40 C360.57,49.03 363.35,47.09 367.80,44.80 C372.25,42.51 378.97,39.55 384.40,37.68 C389.83,35.80 394.47,34.88 400.40,33.58 C406.33,32.28 416.73,30.49 420.00,29.88"/>
<path d="M336.00,180.50 C336.37,173.75 337.06,153.42 338.20,140.00 C339.34,126.58 341.45,111.33 342.85,100.00 C344.25,88.67 344.96,78.83 346.60,72.00 C348.24,65.17 350.38,62.42 352.70,59.00 C355.02,55.58 357.45,53.92 360.50,51.50 C363.55,49.08 366.42,46.85 371.00,44.50 C375.58,42.15 382.50,39.27 388.00,37.42 C393.50,35.57 398.00,34.72 404.00,33.39 C410.00,32.06 420.67,30.11 424.00,29.45"/>
</g>
<g fill="none" stroke="#222" stroke-width="1.0">
<path d="M331.00,120.00 C331.00,113.33 330.92,89.00 331.00,80.00 C331.08,71.00 331.08,69.33 331.50,66.00 C331.92,62.67 332.67,60.92 333.50,60.00 C334.33,59.08 335.67,59.67 336.50,60.50 C337.33,61.33 338.08,62.58 338.50,65.00 C338.92,67.42 338.88,69.17 339.00,75.00 C339.12,80.83 339.17,95.83 339.20,100.00"/>
<path d="M331.60,110.00 C331.63,105.33 331.63,88.33 331.80,82.00 C331.97,75.67 332.20,74.08 332.60,72.00 C333.00,69.92 333.67,69.58 334.20,69.50 C334.73,69.42 335.42,69.75 335.80,71.50 C336.18,73.25 336.35,73.58 336.50,80.00 C336.65,86.42 336.67,105.00 336.70,110.00"/>
<path d="M330.40,125.00 C330.43,120.83 330.45,105.67 330.60,100.00 C330.75,94.33 330.93,92.92 331.30,91.00 C331.67,89.08 332.30,88.58 332.80,88.50 C333.30,88.42 333.93,88.92 334.30,90.50 C334.67,92.08 334.85,92.25 335.00,98.00 C335.15,103.75 335.17,120.50 335.20,125.00"/>
</g>
<path d="M332.8,180.2 L333.0,160 L333.4,140 L334.2,122 L335.6,108 L337.0,100 L338.2,104 L338.0,120 L337.6,140 L337.4,160 L337.4,180.2Z" fill="#151515"/>
<path d="M335.2,180 L335.4,112" stroke="#888" stroke-width="0.5" fill="none"/>
<path d="M326.6,180.2V60.2H337.9V180.2" stroke="#444" stroke-width="0.9" stroke-dasharray="3.5,1.5" fill="none"/>
<rect x="323.4" y="12.2" width="217.8" height="168.0" fill="none" stroke="#6a6a6a" stroke-width="1.4"/>
<path d="M331.4,180.2v-2.5M331.4,12.2v2.5M371.8,180.2v-2.5M371.8,12.2v2.5M412.1,180.2v-2.5M412.1,12.2v2.5M452.4,180.2v-2.5M452.4,12.2v2.5M492.8,180.2v-2.5M492.8,12.2v2.5M533.1,180.2v-2.5M533.1,12.2v2.5M323.4,180.2h2.5M541.2,180.2h-2.5M323.4,156.2h2.5M541.2,156.2h-2.5M323.4,132.2h2.5M541.2,132.2h-2.5M323.4,108.2h2.5M541.2,108.2h-2.5M323.4,84.2h2.5M541.2,84.2h-2.5M323.4,60.2h2.5M541.2,60.2h-2.5M323.4,36.2h2.5M541.2,36.2h-2.5M323.4,12.2h2.5M541.2,12.2h-2.5" stroke="#6a6a6a" stroke-width="1.2" fill="none"/>
<g font-family="Liberation Sans, Arial, sans-serif" font-size="12.0" fill="#333" stroke="#333" stroke-width="0.3">
<text x="331.4" y="191.9" text-anchor="middle">0</text>
<text x="371.8" y="191.9" text-anchor="middle">500</text>
<text x="412.1" y="191.9" text-anchor="middle">1000</text>
<text x="452.4" y="191.9" text-anchor="middle">1500</text>
<text x="492.8" y="191.9" text-anchor="middle">2000</text>
<text x="533.1" y="191.9" text-anchor="middle">2500</text>
<text x="321.1" y="184.9" text-anchor="end">0</text>
<text x="321.1" y="160.9" text-anchor="end">0.2</text>
<text x="321.1" y="136.9" text-anchor="end">0.4</text>
<text x="321.1" y="112.9" text-anchor="end">0.6</text>
<text x="321.1" y="88.9" text-anchor="end">0.8</text>
<text x="321.1" y="64.9" text-anchor="end">1</text>
<text x="321.1" y="40.9" text-anchor="end">1.2</text>
<text x="321.1" y="16.9" text-anchor="end">1.4</text>
</g>
<g font-family="Liberation Sans, Arial, sans-serif" font-size="13.3" fill="#333" stroke="#333" stroke-width="0.3">
<text x="437.4" y="206.9" text-anchor="middle">H(A/m)</text>
<text transform="translate(295.0,91.3) rotate(-90)" text-anchor="middle" font-size="11.6" stroke-width="0.55">B(T)</text>
</g>
<rect x="386.3" y="43.6" width="150.3" height="115.5" fill="#fff" stroke="#444" stroke-width="1.1"/>
<svg x="386.3" y="43.6" width="150.3" height="115.5" viewBox="386.3 43.6 150.3 115.5" overflow="hidden">
<g fill="none" stroke="#5c5c5c" stroke-width="0.95">
<path d="M418.5,160.6 C420.6,137.3 425.1,121.2 425.5,112.5 C425.9,101.5 436.9,90.5 450.9,88.9 C468.7,87.3 484.4,86.5 486.5,86.5 C490.7,86.5 493.5,89.3 493.5,93.5 C493.5,119.7 491.5,139.4 491.5,160.6"/>
<path d="M419.5,160.6 C421.6,139.0 426.1,126.1 426.5,118.0 C426.9,107.0 437.3,96.0 450.6,94.4 C468.8,92.8 484.9,92.0 487.0,92.0 C491.2,92.0 494.0,94.8 494.0,99.0 C494.0,123.0 492.5,141.1 492.5,160.6"/>
<path d="M421.0,160.6 C423.1,142.2 427.6,135.6 428.0,128.8 C428.4,117.8 437.7,106.8 449.5,105.2 C465.3,103.6 478.9,102.8 481.0,102.8 C485.2,102.8 488.0,105.6 488.0,109.8 C488.0,129.5 486.5,144.3 486.5,160.6"/>
<path d="M422.5,160.6 C424.6,144.0 429.1,140.8 429.5,134.8 C429.9,123.8 438.5,112.8 449.6,111.2 C464.0,109.6 476.4,108.8 478.5,108.8 C482.7,108.8 485.5,111.6 485.5,115.8 C485.5,133.1 484.5,146.1 484.5,160.6"/>
<path d="M424.0,160.6 C425.7,146.6 429.4,146.6 429.8,141.6 C430.2,131.2 437.9,120.8 447.8,119.5 C462.2,118.2 474.4,117.5 476.5,117.5 C480.7,117.5 483.5,120.3 483.5,124.5 C483.5,138.3 483.0,148.7 483.0,160.6"/>
<path d="M425.5,160.6 C427.0,148.4 430.1,148.4 430.5,144.1 C430.9,135.2 437.9,126.3 447.0,125.2 C461.0,124.1 472.9,123.5 475.0,123.5 C479.2,123.5 482.0,126.3 482.0,130.5 C482.0,141.9 481.5,150.5 481.5,160.6"/>
<path d="M427.0,160.6 C428.1,151.0 430.4,151.0 430.8,147.7 C431.2,140.9 437.3,134.2 445.3,133.3 C459.4,132.4 471.4,132.0 473.5,132.0 C477.7,132.0 480.5,134.8 480.5,139.0 C480.5,147.0 480.0,153.1 480.0,160.6"/>
<path d="M428.5,160.6 C429.3,153.1 430.9,153.1 431.3,150.7 C431.7,145.6 437.1,140.6 444.1,140.0 C458.1,139.3 469.9,139.0 472.0,139.0 C476.2,139.0 479.0,141.8 479.0,146.0 C479.0,151.2 478.5,155.2 478.5,160.6"/>
<path d="M430.0,160.6 C430.6,155.2 431.4,155.2 431.8,153.6 C432.2,150.3 436.8,147.0 443.0,146.6 C457.2,146.2 470.0,146.0 471.4,146.0 C474.2,146.0 476.0,147.8 476.0,150.6 C476.0,154.0 475.5,156.5 475.5,160.6"/>
<path d="M431.5,160.6 C431.8,156.8 432.2,156.8 432.6,155.9 C433.0,154.0 437.0,152.1 442.4,151.9 C456.6,151.6 470.0,151.5 470.8,151.5 C472.4,151.5 473.5,152.6 473.5,154.2 C473.5,156.1 473.0,157.6 473.0,160.6"/>
<path d="M414.0,161.5 C417,135 421,105 423.5,86.3 C424.5,78 427,73 437.4,70 C446,68.2 470,66 493,64.0 C500,63.6 503.5,64.5 505,67 C506,70 505.5,80 505,88.4 C504.5,98 503.5,104 502.9,110 C501.5,120 500.5,124 500.2,126 C498.5,137 496.5,148 495,161.5"/>
</g>
<g fill="none" stroke="#505050" stroke-width="1.0">
<path d="M409.5,161.5 C413,135 418.5,100 421.5,78 C423.5,64 427,57 433,55 C445,50.5 470,47.5 505,45.6 L515,45.2"/>
<path d="M404.5,161.5 C409,135 416,95 419.5,66 C421.5,53 428,46.5 436,45.6 L520,45.0 C530,44.9 534,45.5 533.8,51 C533.5,58 530,66 527.2,72.2 C524,80 521.5,86 519.1,91.1 C516,99 514,104 512.4,110 C511,116 509.5,121 508.3,126 C506.5,136 505,148 503.5,161.5"/>
</g>
<g fill="none" stroke="#3a3a3a" stroke-width="0.85">
<path d="M391.05,161.50 C391.32,160.40 392.01,157.08 392.67,154.88 C393.33,152.67 394.39,150.46 395.02,148.25 C395.65,146.04 395.75,143.83 396.46,141.62 C397.17,139.42 398.46,137.15 399.26,135.00 C400.06,132.85 400.73,130.83 401.27,128.75 C401.80,126.67 401.93,124.58 402.46,122.50 C402.99,120.42 403.85,118.33 404.45,116.25 C405.04,114.17 405.69,111.88 406.03,110.00 C406.38,108.12 406.06,106.67 406.53,105.00 C406.99,103.33 408.27,101.67 408.84,100.00 C409.41,98.33 409.61,96.67 409.95,95.00 C410.29,93.33 410.63,91.46 410.89,90.00 C411.15,88.54 411.05,87.50 411.52,86.25 C411.99,85.00 413.26,83.75 413.70,82.50 C414.13,81.25 413.85,80.00 414.15,78.75 C414.46,77.50 415.16,76.25 415.51,75.00 C415.86,73.75 416.08,72.50 416.26,71.25 C416.43,70.00 416.37,68.75 416.55,67.50 C416.74,66.25 417.27,65.00 417.37,63.75 C417.47,62.50 417.02,60.96 417.16,60.00 C417.30,59.04 418.03,58.67 418.21,58.00 C418.38,57.33 417.99,56.67 418.19,56.00 C418.38,55.33 419.18,54.67 419.35,54.00 C419.52,53.33 419.01,52.47 419.22,52.00 C419.43,51.53 420.14,51.44 420.60,51.16 C421.06,50.88 421.52,50.59 421.99,50.31 C422.45,50.03 422.91,49.75 423.37,49.47 C423.83,49.19 424.02,48.98 424.75,48.63 C425.48,48.27 426.75,47.78 427.75,47.35 C428.75,46.93 429.58,46.36 430.75,46.08 C431.92,45.80 433.42,45.81 434.75,45.67 C436.08,45.54 437.08,45.33 438.75,45.27 C440.42,45.20 442.75,45.28 444.75,45.29 C446.75,45.30 448.67,45.38 450.75,45.32 C452.83,45.27 455.08,45.08 457.25,44.96 C459.42,44.85 462.67,44.67 463.75,44.61"/>
<path d="M392.72,161.50 C393.08,160.40 394.27,157.08 394.86,154.88 C395.44,152.67 395.67,150.46 396.24,148.25 C396.80,146.04 397.67,143.83 398.27,141.62 C398.87,139.42 399.26,137.15 399.85,135.00 C400.44,132.85 401.26,130.83 401.81,128.75 C402.35,126.67 402.73,124.58 403.13,122.50 C403.52,120.42 403.55,118.33 404.18,116.25 C404.81,114.17 406.23,111.88 406.92,110.00 C407.62,108.12 407.91,106.67 408.35,105.00 C408.79,103.33 409.21,101.67 409.55,100.00 C409.88,98.33 409.98,96.67 410.36,95.00 C410.74,93.33 411.50,91.46 411.85,90.00 C412.19,88.54 411.98,87.50 412.44,86.25 C412.90,85.00 414.09,83.75 414.61,82.50 C415.13,81.25 415.24,80.00 415.55,78.75 C415.85,77.50 416.26,76.25 416.44,75.00 C416.63,73.75 416.36,72.50 416.67,71.25 C416.98,70.00 417.92,68.75 418.32,67.50 C418.71,66.25 419.04,65.00 419.05,63.75 C419.05,62.50 418.18,60.96 418.32,60.00 C418.46,59.04 419.63,58.67 419.89,58.00 C420.16,57.33 419.88,56.67 419.92,56.00 C419.97,55.33 419.92,54.67 420.14,54.00 C420.35,53.33 420.86,52.50 421.20,52.00 C421.55,51.50 421.88,51.34 422.21,51.01 C422.55,50.69 422.89,50.36 423.23,50.03 C423.56,49.70 423.90,49.37 424.24,49.04 C424.58,48.71 424.58,48.39 425.25,48.06 C425.92,47.72 427.25,47.36 428.25,47.02 C429.25,46.67 430.08,46.23 431.25,45.98 C432.42,45.73 433.92,45.69 435.25,45.54 C436.58,45.40 437.58,45.21 439.25,45.11 C440.92,45.00 443.25,44.97 445.25,44.90 C447.25,44.83 449.17,44.74 451.25,44.69 C453.33,44.63 455.58,44.60 457.75,44.56 C459.92,44.51 463.17,44.45 464.25,44.43"/>
<path d="M392.40,161.50 C392.71,160.40 393.47,157.08 394.27,154.88 C395.07,152.67 396.47,150.46 397.19,148.25 C397.91,146.04 397.95,143.83 398.58,141.62 C399.22,139.42 400.25,137.15 401.01,135.00 C401.76,132.85 402.40,130.83 403.09,128.75 C403.79,126.67 404.63,124.58 405.17,122.50 C405.71,120.42 405.86,118.33 406.32,116.25 C406.79,114.17 407.34,111.88 407.96,110.00 C408.57,108.12 409.66,106.67 410.03,105.00 C410.40,103.33 409.85,101.67 410.17,100.00 C410.50,98.33 411.55,96.67 411.99,95.00 C412.44,93.33 412.60,91.46 412.83,90.00 C413.05,88.54 413.02,87.50 413.33,86.25 C413.64,85.00 414.23,83.75 414.67,82.50 C415.11,81.25 415.53,80.00 415.98,78.75 C416.44,77.50 417.08,76.25 417.38,75.00 C417.69,73.75 417.69,72.50 417.84,71.25 C417.99,70.00 418.13,68.75 418.31,67.50 C418.49,66.25 418.65,65.00 418.92,63.75 C419.18,62.50 419.70,60.96 419.89,60.00 C420.08,59.04 419.91,58.67 420.05,58.00 C420.19,57.33 420.41,56.67 420.71,56.00 C421.02,55.33 421.62,54.67 421.89,54.00 C422.16,53.33 422.13,52.51 422.35,52.00 C422.57,51.49 422.92,51.30 423.20,50.96 C423.48,50.61 423.77,50.26 424.05,49.91 C424.33,49.56 424.62,49.22 424.90,48.87 C425.18,48.52 425.11,48.15 425.75,47.82 C426.39,47.49 427.75,47.20 428.75,46.89 C429.75,46.58 430.58,46.17 431.75,45.95 C432.92,45.74 434.42,45.71 435.75,45.58 C437.08,45.46 438.08,45.33 439.75,45.21 C441.42,45.09 443.75,44.99 445.75,44.87 C447.75,44.76 449.67,44.59 451.75,44.53 C453.83,44.46 456.08,44.49 458.25,44.48 C460.42,44.46 463.67,44.43 464.75,44.42"/>
<path d="M393.76,161.50 C394.06,160.40 394.87,157.08 395.56,154.88 C396.25,152.67 397.23,150.46 397.88,148.25 C398.53,146.04 398.77,143.83 399.45,141.62 C400.13,139.42 401.21,137.15 401.97,135.00 C402.74,132.85 403.52,130.83 404.04,128.75 C404.55,126.67 404.54,124.58 405.05,122.50 C405.57,120.42 406.30,118.33 407.13,116.25 C407.95,114.17 409.29,111.88 410.01,110.00 C410.74,108.12 411.22,106.67 411.48,105.00 C411.74,103.33 411.31,101.67 411.55,100.00 C411.79,98.33 412.47,96.67 412.91,95.00 C413.34,93.33 413.85,91.46 414.16,90.00 C414.48,88.54 414.51,87.50 414.79,86.25 C415.08,85.00 415.53,83.75 415.87,82.50 C416.20,81.25 416.47,80.00 416.80,78.75 C417.14,77.50 417.57,76.25 417.89,75.00 C418.22,73.75 418.58,72.50 418.75,71.25 C418.91,70.00 418.74,68.75 418.87,67.50 C419.00,66.25 419.22,65.00 419.51,63.75 C419.80,62.50 420.48,60.96 420.60,60.00 C420.72,59.04 420.04,58.67 420.22,58.00 C420.39,57.33 421.25,56.67 421.64,56.00 C422.02,55.33 422.33,54.67 422.53,54.00 C422.74,53.33 422.67,52.50 422.86,52.00 C423.06,51.50 423.43,51.33 423.71,50.99 C423.99,50.66 424.28,50.32 424.56,49.99 C424.84,49.65 425.12,49.32 425.40,48.98 C425.69,48.64 425.61,48.35 426.25,47.97 C426.89,47.59 428.25,47.13 429.25,46.71 C430.25,46.28 431.08,45.69 432.25,45.44 C433.42,45.19 434.92,45.29 436.25,45.22 C437.58,45.14 438.58,45.06 440.25,44.99 C441.92,44.93 444.25,44.86 446.25,44.80 C448.25,44.73 450.17,44.70 452.25,44.60 C454.33,44.51 456.58,44.36 458.75,44.23 C460.92,44.11 464.17,43.92 465.25,43.86"/>
<path d="M395.19,161.50 C395.36,160.40 395.66,157.08 396.20,154.88 C396.73,152.67 397.63,150.46 398.40,148.25 C399.16,146.04 400.02,143.83 400.80,141.62 C401.58,139.42 402.48,137.15 403.09,135.00 C403.71,132.85 403.96,130.83 404.47,128.75 C404.98,126.67 405.55,124.58 406.14,122.50 C406.72,120.42 407.24,118.33 407.97,116.25 C408.70,114.17 410.01,111.88 410.53,110.00 C411.04,108.12 410.67,106.67 411.08,105.00 C411.48,103.33 412.47,101.67 412.96,100.00 C413.46,98.33 413.84,96.67 414.03,95.00 C414.23,93.33 413.94,91.46 414.14,90.00 C414.34,88.54 414.78,87.50 415.25,86.25 C415.72,85.00 416.56,83.75 416.97,82.50 C417.38,81.25 417.39,80.00 417.72,78.75 C418.05,77.50 418.69,76.25 418.93,75.00 C419.16,73.75 419.01,72.50 419.13,71.25 C419.26,70.00 419.41,68.75 419.68,67.50 C419.95,66.25 420.32,65.00 420.76,63.75 C421.19,62.50 422.07,60.96 422.31,60.00 C422.55,59.04 422.08,58.67 422.18,58.00 C422.28,57.33 422.66,56.67 422.89,56.00 C423.13,55.33 423.36,54.67 423.60,54.00 C423.83,53.33 424.10,52.50 424.32,52.00 C424.54,51.50 424.72,51.32 424.93,50.98 C425.13,50.65 425.33,50.31 425.53,49.97 C425.74,49.63 425.94,49.29 426.14,48.95 C426.34,48.61 426.15,48.28 426.75,47.94 C427.35,47.59 428.75,47.25 429.75,46.90 C430.75,46.56 431.58,46.11 432.75,45.87 C433.92,45.63 435.42,45.60 436.75,45.47 C438.08,45.34 439.08,45.15 440.75,45.08 C442.42,45.00 444.75,45.04 446.75,45.03 C448.75,45.01 450.67,45.04 452.75,44.98 C454.83,44.91 457.08,44.76 459.25,44.66 C461.42,44.55 464.67,44.39 465.75,44.34"/>
<path d="M396.22,161.50 C396.57,160.40 397.69,157.08 398.34,154.88 C398.98,152.67 399.50,150.46 400.09,148.25 C400.68,146.04 401.31,143.83 401.89,141.62 C402.46,139.42 402.94,137.15 403.56,135.00 C404.18,132.85 404.95,130.83 405.59,128.75 C406.22,126.67 406.79,124.58 407.38,122.50 C407.97,120.42 408.38,118.33 409.11,116.25 C409.85,114.17 411.26,111.88 411.80,110.00 C412.33,108.12 411.95,106.67 412.32,105.00 C412.69,103.33 413.74,101.67 414.00,100.00 C414.25,98.33 413.53,96.67 413.87,95.00 C414.21,93.33 415.55,91.46 416.01,90.00 C416.48,88.54 416.34,87.50 416.66,86.25 C416.98,85.00 417.56,83.75 417.92,82.50 C418.28,81.25 418.52,80.00 418.82,78.75 C419.13,77.50 419.50,76.25 419.77,75.00 C420.04,73.75 420.27,72.50 420.44,71.25 C420.61,70.00 420.36,68.75 420.78,67.50 C421.19,66.25 422.52,65.00 422.93,63.75 C423.34,62.50 423.09,60.96 423.25,60.00 C423.41,59.04 423.63,58.67 423.90,58.00 C424.18,57.33 424.68,56.67 424.89,56.00 C425.10,55.33 425.05,54.67 425.17,54.00 C425.29,53.33 425.47,52.47 425.61,52.00 C425.75,51.53 425.88,51.45 426.02,51.18 C426.16,50.91 426.29,50.63 426.43,50.36 C426.57,50.09 426.70,49.81 426.84,49.54 C426.98,49.26 426.68,49.06 427.25,48.72 C427.82,48.37 429.25,47.87 430.25,47.45 C431.25,47.03 432.08,46.44 433.25,46.19 C434.42,45.93 435.92,46.02 437.25,45.94 C438.58,45.86 439.58,45.77 441.25,45.70 C442.92,45.62 445.25,45.56 447.25,45.49 C449.25,45.42 451.17,45.38 453.25,45.28 C455.33,45.18 457.58,45.01 459.75,44.87 C461.92,44.73 465.17,44.53 466.25,44.46"/>
<path d="M389.5,160.5 L398,140 L405,122 L410,108" stroke="#222" stroke-width="1.1" stroke-dasharray="3,1.5"/>
<path d="M394,160.5 C400,140 406,122 411,106" />
<path d="M399,160.5 C404,140 409,122 413,104" />
</g>
<g fill="none" stroke="#4a4a4a" stroke-width="0.95">
<path d="M506.5,160.6 C510.5,137.1 529.4,92 537.4,74"/>
<path d="M510.5,160.6 C514.5,137.1 529.4,109 537.4,91"/>
<path d="M514.5,160.6 C518.5,137.1 529.4,125 537.4,107"/>
<path d="M519.0,160.6 C523.0,137.1 529.4,140 537.4,122"/>
</g>
<g fill="none" stroke="#454545" stroke-width="0.8">
<path d="M503.82,159.97 C503.88,159.75 504.09,159.09 504.23,158.65 C504.36,158.20 504.49,157.74 504.62,157.30 C504.76,156.85 504.90,156.40 505.06,155.97 C505.22,155.55 505.38,155.12 505.58,154.73 C505.78,154.33 505.99,153.95 506.23,153.59 C506.48,153.23 506.74,152.89 507.03,152.58 C507.32,152.26 507.64,151.97 507.98,151.69 C508.31,151.41 508.68,151.15 509.05,150.90 C509.41,150.65 509.81,150.42 510.19,150.18 C510.58,149.95 510.98,149.72 511.36,149.48 C511.75,149.24 512.14,149.00 512.50,148.74 C512.87,148.48 513.23,148.21 513.56,147.91 C513.89,147.62 514.21,147.30 514.50,146.96 C514.79,146.63 515.05,146.27 515.29,145.88 C515.54,145.50 515.75,145.09 515.95,144.66 C516.15,144.24 516.33,143.79 516.50,143.33 C516.67,142.88 516.81,142.40 516.97,141.93 C517.12,141.46 517.27,140.97 517.42,140.50 C517.58,140.03 517.74,139.55 517.92,139.09 C518.10,138.64 518.28,138.19 518.50,137.77 C518.72,137.34 518.95,136.93 519.21,136.55 C519.48,136.16 519.76,135.80 520.07,135.46 C520.38,135.11 520.72,134.79 521.08,134.49 C521.43,134.18 521.82,133.90 522.21,133.62 C522.59,133.35 523.00,133.09 523.41,132.82 C523.82,132.56 524.24,132.31 524.64,132.04 C525.05,131.77 525.46,131.50 525.84,131.22 C526.23,130.93 526.61,130.63 526.96,130.31 C527.31,129.99 527.65,129.65 527.96,129.28 C528.27,128.92 528.55,128.53 528.81,128.12 C529.08,127.71 529.31,127.28 529.53,126.82 C529.75,126.37 529.95,125.90 530.14,125.41 C530.33,124.93 530.49,124.43 530.67,123.93 C530.84,123.43 531.01,122.92 531.18,122.42 C531.36,121.92 531.54,121.42 531.74,120.94 C531.94,120.45 532.14,119.98 532.38,119.53 C532.62,119.07 532.87,118.64 533.15,118.23 C533.44,117.82 533.74,117.42 534.07,117.06 C534.40,116.69 534.76,116.34 535.14,116.01 C535.51,115.68 536.13,115.22 536.33,115.06"/>
<path d="M503.55,159.73 C503.75,159.63 504.37,159.34 504.77,159.15 C505.18,158.95 505.59,158.76 505.97,158.54 C506.36,158.31 506.73,158.08 507.06,157.81 C507.39,157.54 507.69,157.24 507.95,156.90 C508.21,156.56 508.43,156.18 508.62,155.78 C508.81,155.37 508.96,154.93 509.10,154.47 C509.24,154.01 509.34,153.52 509.45,153.04 C509.57,152.56 509.66,152.06 509.79,151.58 C509.91,151.11 510.03,150.63 510.20,150.19 C510.37,149.76 510.56,149.33 510.79,148.95 C511.02,148.57 511.29,148.22 511.60,147.91 C511.90,147.59 512.26,147.31 512.63,147.05 C513.00,146.79 513.41,146.57 513.82,146.34 C514.23,146.12 514.67,145.92 515.09,145.70 C515.51,145.48 515.94,145.27 516.34,145.02 C516.73,144.77 517.11,144.51 517.45,144.21 C517.79,143.91 518.10,143.58 518.37,143.21 C518.64,142.85 518.87,142.44 519.07,142.01 C519.27,141.58 519.43,141.10 519.58,140.62 C519.73,140.14 519.85,139.63 519.98,139.12 C520.11,138.62 520.22,138.10 520.36,137.60 C520.51,137.11 520.65,136.61 520.84,136.16 C521.03,135.70 521.24,135.27 521.50,134.87 C521.75,134.48 522.05,134.11 522.38,133.78 C522.71,133.45 523.08,133.16 523.47,132.88 C523.86,132.60 524.30,132.36 524.73,132.12 C525.16,131.87 525.62,131.65 526.05,131.41 C526.48,131.16 526.93,130.93 527.33,130.65 C527.74,130.38 528.13,130.09 528.48,129.77 C528.83,129.44 529.15,129.08 529.43,128.68 C529.71,128.29 529.94,127.85 530.16,127.40 C530.37,126.94 530.54,126.44 530.70,125.93 C530.86,125.42 530.99,124.88 531.14,124.36 C531.28,123.83 531.41,123.29 531.58,122.78 C531.74,122.26 531.91,121.75 532.12,121.28 C532.33,120.81 532.56,120.36 532.84,119.95 C533.12,119.54 533.44,119.16 533.79,118.81 C534.14,118.46 534.54,118.16 534.95,117.86 C535.37,117.57 535.82,117.31 536.27,117.04 C536.72,116.78 537.41,116.40 537.64,116.27"/>
<path d="M503.88,160.03 C503.96,159.82 504.14,159.14 504.35,158.75 C504.55,158.37 504.81,158.04 505.12,157.75 C505.42,157.46 505.80,157.23 506.19,157.01 C506.58,156.80 507.04,156.64 507.47,156.46 C507.90,156.28 508.37,156.13 508.79,155.93 C509.21,155.74 509.62,155.53 509.97,155.27 C510.32,155.01 510.63,154.71 510.89,154.35 C511.14,154.00 511.33,153.59 511.49,153.14 C511.65,152.70 511.74,152.20 511.84,151.70 C511.94,151.20 512.00,150.66 512.09,150.15 C512.19,149.64 512.27,149.12 512.42,148.66 C512.57,148.20 512.74,147.76 512.98,147.37 C513.22,146.99 513.51,146.66 513.85,146.37 C514.19,146.08 514.60,145.85 515.01,145.62 C515.43,145.40 515.91,145.23 516.36,145.03 C516.80,144.84 517.28,144.66 517.70,144.44 C518.12,144.21 518.54,143.98 518.88,143.68 C519.23,143.39 519.53,143.05 519.78,142.66 C520.02,142.27 520.21,141.82 520.37,141.34 C520.52,140.87 520.62,140.33 520.73,139.81 C520.84,139.29 520.90,138.72 521.02,138.20 C521.13,137.68 521.24,137.16 521.42,136.69 C521.59,136.22 521.80,135.78 522.07,135.40 C522.34,135.02 522.68,134.69 523.05,134.39 C523.42,134.10 523.85,133.87 524.30,133.64 C524.74,133.40 525.23,133.22 525.69,133.00 C526.15,132.79 526.64,132.59 527.06,132.33 C527.49,132.08 527.89,131.81 528.23,131.48 C528.58,131.15 528.87,130.77 529.11,130.34 C529.35,129.92 529.53,129.43 529.69,128.92 C529.85,128.42 529.94,127.86 530.06,127.31 C530.18,126.77 530.27,126.19 530.40,125.66 C530.54,125.13 530.68,124.59 530.88,124.12 C531.09,123.65 531.33,123.22 531.64,122.83 C531.94,122.45 532.31,122.12 532.71,121.82 C533.11,121.53 533.57,121.29 534.04,121.05 C534.50,120.80 535.01,120.60 535.48,120.37 C535.96,120.13 536.44,119.90 536.87,119.62 C537.29,119.33 537.69,119.03 538.03,118.66 C538.37,118.29 538.74,117.62 538.89,117.41"/>
<path d="M505.89,161.88 C505.94,161.64 506.09,160.93 506.16,160.42 C506.22,159.91 506.22,159.34 506.29,158.83 C506.36,158.32 506.42,157.80 506.57,157.37 C506.73,156.93 506.93,156.55 507.22,156.23 C507.51,155.91 507.88,155.68 508.29,155.47 C508.69,155.26 509.19,155.14 509.65,154.97 C510.11,154.81 510.62,154.70 511.05,154.51 C511.48,154.31 511.90,154.11 512.22,153.82 C512.55,153.53 512.80,153.17 513.00,152.76 C513.19,152.34 513.29,151.84 513.38,151.33 C513.48,150.82 513.49,150.24 513.56,149.71 C513.63,149.18 513.67,148.61 513.81,148.14 C513.94,147.66 514.11,147.21 514.36,146.84 C514.62,146.47 514.96,146.18 515.34,145.93 C515.73,145.67 516.21,145.51 516.67,145.33 C517.14,145.14 517.67,145.02 518.13,144.83 C518.59,144.64 519.06,144.46 519.43,144.18 C519.80,143.91 520.12,143.59 520.37,143.20 C520.61,142.80 520.76,142.33 520.89,141.83 C521.02,141.32 521.06,140.74 521.14,140.19 C521.22,139.64 521.25,139.05 521.37,138.53 C521.49,138.01 521.62,137.51 521.85,137.09 C522.08,136.67 522.38,136.31 522.74,136.01 C523.10,135.71 523.55,135.50 524.01,135.28 C524.47,135.07 525.01,134.93 525.50,134.74 C525.98,134.54 526.49,134.37 526.91,134.11 C527.32,133.86 527.71,133.57 528.00,133.20 C528.30,132.83 528.51,132.38 528.68,131.89 C528.85,131.40 528.93,130.82 529.03,130.26 C529.12,129.71 529.16,129.09 529.27,128.54 C529.37,127.99 529.48,127.43 529.68,126.96 C529.88,126.49 530.14,126.07 530.47,125.72 C530.80,125.37 531.23,125.10 531.68,124.85 C532.12,124.60 532.66,124.44 533.16,124.23 C533.65,124.02 534.20,123.86 534.65,123.61 C535.11,123.36 535.55,123.10 535.90,122.75 C536.25,122.40 536.52,121.99 536.74,121.52 C536.96,121.05 537.08,120.48 537.20,119.92 C537.32,119.36 537.37,118.73 537.48,118.15 C537.59,117.58 537.79,116.74 537.85,116.46"/>
<path d="M506.64,162.56 C506.72,162.35 507.02,161.78 507.12,161.30 C507.22,160.82 507.19,160.23 507.23,159.69 C507.26,159.15 507.23,158.55 507.33,158.06 C507.42,157.57 507.55,157.11 507.80,156.76 C508.05,156.41 508.41,156.17 508.82,155.96 C509.23,155.75 509.76,155.66 510.25,155.52 C510.73,155.38 511.28,155.31 511.72,155.12 C512.15,154.93 512.56,154.72 512.85,154.39 C513.14,154.07 513.32,153.65 513.45,153.17 C513.58,152.70 513.58,152.11 513.63,151.56 C513.67,151.00 513.64,150.38 513.73,149.86 C513.82,149.35 513.92,148.84 514.16,148.46 C514.39,148.07 514.72,147.77 515.12,147.53 C515.51,147.29 516.04,147.17 516.53,147.01 C517.02,146.86 517.59,146.78 518.05,146.59 C518.51,146.40 518.96,146.21 519.29,145.90 C519.62,145.58 519.85,145.18 520.01,144.72 C520.17,144.25 520.20,143.66 520.27,143.10 C520.33,142.54 520.30,141.90 520.38,141.36 C520.47,140.81 520.55,140.27 520.76,139.84 C520.98,139.42 521.28,139.07 521.66,138.80 C522.05,138.52 522.56,138.36 523.05,138.19 C523.54,138.01 524.13,137.92 524.62,137.73 C525.10,137.55 525.59,137.36 525.95,137.06 C526.32,136.76 526.60,136.38 526.79,135.93 C526.99,135.47 527.06,134.89 527.14,134.33 C527.22,133.76 527.20,133.10 527.28,132.54 C527.36,131.97 527.43,131.39 527.63,130.92 C527.82,130.46 528.10,130.06 528.47,129.75 C528.83,129.44 529.33,129.24 529.82,129.04 C530.31,128.84 530.91,128.74 531.41,128.55 C531.92,128.36 532.45,128.19 532.85,127.90 C533.24,127.61 533.57,127.25 533.80,126.80 C534.04,126.36 534.14,125.80 534.25,125.23 C534.35,124.66 534.34,123.99 534.43,123.40 C534.51,122.81 534.56,122.19 534.74,121.69 C534.93,121.19 535.17,120.75 535.52,120.40 C535.87,120.05 536.35,119.81 536.83,119.59 C537.32,119.36 537.93,119.24 538.45,119.04 C538.97,118.84 539.71,118.51 539.96,118.40"/>
</g>
</svg>
<rect x="386.3" y="43.6" width="150.3" height="115.5" fill="none" stroke="#444" stroke-width="1.1"/>
<path d="M397.4,159.1v-2M397.4,43.6v2M451.0,159.1v-2M451.0,43.6v2M504.6,159.1v-2M504.6,43.6v2M386.3,136.0h2M536.6,136.0h-2M386.3,112.9h2M536.6,112.9h-2M386.3,89.8h2M536.6,89.8h-2M386.3,66.7h2M536.6,66.7h-2" stroke="#444" stroke-width="1" fill="none"/>
<g font-family="Liberation Sans, Arial, sans-serif" font-size="8" fill="#444" stroke="#444" stroke-width="0.15">
<text x="397.4" y="166.5" text-anchor="middle">50</text>
<text x="393.0" y="166.5" text-anchor="end">&#8722;</text>
<text x="451.0" y="166.5" text-anchor="middle">0</text>
<text x="504.6" y="166.5" text-anchor="middle">50</text>
<text x="384.7" y="162.0" text-anchor="end">0</text>
<text x="384.7" y="138.9" text-anchor="end">0.2</text>
<text x="384.7" y="115.8" text-anchor="end">0.4</text>
<text x="384.7" y="92.7" text-anchor="end">0.6</text>
<text x="384.7" y="69.6" text-anchor="end">0.8</text>
</g>
<g font-family="Liberation Sans, Arial, sans-serif" font-size="9.6" fill="#333" stroke="#333" stroke-width="0.2">
<text x="472.4" y="174.3" text-anchor="middle">H(A/m)</text>
<text transform="translate(368.3,99) rotate(-90)" text-anchor="middle">B(T)</text>
</g>
<path d="M337.7,134.7L423.5,111.4" stroke="#000" stroke-width="1.9" fill="none"/>
<path d="M431.2,109.3L420.6,106.8L422.9,115.3Z" fill="#000"/>
<g font-family="Liberation Serif, Times New Roman, serif" font-size="14" fill="#111">
<text x="130.2" y="251" text-anchor="middle">(<tspan font-weight="bold">a</tspan>)</text>
<text x="413.8" y="251" text-anchor="middle">(<tspan font-weight="bold">b</tspan>)</text>
</g>
</svg>
</body></html>
